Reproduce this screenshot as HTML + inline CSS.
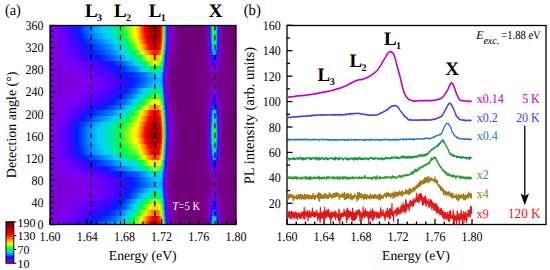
<!DOCTYPE html>
<html><head><meta charset="utf-8"><style>
html,body{margin:0;padding:0;background:#fff;width:550px;height:270px;overflow:hidden}
#wrap{position:relative;width:550px;height:270px}
#heat{position:absolute;left:50.00px;top:25.50px;width:186.00px;height:199.00px;overflow:hidden}
.r{position:absolute;left:0;width:100%}
svg{position:absolute;left:0;top:0}
text{font-family:"Liberation Serif",serif;text-rendering:geometricPrecision}
</style></head><body><div id="wrap">
<div id="heat"><div class="r" style="top:0.00px;height:3.26px;background:linear-gradient(90deg,#7c00e1 0px,#7c00e4 1px,#7c00e7 2px,#7c00ea 3px,#7c00ed 4px,#7b00ef 5px,#7800f0 6px,#7600f1 7px,#7300f2 8px,#7000f3 9px,#6d00f4 10px,#6a00f5 11px,#6700f6 12px,#6300f7 13px,#6000f9 14px,#5c00fa 15px,#5800fc 16px,#5400fd 17px,#5000ff 18px,#4a02ff 19px,#4205ff 20px,#3b08ff 21px,#330bff 22px,#2c0eff 23px,#2410ff 24px,#1d13ff 25px,#1616ff 26px,#0e19ff 27px,#071bff 28px,#001fff 29px,#0027ff 30px,#0030ff 31px,#0038ff 32px,#0041ff 33px,#0049ff 34px,#0052ff 35px,#005aff 36px,#0063ff 37px,#006cff 38px,#0074ff 39px,#007dff 40px,#0084ff 41px,#008cff 42px,#0093ff 43px,#009aff 44px,#00a0ff 45px,#00a7ff 46px,#00adff 47px,#00b4ff 48px,#00baff 49px,#00c0ff 50px,#00c7ff 51px,#00cdff 52px,#00d2fe 53px,#00d4f8 54px,#00d5f1 55px,#00d7ea 56px,#00d8e3 57px,#00dadc 58px,#00dcd5 59px,#00ddce 60px,#00dfc6 61px,#00e1be 62px,#00e3b3 63px,#00e6a8 64px,#00e99b 65px,#00ec8f 66px,#00ee84 67px,#00f178 68px,#00f46c 69px,#00f760 70px,#00fa53 71px,#00fd46 72px,#04ff3b 73px,#17ff37 74px,#2aff32 75px,#3fff2d 76px,#55ff28 77px,#6cff23 78px,#84ff1d 79px,#9dff17 80px,#b7ff11 81px,#d1ff0b 82px,#ecff05 83px,#fffc00 84px,#fff100 85px,#ffe500 86px,#ffd800 87px,#ffc800 88px,#ffb000 89px,#ff9300 90px,#ff7000 91px,#ff5100 92px,#ff3200 93px,#ff1300 94px,#fa0000 95px,#ec0000 96px,#dd0000 97px,#ce0000 98px,#c10000 99px,#b60000 100px,#ab0000 101px,#a20000 102px,#990000 103px,#910000 104px,#8d0000 105px,#900000 106px,#980000 107px,#a20000 108px,#b10000 109px,#c80000 110px,#e70000 111px,#ff3800 112px,#ffc100 113px,#70ff22 114px,#00e4b2 115px,#0085ff 116px,#0c1aff 117px,#5f00f9 118px,#7c00ec 119px,#7c00d5 120px,#7c00cc 121px,#7c00c6 122px,#7c00bf 123px,#7c00b4 124px,#7a00a8 125px,#79009b 126px,#77008d 127px,#740083 128px,#72007e 129px,#71007b 130px,#700079 131px,#6f0078 132px,#6f0078 133px,#6f0077 134px,#6f0077 135px,#6f0077 136px,#6f0077 137px,#6f0077 138px,#6f0077 139px,#6f0077 140px,#6f0077 141px,#6f0077 142px,#6f0077 143px,#6f0077 144px,#6f0077 145px,#6f0077 146px,#6f0077 147px,#6f0078 148px,#6f0078 149px,#700079 150px,#70007a 151px,#71007c 152px,#72007e 153px,#740082 154px,#760086 155px,#770091 156px,#7a00a3 157px,#7c00c0 158px,#7600f0 159px,#2e0dff 160px,#007cff 161px,#00e2b8 162px,#0bff3a 163px,#58ff27 164px,#2dff32 165px,#00ed8c 166px,#00a9ff 167px,#0a1aff 168px,#6700f6 169px,#7c00ce 170px,#7b00a9 171px,#780096 172px,#760089 173px,#740083 174px,#72007f 175px,#71007c 176px,#70007a 177px,#700079 178px,#6f0078 179px,#6f0078 180px,#6f0077 181px,#6f0077 182px,#6f0077 183px,#6f0077 184px,#6f0077 185px,#6f0077 186px)"></div><div class="r" style="top:2.06px;height:6.73px;background:linear-gradient(90deg,#7c00e1 0px,#7c00e4 1px,#7c00e7 2px,#7c00ea 3px,#7c00ed 4px,#7b00ef 5px,#7800f0 6px,#7600f1 7px,#7300f2 8px,#7000f3 9px,#6d00f4 10px,#6a00f5 11px,#6700f6 12px,#6300f7 13px,#6000f9 14px,#5c00fa 15px,#5800fc 16px,#5400fd 17px,#5000ff 18px,#4a02ff 19px,#4205ff 20px,#3b08ff 21px,#330bff 22px,#2c0eff 23px,#2410ff 24px,#1d13ff 25px,#1616ff 26px,#0e19ff 27px,#071bff 28px,#001fff 29px,#0027ff 30px,#0030ff 31px,#0038ff 32px,#0041ff 33px,#0049ff 34px,#0052ff 35px,#005aff 36px,#0063ff 37px,#006cff 38px,#0074ff 39px,#007dff 40px,#0084ff 41px,#008cff 42px,#0093ff 43px,#009aff 44px,#00a0ff 45px,#00a7ff 46px,#00adff 47px,#00b4ff 48px,#00baff 49px,#00c0ff 50px,#00c7ff 51px,#00cdff 52px,#00d2fe 53px,#00d4f8 54px,#00d5f1 55px,#00d7ea 56px,#00d8e3 57px,#00dadc 58px,#00dcd5 59px,#00ddce 60px,#00dfc6 61px,#00e1be 62px,#00e3b3 63px,#00e6a8 64px,#00e99b 65px,#00ec8f 66px,#00ee84 67px,#00f178 68px,#00f46c 69px,#00f760 70px,#00fa53 71px,#00fd46 72px,#04ff3b 73px,#17ff37 74px,#2aff32 75px,#3fff2d 76px,#55ff28 77px,#6cff23 78px,#84ff1d 79px,#9dff17 80px,#b7ff11 81px,#d1ff0b 82px,#ecff05 83px,#fffc00 84px,#fff100 85px,#ffe500 86px,#ffd800 87px,#ffc800 88px,#ffb000 89px,#ff9300 90px,#ff7000 91px,#ff5100 92px,#ff3200 93px,#ff1300 94px,#fa0000 95px,#ec0000 96px,#dd0000 97px,#ce0000 98px,#c10000 99px,#b60000 100px,#ab0000 101px,#a20000 102px,#990000 103px,#910000 104px,#8d0000 105px,#900000 106px,#980000 107px,#a20000 108px,#b10000 109px,#c80000 110px,#e70000 111px,#ff3800 112px,#ffc100 113px,#70ff22 114px,#00e4b2 115px,#0085ff 116px,#0c1aff 117px,#5f00f9 118px,#7c00ec 119px,#7c00d5 120px,#7c00cc 121px,#7c00c6 122px,#7c00bf 123px,#7c00b4 124px,#7a00a8 125px,#79009b 126px,#77008d 127px,#740083 128px,#72007e 129px,#71007b 130px,#700079 131px,#6f0078 132px,#6f0078 133px,#6f0077 134px,#6f0077 135px,#6f0077 136px,#6f0077 137px,#6f0077 138px,#6f0077 139px,#6f0077 140px,#6f0077 141px,#6f0077 142px,#6f0077 143px,#6f0077 144px,#6f0077 145px,#6f0077 146px,#6f0077 147px,#6f0078 148px,#6f0078 149px,#700079 150px,#70007a 151px,#71007c 152px,#72007e 153px,#740082 154px,#760086 155px,#770091 156px,#7a00a3 157px,#7c00c0 158px,#7600f0 159px,#2e0dff 160px,#007cff 161px,#00e2b8 162px,#0bff3a 163px,#58ff27 164px,#2dff32 165px,#00ed8c 166px,#00a9ff 167px,#0a1aff 168px,#6700f6 169px,#7c00ce 170px,#7b00a9 171px,#780096 172px,#760089 173px,#740083 174px,#72007f 175px,#71007c 176px,#70007a 177px,#700079 178px,#6f0078 179px,#6f0078 180px,#6f0077 181px,#6f0077 182px,#6f0077 183px,#6f0077 184px,#6f0077 185px,#6f0077 186px)"></div><div class="r" style="top:7.59px;height:6.73px;background:linear-gradient(90deg,#7c00e1 0px,#7c00e3 1px,#7c00e6 2px,#7c00e8 3px,#7c00eb 4px,#7c00ee 5px,#7a00ef 6px,#7700f0 7px,#7500f1 8px,#7200f2 9px,#6f00f3 10px,#6d00f4 11px,#6a00f5 12px,#6600f6 13px,#6300f8 14px,#6000f9 15px,#5c00fa 16px,#5900fc 17px,#5500fd 18px,#5100ff 19px,#4b02ff 20px,#4404ff 21px,#3d07ff 22px,#360aff 23px,#2f0cff 24px,#280fff 25px,#2211ff 26px,#1b14ff 27px,#1417ff 28px,#0d19ff 29px,#061cff 30px,#0020ff 31px,#0028ff 32px,#0030ff 33px,#0038ff 34px,#0040ff 35px,#0048ff 36px,#0050ff 37px,#0059ff 38px,#0061ff 39px,#0068ff 40px,#0070ff 41px,#0077ff 42px,#007dff 43px,#0084ff 44px,#008aff 45px,#0091ff 46px,#0097ff 47px,#009dff 48px,#00a3ff 49px,#00a9ff 50px,#00afff 51px,#00b5ff 52px,#00bbff 53px,#00c1ff 54px,#00c7ff 55px,#00cdff 56px,#00d2fe 57px,#00d4f7 58px,#00d5f0 59px,#00d7e9 60px,#00d9e2 61px,#00dbda 62px,#00ddd0 63px,#00dfc5 64px,#00e2b9 65px,#00e5ad 66px,#00e7a2 67px,#00ea97 68px,#00ed8c 69px,#00ef80 70px,#00f273 71px,#00f566 72px,#00f858 73px,#00fc4a 74px,#02ff3c 75px,#17ff37 76px,#2eff31 77px,#46ff2c 78px,#5fff26 79px,#79ff20 80px,#94ff19 81px,#afff13 82px,#cbff0c 83px,#e6ff06 84px,#ffff00 85px,#fff200 86px,#ffe500 87px,#ffd400 88px,#ffbd00 89px,#ffa000 90px,#ff8100 91px,#ff6200 92px,#ff4400 93px,#ff2600 94px,#ff0600 95px,#f40000 96px,#e50000 97px,#d70000 98px,#ca0000 99px,#bf0000 100px,#b40000 101px,#ab0000 102px,#a30000 103px,#9b0000 104px,#970000 105px,#9a0000 106px,#a10000 107px,#ab0000 108px,#ba0000 109px,#d00000 110px,#ee0000 111px,#ff4800 112px,#ffcc00 113px,#5bff27 114px,#00e0c0 115px,#007bff 116px,#1217ff 117px,#6100f8 118px,#7c00e9 119px,#7c00d2 120px,#7c00c9 121px,#7c00c3 122px,#7c00bc 123px,#7c00b2 124px,#7a00a6 125px,#780099 126px,#77008c 127px,#740083 128px,#72007e 129px,#70007b 130px,#700079 131px,#6f0078 132px,#6f0077 133px,#6f0077 134px,#6f0077 135px,#6f0077 136px,#6f0077 137px,#6f0077 138px,#6f0077 139px,#6f0077 140px,#6f0077 141px,#6f0077 142px,#6f0077 143px,#6f0077 144px,#6f0077 145px,#6f0077 146px,#6f0077 147px,#6f0078 148px,#6f0078 149px,#700079 150px,#70007b 151px,#71007c 152px,#72007f 153px,#740082 154px,#760087 155px,#780093 156px,#7a00a3 157px,#7c00c0 158px,#7800f0 159px,#330bff 160px,#0071ff 161px,#00dfc9 162px,#00fc49 163px,#3aff2e 164px,#10ff38 165px,#00e89e 166px,#009cff 167px,#1118ff 168px,#6900f5 169px,#7c00cd 170px,#7b00aa 171px,#780097 172px,#76008a 173px,#750084 174px,#730080 175px,#72007d 176px,#71007b 177px,#70007a 178px,#700079 179px,#6f0078 180px,#6f0077 181px,#6f0077 182px,#6f0077 183px,#6f0077 184px,#6f0077 185px,#6f0077 186px)"></div><div class="r" style="top:13.12px;height:6.73px;background:linear-gradient(90deg,#7c00df 0px,#7c00e1 1px,#7c00e3 2px,#7c00e6 3px,#7c00e8 4px,#7c00eb 5px,#7c00ed 6px,#7a00ef 7px,#7800ef 8px,#7600f0 9px,#7400f1 10px,#7100f2 11px,#6e00f3 12px,#6c00f4 13px,#6900f5 14px,#6600f7 15px,#6300f8 16px,#6000f9 17px,#5c00fa 18px,#5900fc 19px,#5600fd 20px,#5200fe 21px,#4e01ff 22px,#4803ff 23px,#4205ff 24px,#3c07ff 25px,#360aff 26px,#300cff 27px,#2a0eff 28px,#2311ff 29px,#1d13ff 30px,#1716ff 31px,#1018ff 32px,#0a1aff 33px,#031dff 34px,#0021ff 35px,#0029ff 36px,#0030ff 37px,#0037ff 38px,#003fff 39px,#0046ff 40px,#004cff 41px,#0053ff 42px,#0059ff 43px,#005fff 44px,#0065ff 45px,#006aff 46px,#0070ff 47px,#0076ff 48px,#007bff 49px,#0081ff 50px,#0087ff 51px,#008cff 52px,#0092ff 53px,#0097ff 54px,#009dff 55px,#00a3ff 56px,#00a8ff 57px,#00aeff 58px,#00b4ff 59px,#00baff 60px,#00c1ff 61px,#00c8ff 62px,#00d1ff 63px,#00d4f6 64px,#00d7eb 65px,#00d9e1 66px,#00dbd7 67px,#00decc 68px,#00e0c2 69px,#00e3b6 70px,#00e6aa 71px,#00e99d 72px,#00ec8f 73px,#00ef81 74px,#00f371 75px,#00f760 76px,#00fb4f 77px,#00ff3c 78px,#1aff36 79px,#34ff30 80px,#50ff29 81px,#6cff23 82px,#89ff1c 83px,#a5ff15 84px,#c0ff0f 85px,#dcff08 86px,#fbff01 87px,#fff100 88px,#ffda00 89px,#ffbe00 90px,#ffa300 91px,#ff8a00 92px,#ff6e00 93px,#ff5200 94px,#ff3300 95px,#ff1100 96px,#f80000 97px,#ea0000 98px,#de0000 99px,#d30000 100px,#ca0000 101px,#c20000 102px,#b90000 103px,#b20000 104px,#ae0000 105px,#b10000 106px,#b80000 107px,#c10000 108px,#ce0000 109px,#e30000 110px,#ff0000 111px,#ff6e00 112px,#ffe700 113px,#29ff32 114px,#00d9e1 115px,#0064ff 116px,#2211ff 117px,#6700f6 118px,#7c00e3 119px,#7c00cc 120px,#7c00c2 121px,#7c00bc 122px,#7c00b6 123px,#7b00ad 124px,#7a00a2 125px,#780096 126px,#76008a 127px,#740082 128px,#72007d 129px,#70007a 130px,#700079 131px,#6f0078 132px,#6f0077 133px,#6f0077 134px,#6f0077 135px,#6f0077 136px,#6f0077 137px,#6f0077 138px,#6f0077 139px,#6f0077 140px,#6f0077 141px,#6f0077 142px,#6f0077 143px,#6f0077 144px,#6f0077 145px,#6f0078 146px,#6f0078 147px,#700079 148px,#700079 149px,#70007a 150px,#71007c 151px,#72007e 152px,#730081 153px,#750084 154px,#76008a 155px,#780095 156px,#7a00a5 157px,#7c00bf 158px,#7b00ee 159px,#4205ff 160px,#0057ff 161px,#00d5f1 162px,#00f17a 163px,#00fd45 164px,#00f663 165px,#00deca 166px,#007fff 167px,#2211ff 168px,#6e00f3 169px,#7c00cb 170px,#7b00ab 171px,#780099 172px,#77008d 173px,#750086 174px,#740082 175px,#72007f 176px,#71007d 177px,#71007b 178px,#70007a 179px,#700079 180px,#6f0078 181px,#6f0078 182px,#6f0077 183px,#6f0077 184px,#6f0077 185px,#6f0077 186px)"></div><div class="r" style="top:18.65px;height:6.73px;background:linear-gradient(90deg,#7c00de 0px,#7c00e0 1px,#7c00e2 2px,#7c00e4 3px,#7c00e6 4px,#7c00e8 5px,#7c00ea 6px,#7c00ec 7px,#7b00ee 8px,#7900ef 9px,#7700f0 10px,#7500f1 11px,#7300f2 12px,#7000f2 13px,#6e00f3 14px,#6b00f4 15px,#6900f5 16px,#6600f7 17px,#6300f8 18px,#6000f9 19px,#5d00fa 20px,#5b00fb 21px,#5800fc 22px,#5500fd 23px,#5200fe 24px,#4e01ff 25px,#4903ff 26px,#4305ff 27px,#3e07ff 28px,#3809ff 29px,#320bff 30px,#2d0dff 31px,#270fff 32px,#2112ff 33px,#1c14ff 34px,#1616ff 35px,#1018ff 36px,#0a1aff 37px,#041cff 38px,#0020ff 39px,#0026ff 40px,#002cff 41px,#0032ff 42px,#0037ff 43px,#003dff 44px,#0042ff 45px,#0047ff 46px,#004dff 47px,#0052ff 48px,#0057ff 49px,#005cff 50px,#0062ff 51px,#0067ff 52px,#006cff 53px,#0071ff 54px,#0077ff 55px,#007cff 56px,#0082ff 57px,#0087ff 58px,#008dff 59px,#0093ff 60px,#0099ff 61px,#00a0ff 62px,#00a7ff 63px,#00b0ff 64px,#00b9ff 65px,#00c2ff 66px,#00cbff 67px,#00d2fd 68px,#00d5f3 69px,#00d7e9 70px,#00dadd 71px,#00ddd1 72px,#00e0c4 73px,#00e3b6 74px,#00e6a8 75px,#00ea98 76px,#00ee88 77px,#00f276 78px,#00f664 79px,#00fa50 80px,#00ff3d 81px,#1aff36 82px,#34ff30 83px,#4fff29 84px,#68ff24 85px,#82ff1d 86px,#9fff17 87px,#c0ff0f 88px,#eeff04 89px,#ffed00 90px,#ffd400 91px,#ffbf00 92px,#ffaa00 93px,#ff9500 94px,#ff7b00 95px,#ff5d00 96px,#ff3b00 97px,#ff1b00 98px,#fe0000 99px,#f40000 100px,#ec0000 101px,#e40000 102px,#dd0000 103px,#d60000 104px,#d30000 105px,#d50000 106px,#db0000 107px,#e20000 108px,#ee0000 109px,#ff0300 110px,#ff4600 111px,#ffa500 112px,#daff09 113px,#00f858 114px,#00beff 115px,#0040ff 116px,#3a08ff 117px,#7000f3 118px,#7c00d9 119px,#7c00c2 120px,#7c00b8 121px,#7c00b2 122px,#7b00ad 123px,#7a00a6 124px,#79009c 125px,#770091 126px,#760087 127px,#730081 128px,#71007c 129px,#70007a 130px,#700079 131px,#6f0078 132px,#6f0077 133px,#6f0077 134px,#6f0077 135px,#6f0077 136px,#6f0077 137px,#6f0077 138px,#6f0077 139px,#6f0077 140px,#6f0077 141px,#6f0077 142px,#6f0077 143px,#6f0078 144px,#6f0078 145px,#700079 146px,#700079 147px,#70007a 148px,#71007b 149px,#71007d 150px,#72007f 151px,#730081 152px,#740083 153px,#760087 154px,#77008e 155px,#780097 156px,#7a00a5 157px,#7c00bc 158px,#7c00e5 159px,#5600fd 160px,#002bff 161px,#00a4ff 162px,#00dfc8 163px,#00ea98 164px,#00e4b3 165px,#00c4ff 166px,#004fff 167px,#3f07ff 168px,#7700f0 169px,#7c00c6 170px,#7b00aa 171px,#79009a 172px,#770090 173px,#760089 174px,#750084 175px,#740081 176px,#72007f 177px,#72007d 178px,#71007c 179px,#70007a 180px,#700079 181px,#700079 182px,#6f0078 183px,#6f0078 184px,#6f0077 185px,#6f0077 186px)"></div><div class="r" style="top:24.17px;height:6.73px;background:linear-gradient(90deg,#7c00dd 0px,#7c00df 1px,#7c00e0 2px,#7c00e2 3px,#7c00e4 4px,#7c00e6 5px,#7c00e8 6px,#7c00ea 7px,#7c00ec 8px,#7c00ee 9px,#7a00ef 10px,#7800f0 11px,#7600f0 12px,#7400f1 13px,#7200f2 14px,#6f00f3 15px,#6d00f4 16px,#6b00f5 17px,#6800f6 18px,#6600f7 19px,#6300f8 20px,#6100f9 21px,#5e00fa 22px,#5b00fb 23px,#5900fc 24px,#5600fd 25px,#5300fe 26px,#5100ff 27px,#4c01ff 28px,#4703ff 29px,#4205ff 30px,#3d07ff 31px,#3809ff 32px,#320bff 33px,#2d0dff 34px,#280fff 35px,#2311ff 36px,#1d13ff 37px,#1815ff 38px,#1317ff 39px,#0d19ff 40px,#091bff 41px,#041dff 42px,#001fff 43px,#0024ff 44px,#0029ff 45px,#002eff 46px,#0033ff 47px,#0038ff 48px,#003dff 49px,#0042ff 50px,#0047ff 51px,#004cff 52px,#0051ff 53px,#0056ff 54px,#005bff 55px,#0060ff 56px,#0065ff 57px,#006bff 58px,#0070ff 59px,#0076ff 60px,#007cff 61px,#0082ff 62px,#0089ff 63px,#0092ff 64px,#009aff 65px,#00a3ff 66px,#00abff 67px,#00b3ff 68px,#00bbff 69px,#00c4ff 70px,#00ceff 71px,#00d3f9 72px,#00d6ee 73px,#00d8e3 74px,#00dbd7 75px,#00deca 76px,#00e1bc 77px,#00e5ae 78px,#00e89f 79px,#00ec90 80px,#00ef80 81px,#00f36f 82px,#00f75f 83px,#00fb4f 84px,#00fe3f 85px,#12ff38 86px,#29ff32 87px,#45ff2c 88px,#6bff23 89px,#99ff18 90px,#c7ff0d 91px,#f0ff04 92px,#fff400 93px,#ffe200 94px,#ffcf00 95px,#ffba00 96px,#ffa300 97px,#ff8c00 98px,#ff7300 99px,#ff5d00 100px,#ff4900 101px,#ff3700 102px,#ff2600 103px,#ff1600 104px,#ff0f00 105px,#ff1200 106px,#ff1e00 107px,#ff2f00 108px,#ff4800 109px,#ff6f00 110px,#ffa300 111px,#ffe800 112px,#5dff26 113px,#00e6aa 114px,#007eff 115px,#0e19ff 116px,#5600fd 117px,#7c00ee 118px,#7c00cc 119px,#7c00b5 120px,#7b00ac 121px,#7a00a6 122px,#7a00a2 123px,#79009c 124px,#780094 125px,#76008b 126px,#750084 127px,#72007f 128px,#71007b 129px,#700079 130px,#6f0078 131px,#6f0078 132px,#6f0077 133px,#6f0077 134px,#6f0077 135px,#6f0077 136px,#6f0077 137px,#6f0077 138px,#6f0077 139px,#6f0078 140px,#6f0078 141px,#6f0078 142px,#700079 143px,#700079 144px,#70007a 145px,#70007b 146px,#71007b 147px,#71007d 148px,#72007e 149px,#730080 150px,#730081 151px,#740083 152px,#760086 153px,#76008a 154px,#770090 155px,#780097 156px,#7a00a2 157px,#7c00b3 158px,#7c00d5 159px,#6a00f5 160px,#2a0eff 161px,#0053ff 162px,#00a3ff 163px,#00c8ff 164px,#00b3ff 165px,#006dff 166px,#1018ff 167px,#5d00fa 168px,#7c00e2 169px,#7c00bc 170px,#7a00a7 171px,#79009a 172px,#770092 173px,#77008b 174px,#760087 175px,#750084 176px,#740082 177px,#730080 178px,#72007e 179px,#72007d 180px,#71007c 181px,#71007b 182px,#70007a 183px,#700079 184px,#700079 185px,#6f0078 186px)"></div><div class="r" style="top:29.70px;height:6.73px;background:linear-gradient(90deg,#7c00dc 0px,#7c00dd 1px,#7c00de 2px,#7c00e0 3px,#7c00e1 4px,#7c00e3 5px,#7c00e5 6px,#7c00e6 7px,#7c00e8 8px,#7c00ea 9px,#7c00ec 10px,#7c00ee 11px,#7a00ef 12px,#7800ef 13px,#7600f0 14px,#7500f1 15px,#7300f2 16px,#7100f2 17px,#6e00f3 18px,#6c00f4 19px,#6a00f5 20px,#6800f6 21px,#6600f7 22px,#6400f7 23px,#6100f8 24px,#5f00f9 25px,#5d00fa 26px,#5a00fb 27px,#5800fc 28px,#5600fd 29px,#5300fe 30px,#5100ff 31px,#4c01ff 32px,#4803ff 33px,#4305ff 34px,#3f07ff 35px,#3a08ff 36px,#350aff 37px,#300cff 38px,#2c0eff 39px,#270fff 40px,#2311ff 41px,#1e13ff 42px,#1a14ff 43px,#1616ff 44px,#1217ff 45px,#0e19ff 46px,#0a1aff 47px,#061cff 48px,#021dff 49px,#0021ff 50px,#0025ff 51px,#002aff 52px,#002eff 53px,#0033ff 54px,#0038ff 55px,#003dff 56px,#0042ff 57px,#0047ff 58px,#004cff 59px,#0051ff 60px,#0057ff 61px,#005dff 62px,#0064ff 63px,#006bff 64px,#0073ff 65px,#007bff 66px,#0082ff 67px,#008aff 68px,#0092ff 69px,#0099ff 70px,#00a1ff 71px,#00a9ff 72px,#00b1ff 73px,#00b8ff 74px,#00c1ff 75px,#00c9ff 76px,#00d2ff 77px,#00d4f5 78px,#00d7ea 79px,#00d9e0 80px,#00dcd5 81px,#00dec9 82px,#00e1be 83px,#00e4b3 84px,#00e6a7 85px,#00e99c 86px,#00ec8e 87px,#00f07f 88px,#00f46a 89px,#00fb4f 90px,#09ff3a 91px,#28ff33 92px,#47ff2b 93px,#66ff24 94px,#87ff1c 95px,#abff14 96px,#d1ff0b 97px,#f8ff02 98px,#fff200 99px,#ffe400 100px,#ffd700 101px,#ffcc00 102px,#ffc000 103px,#ffb600 104px,#ffb100 105px,#ffb200 106px,#ffb800 107px,#ffc100 108px,#ffcf00 109px,#ffe500 110px,#ecff05 111px,#74ff21 112px,#00f46d 113px,#00c1ff 114px,#002cff 115px,#4604ff 116px,#6d00f4 117px,#7c00d9 118px,#7c00bb 119px,#7a00a8 120px,#79009d 121px,#780098 122px,#780094 123px,#77008f 124px,#760089 125px,#750084 126px,#730080 127px,#71007d 128px,#70007a 129px,#700079 130px,#6f0078 131px,#6f0078 132px,#6f0077 133px,#6f0077 134px,#6f0078 135px,#6f0078 136px,#6f0078 137px,#6f0078 138px,#700078 139px,#700079 140px,#700079 141px,#70007a 142px,#70007b 143px,#71007b 144px,#71007c 145px,#72007d 146px,#72007e 147px,#73007f 148px,#730081 149px,#740082 150px,#740084 151px,#750085 152px,#760087 153px,#77008b 154px,#77008f 155px,#780095 156px,#79009d 157px,#7b00a9 158px,#7c00bf 159px,#7c00e3 160px,#6100f8 161px,#2d0dff 162px,#0027ff 163px,#0042ff 164px,#0033ff 165px,#1c14ff 166px,#5700fc 167px,#7b00ef 168px,#7c00c8 169px,#7b00ae 170px,#7900a0 171px,#780097 172px,#770091 173px,#77008c 174px,#760088 175px,#750086 176px,#750084 177px,#740082 178px,#730081 179px,#730080 180px,#72007e 181px,#72007d 182px,#71007c 183px,#71007b 184px,#71007b 185px,#70007a 186px)"></div><div class="r" style="top:35.23px;height:6.73px;background:linear-gradient(90deg,#7c00da 0px,#7c00da 1px,#7c00db 2px,#7c00dc 3px,#7c00dd 4px,#7c00de 5px,#7c00df 6px,#7c00e0 7px,#7c00e1 8px,#7c00e2 9px,#7c00e4 10px,#7c00e5 11px,#7c00e6 12px,#7c00e8 13px,#7c00e9 14px,#7c00eb 15px,#7c00ed 16px,#7c00ee 17px,#7a00ef 18px,#7900ef 19px,#7800f0 20px,#7600f0 21px,#7500f1 22px,#7300f1 23px,#7200f2 24px,#7000f3 25px,#6e00f3 26px,#6d00f4 27px,#6b00f5 28px,#6900f5 29px,#6700f6 30px,#6600f7 31px,#6400f7 32px,#6200f8 33px,#6000f9 34px,#5e00fa 35px,#5c00fa 36px,#5a00fb 37px,#5800fc 38px,#5600fd 39px,#5400fd 40px,#5200fe 41px,#5100ff 42px,#4e01ff 43px,#4b02ff 44px,#4703ff 45px,#4405ff 46px,#4006ff 47px,#3d07ff 48px,#3a08ff 49px,#360aff 50px,#320bff 51px,#2f0cff 52px,#2b0eff 53px,#270fff 54px,#2411ff 55px,#2012ff 56px,#1c14ff 57px,#1815ff 58px,#1417ff 59px,#1018ff 60px,#0b1aff 61px,#061cff 62px,#011dff 63px,#0023ff 64px,#0029ff 65px,#002fff 66px,#0036ff 67px,#003cff 68px,#0043ff 69px,#0049ff 70px,#0050ff 71px,#0058ff 72px,#005fff 73px,#0067ff 74px,#006fff 75px,#0078ff 76px,#0081ff 77px,#008aff 78px,#0094ff 79px,#009eff 80px,#00a8ff 81px,#00b3ff 82px,#00bdff 83px,#00c8ff 84px,#00d2fe 85px,#00d5f2 86px,#00d8e5 87px,#00dbd7 88px,#00e0c4 89px,#00e5ae 90px,#00ea99 91px,#00ee86 92px,#00f273 93px,#00f760 94px,#00fb4c 95px,#08ff3a 96px,#26ff33 97px,#45ff2c 98px,#60ff25 99px,#7aff1f 100px,#91ff1a 101px,#a7ff15 102px,#bbff10 103px,#ceff0c 104px,#d8ff09 105px,#d8ff09 106px,#d1ff0b 107px,#c5ff0e 108px,#b0ff13 109px,#8dff1b 110px,#52ff29 111px,#00fd46 112px,#00e1c0 113px,#0080ff 114px,#2510ff 115px,#5f00f9 116px,#7c00ee 117px,#7c00cb 118px,#7c00b0 119px,#79009f 120px,#780094 121px,#77008e 122px,#76008b 123px,#760087 124px,#750084 125px,#730081 126px,#72007e 127px,#71007b 128px,#700079 129px,#700078 130px,#6f0078 131px,#6f0078 132px,#6f0078 133px,#6f0078 134px,#6f0078 135px,#6f0078 136px,#700079 137px,#700079 138px,#700079 139px,#70007a 140px,#70007a 141px,#71007b 142px,#71007c 143px,#71007d 144px,#72007d 145px,#72007e 146px,#73007f 147px,#730080 148px,#740082 149px,#740083 150px,#750084 151px,#750086 152px,#760087 153px,#76008a 154px,#77008d 155px,#770092 156px,#780098 157px,#7900a1 158px,#7b00b0 159px,#7c00cb 160px,#7c00ee 161px,#6000f9 162px,#4305ff 163px,#310cff 164px,#3b08ff 165px,#5800fc 166px,#7400f1 167px,#7c00d4 168px,#7c00b6 169px,#7a00a5 170px,#79009a 171px,#780093 172px,#77008e 173px,#77008b 174px,#760088 175px,#760086 176px,#750085 177px,#740083 178px,#740082 179px,#730081 180px,#730080 181px,#72007f 182px,#72007e 183px,#71007d 184px,#71007c 185px,#71007b 186px)"></div><div class="r" style="top:40.76px;height:6.73px;background:linear-gradient(90deg,#7c00d9 0px,#7c00d9 1px,#7c00da 2px,#7c00da 3px,#7c00db 4px,#7c00dc 5px,#7c00dd 6px,#7c00dd 7px,#7c00de 8px,#7c00df 9px,#7c00e0 10px,#7c00e1 11px,#7c00e2 12px,#7c00e3 13px,#7c00e5 14px,#7c00e6 15px,#7c00e7 16px,#7c00e8 17px,#7c00ea 18px,#7c00eb 19px,#7c00ec 20px,#7c00ee 21px,#7b00ee 22px,#7a00ef 23px,#7900ef 24px,#7700f0 25px,#7600f0 26px,#7400f1 27px,#7300f1 28px,#7200f2 29px,#7000f3 30px,#6e00f3 31px,#6d00f4 32px,#6b00f4 33px,#6a00f5 34px,#6800f6 35px,#6600f6 36px,#6500f7 37px,#6300f8 38px,#6100f8 39px,#6000f9 40px,#5e00fa 41px,#5c00fa 42px,#5b00fb 43px,#5900fb 44px,#5700fc 45px,#5600fd 46px,#5400fd 47px,#5200fe 48px,#5100ff 49px,#4e01ff 50px,#4a02ff 51px,#4703ff 52px,#4405ff 53px,#4006ff 54px,#3c07ff 55px,#3909ff 56px,#350aff 57px,#310cff 58px,#2d0dff 59px,#290fff 60px,#2510ff 61px,#2112ff 62px,#1c13ff 63px,#1715ff 64px,#1217ff 65px,#0d19ff 66px,#081bff 67px,#021dff 68px,#0021ff 69px,#0027ff 70px,#002dff 71px,#0032ff 72px,#0038ff 73px,#003eff 74px,#0044ff 75px,#004aff 76px,#0050ff 77px,#0056ff 78px,#005dff 79px,#0063ff 80px,#006aff 81px,#0071ff 82px,#0078ff 83px,#007fff 84px,#0087ff 85px,#008eff 86px,#0097ff 87px,#00a0ff 88px,#00abff 89px,#00b9ff 90px,#00c6ff 91px,#00d2fe 92px,#00d5f0 93px,#00d9e3 94px,#00dcd4 95px,#00dfc5 96px,#00e3b5 97px,#00e7a6 98px,#00ea97 99px,#00ed89 100px,#00f07b 101px,#00f36f 102px,#00f663 103px,#00f859 104px,#00fa52 105px,#00fb4f 106px,#00fa50 107px,#00fa53 108px,#00f85a 109px,#00f567 110px,#00ee84 111px,#00e2b8 112px,#00b5ff 113px,#0035ff 114px,#5800fc 115px,#7800f0 116px,#7c00d6 117px,#7c00bb 118px,#7a00a6 119px,#780095 120px,#760089 121px,#750084 122px,#740083 123px,#730081 124px,#72007f 125px,#72007d 126px,#71007b 127px,#70007a 128px,#700079 129px,#6f0078 130px,#6f0078 131px,#6f0078 132px,#6f0078 133px,#700079 134px,#700079 135px,#700079 136px,#70007a 137px,#70007a 138px,#70007a 139px,#71007b 140px,#71007c 141px,#71007c 142px,#72007d 143px,#72007e 144px,#72007e 145px,#73007f 146px,#730080 147px,#730081 148px,#740082 149px,#740083 150px,#750084 151px,#750085 152px,#760086 153px,#760088 154px,#76008a 155px,#77008d 156px,#770091 157px,#780098 158px,#7a00a1 159px,#7b00b0 160px,#7c00c6 161px,#7c00de 162px,#7900ef 163px,#7200f2 164px,#7600f0 165px,#7c00e5 166px,#7c00cd 167px,#7c00b5 168px,#7a00a5 169px,#79009a 170px,#780093 171px,#77008e 172px,#77008b 173px,#760089 174px,#760087 175px,#750086 176px,#750085 177px,#740084 178px,#740082 179px,#740081 180px,#730081 181px,#730080 182px,#72007f 183px,#72007e 184px,#72007d 185px,#71007c 186px)"></div><div class="r" style="top:46.29px;height:6.73px;background:linear-gradient(90deg,#7c00d8 0px,#7c00d8 1px,#7c00d9 2px,#7c00d9 3px,#7c00d9 4px,#7c00da 5px,#7c00da 6px,#7c00db 7px,#7c00dc 8px,#7c00dc 9px,#7c00dd 10px,#7c00de 11px,#7c00df 12px,#7c00df 13px,#7c00e0 14px,#7c00e1 15px,#7c00e2 16px,#7c00e3 17px,#7c00e4 18px,#7c00e5 19px,#7c00e6 20px,#7c00e7 21px,#7c00e8 22px,#7c00e9 23px,#7c00eb 24px,#7c00ec 25px,#7c00ed 26px,#7b00ee 27px,#7a00ef 28px,#7900ef 29px,#7700f0 30px,#7600f0 31px,#7500f1 32px,#7300f1 33px,#7200f2 34px,#7100f2 35px,#6f00f3 36px,#6e00f3 37px,#6c00f4 38px,#6b00f5 39px,#6900f5 40px,#6800f6 41px,#6700f6 42px,#6500f7 43px,#6400f7 44px,#6200f8 45px,#6100f9 46px,#5f00f9 47px,#5d00fa 48px,#5c00fa 49px,#5a00fb 50px,#5800fc 51px,#5700fc 52px,#5500fd 53px,#5300fe 54px,#5100ff 55px,#4f01ff 56px,#4b02ff 57px,#4703ff 58px,#4405ff 59px,#4006ff 60px,#3c08ff 61px,#3809ff 62px,#330bff 63px,#2f0cff 64px,#2a0eff 65px,#2510ff 66px,#2112ff 67px,#1c14ff 68px,#1715ff 69px,#1317ff 70px,#0f18ff 71px,#0b1aff 72px,#081bff 73px,#051cff 74px,#021dff 75px,#001fff 76px,#0022ff 77px,#0025ff 78px,#0028ff 79px,#002bff 80px,#002eff 81px,#0031ff 82px,#0035ff 83px,#0038ff 84px,#003bff 85px,#003fff 86px,#0044ff 87px,#0049ff 88px,#004fff 89px,#0055ff 90px,#005cff 91px,#0064ff 92px,#006bff 93px,#0073ff 94px,#007bff 95px,#0083ff 96px,#008bff 97px,#0092ff 98px,#009bff 99px,#00a3ff 100px,#00abff 101px,#00b2ff 102px,#00b9ff 103px,#00c0ff 104px,#00c5ff 105px,#00caff 106px,#00ceff 107px,#00d1ff 108px,#00d2fe 109px,#00d2fe 110px,#00c6ff 111px,#00aaff 112px,#005dff 113px,#2e0dff 114px,#7800f0 115px,#7c00d4 116px,#7c00be 117px,#7b00ad 118px,#79009c 119px,#77008b 120px,#740081 121px,#72007d 122px,#71007c 123px,#71007b 124px,#70007a 125px,#700079 126px,#700079 127px,#6f0078 128px,#6f0078 129px,#6f0078 130px,#6f0078 131px,#700079 132px,#700079 133px,#700079 134px,#700079 135px,#70007a 136px,#70007a 137px,#71007b 138px,#71007b 139px,#71007c 140px,#71007c 141px,#72007d 142px,#72007e 143px,#72007e 144px,#72007f 145px,#730080 146px,#730081 147px,#730081 148px,#740082 149px,#740083 150px,#750084 151px,#750084 152px,#750085 153px,#760086 154px,#760087 155px,#760088 156px,#76008a 157px,#77008d 158px,#780092 159px,#780099 160px,#7a00a2 161px,#7b00ab 162px,#7c00b3 163px,#7c00b7 164px,#7c00b5 165px,#7b00ae 166px,#7a00a5 167px,#79009c 168px,#780094 169px,#77008f 170px,#77008b 171px,#760089 172px,#760087 173px,#760086 174px,#750086 175px,#750085 176px,#750084 177px,#740083 178px,#740082 179px,#740082 180px,#730081 181px,#730080 182px,#73007f 183px,#72007f 184px,#72007e 185px,#72007d 186px)"></div><div class="r" style="top:51.81px;height:6.73px;background:linear-gradient(90deg,#7c00d7 0px,#7c00d7 1px,#7c00d7 2px,#7c00d7 3px,#7c00d7 4px,#7c00d7 5px,#7c00d7 6px,#7c00d8 7px,#7c00d8 8px,#7c00d8 9px,#7c00d9 10px,#7c00d9 11px,#7c00d9 12px,#7c00da 13px,#7c00da 14px,#7c00da 15px,#7c00db 16px,#7c00db 17px,#7c00dc 18px,#7c00dc 19px,#7c00dd 20px,#7c00dd 21px,#7c00de 22px,#7c00de 23px,#7c00df 24px,#7c00e0 25px,#7c00e1 26px,#7c00e2 27px,#7c00e3 28px,#7c00e5 29px,#7c00e6 30px,#7c00e7 31px,#7c00e8 32px,#7c00ea 33px,#7c00eb 34px,#7c00ed 35px,#7c00ee 36px,#7b00ee 37px,#7a00ef 38px,#7900ef 39px,#7800f0 40px,#7600f0 41px,#7500f1 42px,#7400f1 43px,#7300f2 44px,#7200f2 45px,#7000f3 46px,#6f00f3 47px,#6d00f4 48px,#6c00f4 49px,#6a00f5 50px,#6900f5 51px,#6700f6 52px,#6600f7 53px,#6400f7 54px,#6200f8 55px,#6000f9 56px,#5f00f9 57px,#5d00fa 58px,#5b00fb 59px,#5900fc 60px,#5700fc 61px,#5500fd 62px,#5300fe 63px,#5000ff 64px,#4d01ff 65px,#4903ff 66px,#4404ff 67px,#4006ff 68px,#3c07ff 69px,#3809ff 70px,#340bff 71px,#300cff 72px,#2c0eff 73px,#280fff 74px,#2411ff 75px,#2012ff 76px,#1c14ff 77px,#1815ff 78px,#1317ff 79px,#0f18ff 80px,#0b1aff 81px,#061cff 82px,#021dff 83px,#0021ff 84px,#0027ff 85px,#002dff 86px,#0033ff 87px,#0039ff 88px,#0040ff 89px,#0047ff 90px,#004eff 91px,#0055ff 92px,#005cff 93px,#0063ff 94px,#006aff 95px,#0071ff 96px,#0078ff 97px,#007fff 98px,#0086ff 99px,#008eff 100px,#0095ff 101px,#009cff 102px,#00a3ff 103px,#00a9ff 104px,#00aeff 105px,#00b3ff 106px,#00b8ff 107px,#00bcff 108px,#00bfff 109px,#00c0ff 110px,#00b6ff 111px,#009cff 112px,#0051ff 113px,#3709ff 114px,#7c00ee 115px,#7c00d0 116px,#7c00bb 117px,#7b00ab 118px,#79009b 119px,#76008a 120px,#730081 121px,#71007d 122px,#71007b 123px,#70007a 124px,#700079 125px,#700079 126px,#700078 127px,#6f0078 128px,#6f0078 129px,#6f0078 130px,#700078 131px,#700079 132px,#700079 133px,#700079 134px,#70007a 135px,#70007a 136px,#70007a 137px,#71007b 138px,#71007b 139px,#71007c 140px,#71007c 141px,#72007d 142px,#72007e 143px,#72007e 144px,#72007f 145px,#730080 146px,#730081 147px,#730081 148px,#740082 149px,#740083 150px,#740084 151px,#750084 152px,#750085 153px,#750086 154px,#760087 155px,#760088 156px,#760089 157px,#77008c 158px,#770090 159px,#780096 160px,#79009e 161px,#7a00a6 162px,#7b00ac 163px,#7b00af 164px,#7b00ae 165px,#7a00a8 166px,#7900a0 167px,#780098 168px,#770092 169px,#77008d 170px,#76008a 171px,#760088 172px,#760087 173px,#760086 174px,#750085 175px,#750085 176px,#750084 177px,#740083 178px,#740082 179px,#740082 180px,#730081 181px,#730080 182px,#73007f 183px,#72007f 184px,#72007e 185px,#72007d 186px)"></div><div class="r" style="top:57.34px;height:6.73px;background:linear-gradient(90deg,#7c00d7 0px,#7c00d7 1px,#7c00d7 2px,#7c00d7 3px,#7c00d7 4px,#7c00d7 5px,#7c00d7 6px,#7c00d8 7px,#7c00d8 8px,#7c00d8 9px,#7c00d9 10px,#7c00d9 11px,#7c00d9 12px,#7c00da 13px,#7c00da 14px,#7c00da 15px,#7c00db 16px,#7c00db 17px,#7c00dc 18px,#7c00dc 19px,#7c00dd 20px,#7c00dd 21px,#7c00de 22px,#7c00de 23px,#7c00df 24px,#7c00e0 25px,#7c00e1 26px,#7c00e2 27px,#7c00e3 28px,#7c00e5 29px,#7c00e6 30px,#7c00e7 31px,#7c00e8 32px,#7c00ea 33px,#7c00eb 34px,#7c00ed 35px,#7c00ee 36px,#7b00ee 37px,#7a00ef 38px,#7900ef 39px,#7800f0 40px,#7600f0 41px,#7500f1 42px,#7400f1 43px,#7300f2 44px,#7200f2 45px,#7000f3 46px,#6f00f3 47px,#6d00f4 48px,#6c00f4 49px,#6a00f5 50px,#6900f5 51px,#6700f6 52px,#6600f7 53px,#6400f7 54px,#6200f8 55px,#6000f9 56px,#5f00f9 57px,#5d00fa 58px,#5b00fb 59px,#5900fc 60px,#5700fc 61px,#5500fd 62px,#5300fe 63px,#5000ff 64px,#4d01ff 65px,#4903ff 66px,#4404ff 67px,#4006ff 68px,#3c07ff 69px,#3809ff 70px,#330bff 71px,#2f0cff 72px,#2b0eff 73px,#2610ff 74px,#2112ff 75px,#1d13ff 76px,#1815ff 77px,#1317ff 78px,#0e19ff 79px,#081bff 80px,#031dff 81px,#0021ff 82px,#0027ff 83px,#002eff 84px,#0034ff 85px,#003bff 86px,#0043ff 87px,#004aff 88px,#0052ff 89px,#005bff 90px,#0063ff 91px,#006bff 92px,#0073ff 93px,#007bff 94px,#0083ff 95px,#008cff 96px,#0094ff 97px,#009cff 98px,#00a5ff 99px,#00adff 100px,#00b5ff 101px,#00bdff 102px,#00c5ff 103px,#00cbff 104px,#00d1ff 105px,#00d3fc 106px,#00d4f8 107px,#00d4f4 108px,#00d5f3 109px,#00d4f4 110px,#00cfff 111px,#00b1ff 112px,#0063ff 113px,#2a0eff 114px,#7600f0 115px,#7c00d6 116px,#7c00c0 117px,#7b00ae 118px,#79009d 119px,#77008c 120px,#740082 121px,#72007e 122px,#71007d 123px,#71007b 124px,#70007a 125px,#70007a 126px,#700079 127px,#700078 128px,#6f0078 129px,#6f0078 130px,#6f0078 131px,#700079 132px,#700079 133px,#700079 134px,#700079 135px,#70007a 136px,#70007a 137px,#71007b 138px,#71007b 139px,#71007c 140px,#71007c 141px,#72007d 142px,#72007e 143px,#72007e 144px,#72007f 145px,#730080 146px,#730081 147px,#730081 148px,#740082 149px,#740083 150px,#750084 151px,#750085 152px,#750085 153px,#760086 154px,#760087 155px,#760089 156px,#77008b 157px,#77008e 158px,#780093 159px,#79009b 160px,#7a00a4 161px,#7b00ae 162px,#7c00b7 163px,#7c00bc 164px,#7c00b9 165px,#7c00b1 166px,#7a00a7 167px,#79009d 168px,#780095 169px,#77008f 170px,#77008c 171px,#760089 172px,#760087 173px,#760086 174px,#750086 175px,#750085 176px,#750084 177px,#740083 178px,#740082 179px,#740082 180px,#730081 181px,#730080 182px,#73007f 183px,#72007e 184px,#72007e 185px,#72007d 186px)"></div><div class="r" style="top:62.87px;height:6.73px;background:linear-gradient(90deg,#7c00d7 0px,#7c00d8 1px,#7c00d8 2px,#7c00d8 3px,#7c00d9 4px,#7c00d9 5px,#7c00d9 6px,#7c00da 7px,#7c00da 8px,#7c00db 9px,#7c00db 10px,#7c00dc 11px,#7c00dc 12px,#7c00dd 13px,#7c00de 14px,#7c00de 15px,#7c00df 16px,#7c00e0 17px,#7c00e1 18px,#7c00e1 19px,#7c00e2 20px,#7c00e3 21px,#7c00e4 22px,#7c00e5 23px,#7c00e6 24px,#7c00e7 25px,#7c00e9 26px,#7c00ea 27px,#7c00eb 28px,#7c00ed 29px,#7c00ee 30px,#7b00ef 31px,#7900ef 32px,#7800ef 33px,#7700f0 34px,#7600f0 35px,#7400f1 36px,#7300f1 37px,#7200f2 38px,#7000f2 39px,#6f00f3 40px,#6e00f3 41px,#6d00f4 42px,#6b00f5 43px,#6a00f5 44px,#6800f6 45px,#6700f6 46px,#6500f7 47px,#6400f7 48px,#6200f8 49px,#6100f9 50px,#5f00f9 51px,#5d00fa 52px,#5c00fb 53px,#5a00fb 54px,#5800fc 55px,#5600fd 56px,#5400fd 57px,#5200fe 58px,#5000ff 59px,#4d01ff 60px,#4903ff 61px,#4504ff 62px,#4106ff 63px,#3c07ff 64px,#3809ff 65px,#330bff 66px,#2f0cff 67px,#2a0eff 68px,#2610ff 69px,#2112ff 70px,#1c14ff 71px,#1616ff 72px,#1118ff 73px,#0b1aff 74px,#051cff 75px,#0020ff 76px,#0027ff 77px,#002fff 78px,#0037ff 79px,#0040ff 80px,#0048ff 81px,#0051ff 82px,#005aff 83px,#0063ff 84px,#006cff 85px,#0076ff 86px,#0080ff 87px,#008aff 88px,#0096ff 89px,#00a4ff 90px,#00b1ff 91px,#00bdff 92px,#00c8ff 93px,#00d3fd 94px,#00d6f0 95px,#00d9e2 96px,#00dcd4 97px,#00dfc5 98px,#00e2b8 99px,#00e5ab 100px,#00e89e 101px,#00eb93 102px,#00ee88 103px,#00f07e 104px,#00f177 105px,#00f274 106px,#00f274 107px,#00f275 108px,#00f17a 109px,#00ee86 110px,#00e89f 111px,#00ddcf 112px,#00a3ff 113px,#0026ff 114px,#5e00f9 115px,#7c00ed 116px,#7c00d1 117px,#7c00b8 118px,#7a00a4 119px,#780093 120px,#760087 121px,#740083 122px,#730081 123px,#730080 124px,#72007e 125px,#71007c 126px,#71007b 127px,#700079 128px,#700079 129px,#6f0078 130px,#6f0078 131px,#6f0078 132px,#700078 133px,#700079 134px,#700079 135px,#700079 136px,#70007a 137px,#70007a 138px,#70007b 139px,#71007b 140px,#71007c 141px,#71007c 142px,#72007d 143px,#72007e 144px,#72007f 145px,#73007f 146px,#730080 147px,#730081 148px,#740082 149px,#740083 150px,#750084 151px,#750085 152px,#760086 153px,#760088 154px,#76008a 155px,#77008c 156px,#770090 157px,#780096 158px,#79009e 159px,#7b00ab 160px,#7c00bd 161px,#7c00d4 162px,#7c00e5 163px,#7c00ed 164px,#7c00e9 165px,#7c00d9 166px,#7c00c4 167px,#7b00b0 168px,#7a00a2 169px,#780098 170px,#770091 171px,#77008d 172px,#76008a 173px,#760088 174px,#760087 175px,#750086 176px,#750084 177px,#740083 178px,#740082 179px,#740082 180px,#730081 181px,#730080 182px,#72007f 183px,#72007e 184px,#72007d 185px,#71007d 186px)"></div><div class="r" style="top:68.40px;height:6.73px;background:linear-gradient(90deg,#7c00d9 0px,#7c00d9 1px,#7c00d9 2px,#7c00da 3px,#7c00db 4px,#7c00db 5px,#7c00dc 6px,#7c00dd 7px,#7c00de 8px,#7c00de 9px,#7c00df 10px,#7c00e0 11px,#7c00e1 12px,#7c00e2 13px,#7c00e3 14px,#7c00e4 15px,#7c00e6 16px,#7c00e7 17px,#7c00e8 18px,#7c00e9 19px,#7c00eb 20px,#7c00ec 21px,#7c00ed 22px,#7b00ee 23px,#7a00ef 24px,#7900ef 25px,#7800f0 26px,#7600f0 27px,#7500f1 28px,#7400f1 29px,#7200f2 30px,#7100f2 31px,#6f00f3 32px,#6e00f4 33px,#6c00f4 34px,#6a00f5 35px,#6900f5 36px,#6700f6 37px,#6600f7 38px,#6400f7 39px,#6200f8 40px,#6100f8 41px,#5f00f9 42px,#5e00fa 43px,#5c00fa 44px,#5b00fb 45px,#5900fc 46px,#5700fc 47px,#5500fd 48px,#5400fe 49px,#5200fe 50px,#5000ff 51px,#4d01ff 52px,#4a02ff 53px,#4604ff 54px,#4305ff 55px,#3f06ff 56px,#3b08ff 57px,#3709ff 58px,#340bff 59px,#300cff 60px,#2c0eff 61px,#270fff 62px,#2311ff 63px,#1e13ff 64px,#1915ff 65px,#1417ff 66px,#0f18ff 67px,#0a1aff 68px,#041cff 69px,#001fff 70px,#0026ff 71px,#002dff 72px,#0034ff 73px,#003bff 74px,#0043ff 75px,#004bff 76px,#0054ff 77px,#005dff 78px,#0066ff 79px,#0070ff 80px,#007aff 81px,#0084ff 82px,#008fff 83px,#0099ff 84px,#00a4ff 85px,#00aeff 86px,#00baff 87px,#00c6ff 88px,#00d3fc 89px,#00d7e9 90px,#00dbd6 91px,#00dfc6 92px,#00e3b6 93px,#00e7a5 94px,#00eb95 95px,#00ef82 96px,#00f36f 97px,#00f85c 98px,#00fc4a 99px,#03ff3b 100px,#18ff36 101px,#2aff32 102px,#3cff2e 103px,#4cff2a 104px,#56ff28 105px,#57ff27 106px,#53ff28 107px,#4cff2a 108px,#3dff2e 109px,#24ff34 110px,#00fd45 111px,#00ef83 112px,#00d5f2 113px,#0058ff 114px,#4404ff 115px,#6c00f4 116px,#7c00e1 117px,#7c00c2 118px,#7b00ab 119px,#79009a 120px,#77008e 121px,#760088 122px,#750086 123px,#740084 124px,#730081 125px,#72007f 126px,#71007c 127px,#70007a 128px,#700079 129px,#6f0078 130px,#6f0078 131px,#6f0078 132px,#6f0078 133px,#6f0078 134px,#700078 135px,#700079 136px,#700079 137px,#700079 138px,#70007a 139px,#70007a 140px,#71007b 141px,#71007c 142px,#71007c 143px,#72007d 144px,#72007e 145px,#72007f 146px,#730080 147px,#730081 148px,#740082 149px,#740083 150px,#750084 151px,#750086 152px,#760087 153px,#760089 154px,#77008c 155px,#77008f 156px,#780094 157px,#79009c 158px,#7a00a8 159px,#7c00bc 160px,#7c00d8 161px,#7500f1 162px,#6300f8 163px,#5a00fb 164px,#5f00f9 165px,#6f00f3 166px,#7c00e1 167px,#7c00c3 168px,#7b00ad 169px,#79009f 170px,#780096 171px,#770091 172px,#77008d 173px,#76008a 174px,#760087 175px,#760086 176px,#750085 177px,#740083 178px,#740082 179px,#730081 180px,#730080 181px,#73007f 182px,#72007e 183px,#72007d 184px,#71007d 185px,#71007c 186px)"></div><div class="r" style="top:73.92px;height:6.73px;background:linear-gradient(90deg,#7c00da 0px,#7c00da 1px,#7c00db 2px,#7c00dc 3px,#7c00dd 4px,#7c00de 5px,#7c00df 6px,#7c00e0 7px,#7c00e1 8px,#7c00e2 9px,#7c00e4 10px,#7c00e5 11px,#7c00e6 12px,#7c00e8 13px,#7c00e9 14px,#7c00eb 15px,#7c00ed 16px,#7c00ee 17px,#7a00ef 18px,#7900ef 19px,#7800f0 20px,#7600f0 21px,#7500f1 22px,#7300f1 23px,#7200f2 24px,#7000f3 25px,#6e00f3 26px,#6d00f4 27px,#6b00f5 28px,#6900f5 29px,#6700f6 30px,#6600f7 31px,#6400f7 32px,#6200f8 33px,#6000f9 34px,#5e00fa 35px,#5c00fa 36px,#5a00fb 37px,#5800fc 38px,#5600fd 39px,#5400fd 40px,#5200fe 41px,#5100ff 42px,#4e01ff 43px,#4b02ff 44px,#4703ff 45px,#4405ff 46px,#4006ff 47px,#3d07ff 48px,#3a08ff 49px,#360aff 50px,#320bff 51px,#2f0cff 52px,#2b0eff 53px,#270fff 54px,#2411ff 55px,#2012ff 56px,#1c14ff 57px,#1815ff 58px,#1417ff 59px,#1018ff 60px,#0b1aff 61px,#061cff 62px,#011dff 63px,#0023ff 64px,#0029ff 65px,#002fff 66px,#0036ff 67px,#003cff 68px,#0043ff 69px,#004aff 70px,#0051ff 71px,#0059ff 72px,#0061ff 73px,#006aff 74px,#0073ff 75px,#007dff 76px,#0087ff 77px,#0091ff 78px,#009cff 79px,#00a8ff 80px,#00b4ff 81px,#00c0ff 82px,#00ccff 83px,#00d4f8 84px,#00d7eb 85px,#00dadd 86px,#00ddcf 87px,#00e1bf 88px,#00e6aa 89px,#00eb92 90px,#00f17a 91px,#00f565 92px,#00fa51 93px,#00ff3d 94px,#1bff36 95px,#3aff2e 96px,#5bff27 97px,#7cff1f 98px,#9aff18 99px,#b5ff11 100px,#ceff0b 101px,#e5ff06 102px,#fbff01 103px,#fff800 104px,#fff300 105px,#fff300 106px,#fff800 107px,#fffe00 108px,#e9ff05 109px,#c2ff0e 110px,#82ff1d 111px,#1bff36 112px,#00e7a6 113px,#0094ff 114px,#1616ff 115px,#5900fc 116px,#7700f0 117px,#7c00cf 118px,#7c00b3 119px,#7a00a2 120px,#780097 121px,#770091 122px,#77008d 123px,#760089 124px,#750085 125px,#740082 126px,#72007f 127px,#71007c 128px,#70007a 129px,#700078 130px,#6f0078 131px,#6f0078 132px,#6f0078 133px,#6f0078 134px,#6f0078 135px,#6f0078 136px,#6f0078 137px,#700079 138px,#700079 139px,#70007a 140px,#70007a 141px,#71007b 142px,#71007b 143px,#71007c 144px,#72007d 145px,#72007e 146px,#72007f 147px,#730080 148px,#730081 149px,#740083 150px,#750084 151px,#750086 152px,#760087 153px,#76008a 154px,#77008e 155px,#780093 156px,#780099 157px,#7a00a4 158px,#7c00b4 159px,#7c00d2 160px,#7400f1 161px,#5500fd 162px,#2c0dff 163px,#1815ff 164px,#2311ff 165px,#4a02ff 166px,#6b00f5 167px,#7c00dd 168px,#7c00bc 169px,#7a00a8 170px,#79009c 171px,#780094 172px,#77008f 173px,#77008b 174px,#760088 175px,#760086 176px,#750085 177px,#740083 178px,#740082 179px,#730080 180px,#73007f 181px,#72007e 182px,#72007d 183px,#71007c 184px,#71007c 185px,#71007b 186px)"></div><div class="r" style="top:79.45px;height:6.73px;background:linear-gradient(90deg,#7c00db 0px,#7c00dc 1px,#7c00dd 2px,#7c00df 3px,#7c00e0 4px,#7c00e1 5px,#7c00e3 6px,#7c00e4 7px,#7c00e6 8px,#7c00e8 9px,#7c00ea 10px,#7c00eb 11px,#7c00ed 12px,#7b00ee 13px,#7900ef 14px,#7800f0 15px,#7600f0 16px,#7400f1 17px,#7200f2 18px,#7000f3 19px,#6e00f3 20px,#6c00f4 21px,#6b00f5 22px,#6800f6 23px,#6600f6 24px,#6400f7 25px,#6200f8 26px,#6000f9 27px,#5e00fa 28px,#5c00fa 29px,#5900fb 30px,#5700fc 31px,#5500fd 32px,#5300fe 33px,#5000ff 34px,#4c01ff 35px,#4803ff 36px,#4305ff 37px,#3f06ff 38px,#3b08ff 39px,#360aff 40px,#320bff 41px,#2e0dff 42px,#2b0eff 43px,#270fff 44px,#2311ff 45px,#1f12ff 46px,#1b14ff 47px,#1715ff 48px,#1317ff 49px,#1018ff 50px,#0c1aff 51px,#081bff 52px,#041dff 53px,#001eff 54px,#0023ff 55px,#0028ff 56px,#002dff 57px,#0032ff 58px,#0037ff 59px,#003cff 60px,#0041ff 61px,#0047ff 62px,#004dff 63px,#0054ff 64px,#005cff 65px,#0063ff 66px,#006aff 67px,#0071ff 68px,#0079ff 69px,#0081ff 70px,#008aff 71px,#0093ff 72px,#009cff 73px,#00a7ff 74px,#00b1ff 75px,#00bdff 76px,#00c9ff 77px,#00d3fb 78px,#00d6ec 79px,#00dadd 80px,#00decd 81px,#00e1bd 82px,#00e5ad 83px,#00e99d 84px,#00ec8d 85px,#00f07d 86px,#00f46b 87px,#00f958 88px,#00ff3e 89px,#27ff33 90px,#4fff29 91px,#72ff21 92px,#94ff19 93px,#b6ff11 94px,#daff09 95px,#fffd00 96px,#ffea00 97px,#ffd700 98px,#ffc500 99px,#ffb600 100px,#ffa700 101px,#ff9b00 102px,#ff8e00 103px,#ff8100 104px,#ff7a00 105px,#ff7d00 106px,#ff8500 107px,#ff9100 108px,#ffa200 109px,#ffbc00 110px,#ffe200 111px,#baff10 112px,#00fe41 113px,#00d7eb 114px,#004aff 115px,#310cff 116px,#6400f7 117px,#7c00e1 118px,#7c00c1 119px,#7b00ad 120px,#7a00a3 121px,#79009d 122px,#780099 123px,#780094 124px,#77008d 125px,#760086 126px,#740082 127px,#72007e 128px,#70007b 129px,#700079 130px,#6f0078 131px,#6f0078 132px,#6f0077 133px,#6f0077 134px,#6f0077 135px,#6f0077 136px,#6f0078 137px,#6f0078 138px,#6f0078 139px,#6f0078 140px,#700079 141px,#700079 142px,#70007a 143px,#70007a 144px,#71007b 145px,#71007c 146px,#72007d 147px,#72007e 148px,#730080 149px,#730081 150px,#740083 151px,#750085 152px,#760087 153px,#77008b 154px,#770090 155px,#780096 156px,#79009f 157px,#7b00ad 158px,#7c00c7 159px,#7a00ef 160px,#5300fe 161px,#0b1aff 162px,#0055ff 163px,#0074ff 164px,#0062ff 165px,#0028ff 166px,#4006ff 167px,#7000f3 168px,#7c00d2 169px,#7c00b3 170px,#7a00a2 171px,#780098 172px,#770091 173px,#77008c 174px,#760088 175px,#750085 176px,#740083 177px,#740082 178px,#730080 179px,#72007f 180px,#72007e 181px,#71007c 182px,#71007c 183px,#71007b 184px,#70007a 185px,#700079 186px)"></div><div class="r" style="top:84.98px;height:6.73px;background:linear-gradient(90deg,#7c00dd 0px,#7c00df 1px,#7c00e1 2px,#7c00e2 3px,#7c00e4 4px,#7c00e6 5px,#7c00e8 6px,#7c00ea 7px,#7c00ed 8px,#7b00ee 9px,#7900ef 10px,#7700f0 11px,#7500f1 12px,#7300f1 13px,#7100f2 14px,#6e00f3 15px,#6c00f4 16px,#6a00f5 17px,#6700f6 18px,#6400f7 19px,#6200f8 20px,#5f00f9 21px,#5c00fa 22px,#5a00fb 23px,#5700fc 24px,#5400fd 25px,#5200fe 26px,#4e01ff 27px,#4903ff 28px,#4305ff 29px,#3e07ff 30px,#3909ff 31px,#330bff 32px,#2e0dff 33px,#290fff 34px,#2311ff 35px,#1e13ff 36px,#1815ff 37px,#1317ff 38px,#0e19ff 39px,#081bff 40px,#031dff 41px,#0020ff 42px,#0025ff 43px,#002aff 44px,#002fff 45px,#0034ff 46px,#0039ff 47px,#003eff 48px,#0043ff 49px,#0048ff 50px,#004eff 51px,#0053ff 52px,#0058ff 53px,#005dff 54px,#0062ff 55px,#0067ff 56px,#006cff 57px,#0072ff 58px,#0077ff 59px,#007dff 60px,#0083ff 61px,#0089ff 62px,#0091ff 63px,#0099ff 64px,#00a2ff 65px,#00aaff 66px,#00b3ff 67px,#00bbff 68px,#00c4ff 69px,#00cdff 70px,#00d3fa 71px,#00d6ee 72px,#00d9e3 73px,#00dbd6 74px,#00dfc9 75px,#00e2bb 76px,#00e5ac 77px,#00e99c 78px,#00ed8b 79px,#00f17a 80px,#00f568 81px,#00f956 82px,#00fd43 83px,#0eff39 84px,#25ff33 85px,#3dff2e 86px,#57ff27 87px,#76ff20 88px,#9fff17 89px,#d2ff0b 90px,#fffd00 91px,#ffe900 92px,#ffd700 93px,#ffc300 94px,#ffaf00 95px,#ff9800 96px,#ff7c00 97px,#ff5f00 98px,#ff4400 99px,#ff2d00 100px,#ff1700 101px,#ff0400 102px,#fa0000 103px,#f30000 104px,#f10000 105px,#f20000 106px,#f70000 107px,#fe0000 108px,#ff1900 109px,#ff4400 110px,#ff8100 111px,#ffcd00 112px,#8fff1a 113px,#00ed89 114px,#0097ff 115px,#0022ff 116px,#4d01ff 117px,#7700f0 118px,#7c00d1 119px,#7c00bb 120px,#7b00b0 121px,#7b00ab 122px,#7a00a6 123px,#7900a0 124px,#780097 125px,#77008d 126px,#750085 127px,#730080 128px,#71007c 129px,#700079 130px,#700078 131px,#6f0078 132px,#6f0077 133px,#6f0077 134px,#6f0077 135px,#6f0077 136px,#6f0077 137px,#6f0077 138px,#6f0077 139px,#6f0077 140px,#6f0077 141px,#6f0078 142px,#6f0078 143px,#700078 144px,#700079 145px,#70007a 146px,#70007b 147px,#71007c 148px,#72007d 149px,#72007e 150px,#730080 151px,#740082 152px,#750085 153px,#760089 154px,#77008f 155px,#780098 156px,#7a00a4 157px,#7c00b7 158px,#7c00dc 159px,#6200f8 160px,#1416ff 161px,#0073ff 162px,#00cbff 163px,#00dadd 164px,#00d4f4 165px,#0090ff 166px,#0027ff 167px,#5400fe 168px,#7c00ea 169px,#7c00c0 170px,#7a00a8 171px,#79009b 172px,#770091 173px,#76008b 174px,#760086 175px,#740083 176px,#730081 177px,#72007f 178px,#72007d 179px,#71007c 180px,#71007b 181px,#70007a 182px,#700079 183px,#700079 184px,#6f0078 185px,#6f0078 186px)"></div><div class="r" style="top:90.51px;height:6.73px;background:linear-gradient(90deg,#7c00df 0px,#7c00e1 1px,#7c00e3 2px,#7c00e6 3px,#7c00e8 4px,#7c00eb 5px,#7c00ed 6px,#7a00ef 7px,#7800ef 8px,#7600f0 9px,#7400f1 10px,#7100f2 11px,#6e00f3 12px,#6c00f4 13px,#6900f5 14px,#6600f7 15px,#6300f8 16px,#6000f9 17px,#5c00fa 18px,#5900fc 19px,#5600fd 20px,#5200fe 21px,#4e01ff 22px,#4803ff 23px,#4205ff 24px,#3c07ff 25px,#360aff 26px,#300cff 27px,#2a0eff 28px,#2311ff 29px,#1d13ff 30px,#1716ff 31px,#1018ff 32px,#0a1aff 33px,#031dff 34px,#0021ff 35px,#0029ff 36px,#0030ff 37px,#0037ff 38px,#003fff 39px,#0046ff 40px,#004cff 41px,#0053ff 42px,#0059ff 43px,#005fff 44px,#0065ff 45px,#006aff 46px,#0070ff 47px,#0076ff 48px,#007bff 49px,#0081ff 50px,#0087ff 51px,#008cff 52px,#0092ff 53px,#0097ff 54px,#009dff 55px,#00a3ff 56px,#00a8ff 57px,#00aeff 58px,#00b4ff 59px,#00baff 60px,#00c1ff 61px,#00c8ff 62px,#00d1ff 63px,#00d4f6 64px,#00d7eb 65px,#00d9e1 66px,#00dbd7 67px,#00decc 68px,#00e0c2 69px,#00e3b7 70px,#00e5ac 71px,#00e8a0 72px,#00eb95 73px,#00ed88 74px,#00f07b 75px,#00f46e 76px,#00f75f 77px,#00fa50 78px,#00fe40 79px,#10ff38 80px,#27ff33 81px,#3dff2e 82px,#54ff28 83px,#6bff23 84px,#80ff1e 85px,#97ff18 86px,#b1ff12 87px,#cfff0b 88px,#fbff01 89px,#ffe800 90px,#ffd000 91px,#ffba00 92px,#ffa500 93px,#ff9000 94px,#ff7500 95px,#ff5600 96px,#ff3400 97px,#ff1300 98px,#fb0000 99px,#f10000 100px,#e90000 101px,#e10000 102px,#d90000 103px,#d30000 104px,#cf0000 105px,#d20000 106px,#d70000 107px,#df0000 108px,#eb0000 109px,#fd0000 110px,#ff4000 111px,#ffa100 112px,#e2ff07 113px,#00fa53 114px,#00c3ff 115px,#0043ff 116px,#3709ff 117px,#6f00f3 118px,#7c00da 119px,#7c00c3 120px,#7c00b8 121px,#7c00b3 122px,#7b00ae 123px,#7a00a6 124px,#79009d 125px,#770092 126px,#760087 127px,#730081 128px,#71007c 129px,#70007a 130px,#700079 131px,#6f0078 132px,#6f0077 133px,#6f0077 134px,#6f0077 135px,#6f0077 136px,#6f0077 137px,#6f0077 138px,#6f0077 139px,#6f0077 140px,#6f0077 141px,#6f0077 142px,#6f0077 143px,#6f0078 144px,#6f0078 145px,#700078 146px,#700079 147px,#70007a 148px,#71007b 149px,#71007d 150px,#72007e 151px,#730081 152px,#740083 153px,#760087 154px,#77008d 155px,#780097 156px,#7a00a5 157px,#7c00bc 158px,#7c00e6 159px,#5500fd 160px,#002fff 161px,#00aaff 162px,#00e0c0 163px,#00eb91 164px,#00e5ab 165px,#00caff 166px,#0053ff 167px,#3c08ff 168px,#7600f0 169px,#7c00c6 170px,#7b00aa 171px,#79009a 172px,#770090 173px,#760088 174px,#750084 175px,#730081 176px,#72007f 177px,#72007d 178px,#71007b 179px,#70007a 180px,#700079 181px,#700079 182px,#6f0078 183px,#6f0078 184px,#6f0077 185px,#6f0077 186px)"></div><div class="r" style="top:96.04px;height:6.73px;background:linear-gradient(90deg,#7c00e1 0px,#7c00e4 1px,#7c00e7 2px,#7c00ea 3px,#7c00ed 4px,#7b00ef 5px,#7800f0 6px,#7600f1 7px,#7300f2 8px,#7000f3 9px,#6d00f4 10px,#6a00f5 11px,#6700f6 12px,#6300f7 13px,#6000f9 14px,#5c00fa 15px,#5800fc 16px,#5400fd 17px,#5000ff 18px,#4a02ff 19px,#4205ff 20px,#3b08ff 21px,#330bff 22px,#2c0eff 23px,#2410ff 24px,#1d13ff 25px,#1616ff 26px,#0e19ff 27px,#071bff 28px,#001fff 29px,#0027ff 30px,#0030ff 31px,#0038ff 32px,#0041ff 33px,#0049ff 34px,#0052ff 35px,#005aff 36px,#0063ff 37px,#006cff 38px,#0074ff 39px,#007dff 40px,#0084ff 41px,#008cff 42px,#0093ff 43px,#009aff 44px,#00a0ff 45px,#00a7ff 46px,#00adff 47px,#00b4ff 48px,#00baff 49px,#00c0ff 50px,#00c7ff 51px,#00cdff 52px,#00d2fe 53px,#00d4f8 54px,#00d5f1 55px,#00d7ea 56px,#00d8e3 57px,#00dadc 58px,#00dcd5 59px,#00ddce 60px,#00dfc6 61px,#00e1be 62px,#00e3b3 63px,#00e6a8 64px,#00e99b 65px,#00ec8f 66px,#00ee84 67px,#00f178 68px,#00f46d 69px,#00f661 70px,#00f955 71px,#00fc4a 72px,#00fe3f 73px,#0cff39 74px,#1bff36 75px,#2cff32 76px,#3dff2e 77px,#4fff29 78px,#62ff25 79px,#75ff20 80px,#89ff1c 81px,#9dff17 82px,#b2ff12 83px,#c5ff0e 84px,#d8ff09 85px,#edff04 86px,#fffc00 87px,#ffef00 88px,#ffdb00 89px,#ffc100 90px,#ffa700 91px,#ff8f00 92px,#ff7400 93px,#ff5800 94px,#ff3a00 95px,#ff1800 96px,#fa0000 97px,#ed0000 98px,#e10000 99px,#d60000 100px,#cd0000 101px,#c50000 102px,#bc0000 103px,#b50000 104px,#b20000 105px,#b40000 106px,#bb0000 107px,#c40000 108px,#d10000 109px,#e50000 110px,#ff0500 111px,#ff7400 112px,#ffea00 113px,#22ff34 114px,#00d8e6 115px,#0061ff 116px,#2411ff 117px,#6800f6 118px,#7c00e2 119px,#7c00cb 120px,#7c00c1 121px,#7c00bb 122px,#7c00b5 123px,#7b00ac 124px,#7a00a2 125px,#780096 126px,#76008a 127px,#740082 128px,#72007d 129px,#70007a 130px,#700079 131px,#6f0078 132px,#6f0077 133px,#6f0077 134px,#6f0077 135px,#6f0077 136px,#6f0077 137px,#6f0077 138px,#6f0077 139px,#6f0077 140px,#6f0077 141px,#6f0077 142px,#6f0077 143px,#6f0077 144px,#6f0077 145px,#6f0078 146px,#6f0078 147px,#700079 148px,#70007a 149px,#71007b 150px,#71007c 151px,#72007e 152px,#730081 153px,#750085 154px,#76008b 155px,#780095 156px,#7a00a5 157px,#7c00bf 158px,#7c00ee 159px,#4404ff 160px,#0053ff 161px,#00d4f7 162px,#00ef81 163px,#00fb4c 164px,#00f46a 165px,#00ddd0 166px,#007bff 167px,#2510ff 168px,#6f00f3 169px,#7c00cb 170px,#7b00ab 171px,#780099 172px,#77008d 173px,#750086 174px,#740082 175px,#72007f 176px,#71007d 177px,#71007b 178px,#70007a 179px,#700079 180px,#6f0078 181px,#6f0078 182px,#6f0077 183px,#6f0077 184px,#6f0077 185px,#6f0077 186px)"></div><div class="r" style="top:101.56px;height:6.73px;background:linear-gradient(90deg,#7c00e2 0px,#7c00e5 1px,#7c00e8 2px,#7c00eb 3px,#7c00ee 4px,#7900ef 5px,#7600f0 6px,#7300f1 7px,#7100f2 8px,#6e00f4 9px,#6a00f5 10px,#6700f6 11px,#6400f7 12px,#6000f9 13px,#5c00fa 14px,#5800fc 15px,#5400fd 16px,#5000ff 17px,#4803ff 18px,#4006ff 19px,#3809ff 20px,#300cff 21px,#280fff 22px,#2012ff 23px,#1815ff 24px,#1018ff 25px,#081bff 26px,#001eff 27px,#0027ff 28px,#0030ff 29px,#0039ff 30px,#0042ff 31px,#004bff 32px,#0054ff 33px,#005dff 34px,#0066ff 35px,#006fff 36px,#0078ff 37px,#0082ff 38px,#008bff 39px,#0094ff 40px,#009cff 41px,#00a4ff 42px,#00abff 43px,#00b2ff 44px,#00b9ff 45px,#00c0ff 46px,#00c7ff 47px,#00ceff 48px,#00d3fc 49px,#00d4f5 50px,#00d6ee 51px,#00d7e7 52px,#00d9e0 53px,#00dbda 54px,#00dcd3 55px,#00decc 56px,#00e0c4 57px,#00e1bd 58px,#00e3b6 59px,#00e5af 60px,#00e6a7 61px,#00e89e 62px,#00eb93 63px,#00ee86 64px,#00f179 65px,#00f46d 66px,#00f761 67px,#00f955 68px,#00fc48 69px,#00ff3c 70px,#0fff38 71px,#1fff35 72px,#2eff31 73px,#3eff2d 74px,#4eff2a 75px,#5fff26 76px,#71ff21 77px,#84ff1d 78px,#97ff18 79px,#abff14 80px,#c0ff0f 81px,#d5ff0a 82px,#eaff05 83px,#feff00 84px,#fff600 85px,#ffed00 86px,#ffe200 87px,#ffd400 88px,#ffbf00 89px,#ffa300 90px,#ff8600 91px,#ff6800 92px,#ff4a00 93px,#ff2c00 94px,#ff0c00 95px,#f60000 96px,#e80000 97px,#d90000 98px,#cd0000 99px,#c20000 100px,#b70000 101px,#af0000 102px,#a60000 103px,#9e0000 104px,#9b0000 105px,#9d0000 106px,#a50000 107px,#ae0000 108px,#bd0000 109px,#d30000 110px,#f00000 111px,#ff4e00 112px,#ffd000 113px,#54ff28 114px,#00dfc5 115px,#0078ff 116px,#1416ff 117px,#6200f8 118px,#7c00e8 119px,#7c00d1 120px,#7c00c8 121px,#7c00c2 122px,#7c00bb 123px,#7c00b1 124px,#7a00a6 125px,#780099 126px,#77008c 127px,#740083 128px,#72007e 129px,#70007a 130px,#700079 131px,#6f0078 132px,#6f0077 133px,#6f0077 134px,#6f0077 135px,#6f0077 136px,#6f0077 137px,#6f0077 138px,#6f0077 139px,#6f0077 140px,#6f0077 141px,#6f0077 142px,#6f0077 143px,#6f0077 144px,#6f0077 145px,#6f0077 146px,#6f0077 147px,#6f0078 148px,#700078 149px,#700079 150px,#71007b 151px,#71007d 152px,#73007f 153px,#740083 154px,#760088 155px,#780093 156px,#7a00a4 157px,#7c00c0 158px,#7800f0 159px,#350aff 160px,#006dff 161px,#00ddce 162px,#00fa50 163px,#30ff31 164px,#07ff3a 165px,#00e7a5 166px,#0098ff 167px,#1317ff 168px,#6a00f5 169px,#7c00cd 170px,#7b00aa 171px,#780097 172px,#76008b 173px,#750084 174px,#730080 175px,#72007d 176px,#71007b 177px,#70007a 178px,#700079 179px,#6f0078 180px,#6f0078 181px,#6f0077 182px,#6f0077 183px,#6f0077 184px,#6f0077 185px,#6f0077 186px)"></div><div class="r" style="top:107.09px;height:6.73px;background:linear-gradient(90deg,#7c00e2 0px,#7c00e5 1px,#7c00e8 2px,#7c00eb 3px,#7c00ee 4px,#7900ef 5px,#7600f0 6px,#7300f1 7px,#7100f2 8px,#6e00f4 9px,#6a00f5 10px,#6700f6 11px,#6400f7 12px,#6000f9 13px,#5c00fa 14px,#5800fc 15px,#5400fd 16px,#5000ff 17px,#4803ff 18px,#4006ff 19px,#3809ff 20px,#300cff 21px,#280fff 22px,#2012ff 23px,#1815ff 24px,#1018ff 25px,#081bff 26px,#001eff 27px,#0027ff 28px,#0030ff 29px,#0039ff 30px,#0042ff 31px,#004bff 32px,#0054ff 33px,#005dff 34px,#0066ff 35px,#006fff 36px,#0078ff 37px,#0082ff 38px,#008bff 39px,#0094ff 40px,#009cff 41px,#00a4ff 42px,#00abff 43px,#00b2ff 44px,#00b9ff 45px,#00c0ff 46px,#00c7ff 47px,#00ceff 48px,#00d3fc 49px,#00d4f5 50px,#00d6ee 51px,#00d7e7 52px,#00d9e0 53px,#00dbda 54px,#00dcd3 55px,#00decc 56px,#00e0c4 57px,#00e1bd 58px,#00e3b6 59px,#00e5af 60px,#00e6a7 61px,#00e89e 62px,#00eb93 63px,#00ee86 64px,#00f179 65px,#00f46d 66px,#00f761 67px,#00f955 68px,#00fc48 69px,#00ff3c 70px,#10ff38 71px,#21ff34 72px,#31ff30 73px,#42ff2c 74px,#53ff28 75px,#66ff24 76px,#7aff1f 77px,#8eff1b 78px,#a4ff16 79px,#baff10 80px,#d0ff0b 81px,#e7ff06 82px,#ffff00 83px,#fff500 84px,#ffeb00 85px,#ffe100 86px,#ffd400 87px,#ffc500 88px,#ffaf00 89px,#ff9200 90px,#ff7000 91px,#ff5100 92px,#ff3200 93px,#ff1300 94px,#fa0000 95px,#ec0000 96px,#dd0000 97px,#ce0000 98px,#c10000 99px,#b60000 100px,#ab0000 101px,#a20000 102px,#990000 103px,#910000 104px,#8d0000 105px,#900000 106px,#980000 107px,#a20000 108px,#b10000 109px,#c80000 110px,#e70000 111px,#ff3800 112px,#ffc100 113px,#70ff22 114px,#00e4b2 115px,#0085ff 116px,#0c1aff 117px,#5f00f9 118px,#7c00ec 119px,#7c00d5 120px,#7c00cc 121px,#7c00c6 122px,#7c00bf 123px,#7c00b4 124px,#7a00a8 125px,#79009b 126px,#77008d 127px,#740083 128px,#72007e 129px,#71007b 130px,#700079 131px,#6f0078 132px,#6f0078 133px,#6f0077 134px,#6f0077 135px,#6f0077 136px,#6f0077 137px,#6f0077 138px,#6f0077 139px,#6f0077 140px,#6f0077 141px,#6f0077 142px,#6f0077 143px,#6f0077 144px,#6f0077 145px,#6f0077 146px,#6f0077 147px,#6f0078 148px,#6f0078 149px,#700079 150px,#70007a 151px,#71007c 152px,#72007e 153px,#740082 154px,#760086 155px,#770091 156px,#7a00a3 157px,#7c00c0 158px,#7600f0 159px,#2e0dff 160px,#007cff 161px,#00e2b8 162px,#0bff3a 163px,#58ff27 164px,#2dff32 165px,#00ed8c 166px,#00a9ff 167px,#0a1aff 168px,#6700f6 169px,#7c00ce 170px,#7b00a9 171px,#780096 172px,#760089 173px,#740083 174px,#72007f 175px,#71007c 176px,#70007a 177px,#700079 178px,#6f0078 179px,#6f0078 180px,#6f0077 181px,#6f0077 182px,#6f0077 183px,#6f0077 184px,#6f0077 185px,#6f0077 186px)"></div><div class="r" style="top:112.62px;height:6.73px;background:linear-gradient(90deg,#7c00e2 0px,#7c00e5 1px,#7c00e8 2px,#7c00eb 3px,#7c00ee 4px,#7900ef 5px,#7600f0 6px,#7300f1 7px,#7100f2 8px,#6e00f4 9px,#6a00f5 10px,#6700f6 11px,#6400f7 12px,#6000f9 13px,#5c00fa 14px,#5800fc 15px,#5400fd 16px,#5000ff 17px,#4803ff 18px,#4006ff 19px,#3809ff 20px,#300cff 21px,#280fff 22px,#2012ff 23px,#1815ff 24px,#1018ff 25px,#081bff 26px,#001eff 27px,#0027ff 28px,#0030ff 29px,#0039ff 30px,#0042ff 31px,#004bff 32px,#0054ff 33px,#005dff 34px,#0066ff 35px,#006fff 36px,#0078ff 37px,#0082ff 38px,#008bff 39px,#0094ff 40px,#009cff 41px,#00a4ff 42px,#00abff 43px,#00b2ff 44px,#00b9ff 45px,#00c0ff 46px,#00c7ff 47px,#00ceff 48px,#00d3fc 49px,#00d4f5 50px,#00d6ee 51px,#00d7e7 52px,#00d9e0 53px,#00dbda 54px,#00dcd3 55px,#00decc 56px,#00e0c4 57px,#00e1bd 58px,#00e3b6 59px,#00e5af 60px,#00e6a7 61px,#00e89e 62px,#00eb93 63px,#00ee86 64px,#00f179 65px,#00f46d 66px,#00f761 67px,#00f955 68px,#00fc49 69px,#00ff3d 70px,#0eff39 71px,#1dff35 72px,#2bff32 73px,#3aff2e 74px,#49ff2b 75px,#58ff27 76px,#68ff23 77px,#79ff1f 78px,#8bff1b 79px,#9dff17 80px,#afff13 81px,#c2ff0e 82px,#d5ff0a 83px,#e7ff06 84px,#f9ff02 85px,#fff900 86px,#ffef00 87px,#ffe200 88px,#ffce00 89px,#ffb300 90px,#ff9900 91px,#ff7f00 92px,#ff6200 93px,#ff4500 94px,#ff2600 95px,#ff0300 96px,#f20000 97px,#e50000 98px,#d80000 99px,#ce0000 100px,#c40000 101px,#bb0000 102px,#b30000 103px,#ab0000 104px,#a80000 105px,#aa0000 106px,#b10000 107px,#ba0000 108px,#c80000 109px,#dd0000 110px,#fa0000 111px,#ff6300 112px,#ffdf00 113px,#37ff2f 114px,#00dbd8 115px,#006bff 116px,#1d13ff 117px,#6500f7 118px,#7c00e5 119px,#7c00ce 120px,#7c00c4 121px,#7c00be 122px,#7c00b7 123px,#7b00ae 124px,#7a00a4 125px,#780097 126px,#76008b 127px,#740082 128px,#72007d 129px,#70007a 130px,#700079 131px,#6f0078 132px,#6f0077 133px,#6f0077 134px,#6f0077 135px,#6f0077 136px,#6f0077 137px,#6f0077 138px,#6f0077 139px,#6f0077 140px,#6f0077 141px,#6f0077 142px,#6f0077 143px,#6f0077 144px,#6f0077 145px,#6f0077 146px,#6f0078 147px,#6f0078 148px,#700079 149px,#70007a 150px,#71007c 151px,#72007e 152px,#730080 153px,#750084 154px,#76008a 155px,#780094 156px,#7a00a4 157px,#7c00c0 158px,#7a00ef 159px,#3e07ff 160px,#005eff 161px,#00d8e5 162px,#00f46c 163px,#08ff3a 164px,#00f954 165px,#00e1bd 166px,#0087ff 167px,#1d13ff 168px,#6d00f4 169px,#7c00cc 170px,#7b00aa 171px,#780098 172px,#77008c 173px,#750085 174px,#730081 175px,#72007e 176px,#71007c 177px,#70007b 178px,#700079 179px,#700078 180px,#6f0078 181px,#6f0077 182px,#6f0077 183px,#6f0077 184px,#6f0077 185px,#6f0077 186px)"></div><div class="r" style="top:118.15px;height:6.73px;background:linear-gradient(90deg,#7c00e2 0px,#7c00e4 1px,#7c00e7 2px,#7c00ea 3px,#7c00ed 4px,#7a00ef 5px,#7700f0 6px,#7500f1 7px,#7200f2 8px,#6f00f3 9px,#6c00f4 10px,#6900f5 11px,#6600f7 12px,#6200f8 13px,#5e00f9 14px,#5b00fb 15px,#5700fc 16px,#5300fe 17px,#4d01ff 18px,#4604ff 19px,#3e07ff 20px,#370aff 21px,#2f0cff 22px,#270fff 23px,#2012ff 24px,#1815ff 25px,#1118ff 26px,#091bff 27px,#011dff 28px,#0025ff 29px,#002eff 30px,#0036ff 31px,#003fff 32px,#0048ff 33px,#0051ff 34px,#0059ff 35px,#0062ff 36px,#006bff 37px,#0074ff 38px,#007dff 39px,#0085ff 40px,#008dff 41px,#0095ff 42px,#009cff 43px,#00a3ff 44px,#00aaff 45px,#00b0ff 46px,#00b7ff 47px,#00bdff 48px,#00c4ff 49px,#00caff 50px,#00d1ff 51px,#00d3fa 52px,#00d5f3 53px,#00d6ec 54px,#00d8e6 55px,#00d9df 56px,#00dbd8 57px,#00ddd1 58px,#00deca 59px,#00e0c2 60px,#00e2ba 61px,#00e4b2 62px,#00e6a7 63px,#00e99b 64px,#00ec8f 65px,#00ef82 66px,#00f276 67px,#00f46b 68px,#00f75f 69px,#00f954 70px,#00fc4a 71px,#00fe40 72px,#08ff3a 73px,#14ff37 74px,#20ff34 75px,#2dff31 76px,#3aff2e 77px,#47ff2b 78px,#55ff28 79px,#63ff25 80px,#72ff21 81px,#80ff1e 82px,#8fff1a 83px,#9dff17 84px,#abff14 85px,#baff10 86px,#cdff0c 87px,#e5ff06 88px,#fff900 89px,#ffe200 90px,#ffcb00 91px,#ffb500 92px,#ffa000 93px,#ff8a00 94px,#ff6e00 95px,#ff4f00 96px,#ff2d00 97px,#ff0b00 98px,#f80000 99px,#ee0000 100px,#e60000 101px,#de0000 102px,#d60000 103px,#cf0000 104px,#cc0000 105px,#ce0000 106px,#d40000 107px,#dc0000 108px,#e80000 109px,#fb0000 110px,#ff3900 111px,#ff9c00 112px,#eaff05 113px,#00fb4d 114px,#00c7ff 115px,#0046ff 116px,#350aff 117px,#6e00f3 118px,#7c00db 119px,#7c00c4 120px,#7c00b9 121px,#7c00b3 122px,#7b00af 123px,#7a00a7 124px,#79009d 125px,#780092 126px,#760087 127px,#730081 128px,#71007d 129px,#70007a 130px,#700079 131px,#6f0078 132px,#6f0077 133px,#6f0077 134px,#6f0077 135px,#6f0077 136px,#6f0077 137px,#6f0077 138px,#6f0077 139px,#6f0077 140px,#6f0077 141px,#6f0077 142px,#6f0077 143px,#6f0078 144px,#6f0078 145px,#6f0078 146px,#700079 147px,#70007a 148px,#71007b 149px,#71007c 150px,#72007e 151px,#730080 152px,#740083 153px,#760086 154px,#77008d 155px,#780097 156px,#7a00a5 157px,#7c00bc 158px,#7c00e7 159px,#5300fe 160px,#0033ff 161px,#00afff 162px,#00e2b9 163px,#00ed89 164px,#00e7a4 165px,#00d0ff 166px,#0058ff 167px,#3909ff 168px,#7500f1 169px,#7c00c7 170px,#7b00aa 171px,#79009a 172px,#770090 173px,#760088 174px,#750084 175px,#730081 176px,#72007f 177px,#71007d 178px,#71007b 179px,#70007a 180px,#700079 181px,#700079 182px,#6f0078 183px,#6f0078 184px,#6f0077 185px,#6f0077 186px)"></div><div class="r" style="top:123.67px;height:6.73px;background:linear-gradient(90deg,#7c00e1 0px,#7c00e4 1px,#7c00e6 2px,#7c00e9 3px,#7c00ec 4px,#7b00ee 5px,#7900ef 6px,#7600f0 7px,#7300f1 8px,#7100f2 9px,#6e00f3 10px,#6b00f5 11px,#6800f6 12px,#6400f7 13px,#6100f9 14px,#5d00fa 15px,#5900fb 16px,#5600fd 17px,#5200fe 18px,#4c02ff 19px,#4504ff 20px,#3d07ff 21px,#360aff 22px,#2f0cff 23px,#270fff 24px,#2012ff 25px,#1915ff 26px,#1217ff 27px,#0b1aff 28px,#031dff 29px,#0023ff 30px,#002bff 31px,#0033ff 32px,#003cff 33px,#0044ff 34px,#004dff 35px,#0055ff 36px,#005eff 37px,#0066ff 38px,#006fff 39px,#0077ff 40px,#007fff 41px,#0086ff 42px,#008dff 43px,#0093ff 44px,#009aff 45px,#00a0ff 46px,#00a7ff 47px,#00adff 48px,#00b3ff 49px,#00baff 50px,#00c0ff 51px,#00c6ff 52px,#00ccff 53px,#00d2ff 54px,#00d4f8 55px,#00d5f2 56px,#00d7eb 57px,#00d8e4 58px,#00dadd 59px,#00dcd6 60px,#00ddce 61px,#00dfc6 62px,#00e2bb 63px,#00e4b0 64px,#00e7a4 65px,#00ea98 66px,#00ec8c 67px,#00ef81 68px,#00f276 69px,#00f46b 70px,#00f662 71px,#00f859 72px,#00fa50 73px,#00fc48 74px,#00fe40 75px,#05ff3b 76px,#10ff38 77px,#1aff36 78px,#26ff33 79px,#31ff31 80px,#3cff2e 81px,#48ff2b 82px,#54ff28 83px,#5fff26 84px,#6aff23 85px,#76ff20 86px,#86ff1d 87px,#9bff18 88px,#bdff10 89px,#ebff05 90px,#fff300 91px,#ffe000 92px,#ffcd00 93px,#ffb900 94px,#ffa400 95px,#ff8d00 96px,#ff6e00 97px,#ff5000 98px,#ff3400 99px,#ff1c00 100px,#ff0600 101px,#fa0000 102px,#f30000 103px,#ed0000 104px,#ea0000 105px,#ec0000 106px,#f10000 107px,#f80000 108px,#ff0900 109px,#ff3600 110px,#ff7400 111px,#ffc400 112px,#a0ff16 113px,#00f07e 114px,#00a0ff 115px,#0029ff 116px,#4903ff 117px,#7600f0 118px,#7c00d3 119px,#7c00bc 120px,#7c00b2 121px,#7b00ac 122px,#7a00a8 123px,#7900a1 124px,#780098 125px,#77008e 126px,#750085 127px,#730080 128px,#71007c 129px,#70007a 130px,#700079 131px,#6f0078 132px,#6f0077 133px,#6f0077 134px,#6f0077 135px,#6f0077 136px,#6f0077 137px,#6f0077 138px,#6f0077 139px,#6f0077 140px,#6f0077 141px,#6f0078 142px,#6f0078 143px,#6f0078 144px,#700079 145px,#700079 146px,#70007a 147px,#71007b 148px,#71007d 149px,#72007e 150px,#730080 151px,#740082 152px,#750085 153px,#760088 154px,#77008f 155px,#780098 156px,#7a00a4 157px,#7c00b8 158px,#7c00de 159px,#5f00f9 160px,#0d19ff 161px,#007eff 162px,#00d3f9 163px,#00ddcd 164px,#00d8e6 165px,#009cff 166px,#0030ff 167px,#5100ff 168px,#7c00ec 169px,#7c00c1 170px,#7a00a9 171px,#79009b 172px,#770091 173px,#76008a 174px,#750086 175px,#740083 176px,#730081 177px,#72007f 178px,#72007d 179px,#71007c 180px,#70007b 181px,#70007a 182px,#700079 183px,#700078 184px,#6f0078 185px,#6f0078 186px)"></div><div class="r" style="top:129.20px;height:6.73px;background:linear-gradient(90deg,#7c00df 0px,#7c00e1 1px,#7c00e3 2px,#7c00e5 3px,#7c00e8 4px,#7c00ea 5px,#7c00ed 6px,#7b00ee 7px,#7900ef 8px,#7700f0 9px,#7500f1 10px,#7200f2 11px,#7000f3 12px,#6d00f4 13px,#6a00f5 14px,#6700f6 15px,#6400f7 16px,#6100f8 17px,#5e00fa 18px,#5b00fb 19px,#5800fc 20px,#5500fd 21px,#5100fe 22px,#4d01ff 23px,#4703ff 24px,#4106ff 25px,#3b08ff 26px,#350aff 27px,#2f0cff 28px,#290fff 29px,#2311ff 30px,#1d13ff 31px,#1616ff 32px,#1018ff 33px,#0a1aff 34px,#041dff 35px,#0021ff 36px,#0028ff 37px,#002fff 38px,#0036ff 39px,#003dff 40px,#0044ff 41px,#004aff 42px,#0050ff 43px,#0056ff 44px,#005bff 45px,#0061ff 46px,#0066ff 47px,#006cff 48px,#0072ff 49px,#0077ff 50px,#007dff 51px,#0082ff 52px,#0088ff 53px,#008dff 54px,#0092ff 55px,#0098ff 56px,#009eff 57px,#00a4ff 58px,#00aaff 59px,#00b0ff 60px,#00b6ff 61px,#00bdff 62px,#00c5ff 63px,#00cfff 64px,#00d4f8 65px,#00d6ee 66px,#00d8e4 67px,#00dbda 68px,#00ddd0 69px,#00dfc6 70px,#00e1bd 71px,#00e3b5 72px,#00e5ad 73px,#00e7a5 74px,#00e99d 75px,#00eb94 76px,#00ed8c 77px,#00ef83 78px,#00f17b 79px,#00f371 80px,#00f568 81px,#00f75f 82px,#00f955 83px,#00fb4c 84px,#00fd43 85px,#04ff3b 86px,#13ff37 87px,#27ff33 88px,#46ff2c 89px,#6eff22 90px,#96ff19 91px,#bbff10 92px,#e0ff07 93px,#fffc00 94px,#ffea00 95px,#ffd600 96px,#ffc000 97px,#ffab00 98px,#ff9800 99px,#ff8600 100px,#ff7300 101px,#ff6200 102px,#ff5100 103px,#ff4300 104px,#ff3b00 105px,#ff3f00 106px,#ff4900 107px,#ff5800 108px,#ff6f00 109px,#ff9200 110px,#ffbd00 111px,#ffff00 112px,#34ff30 113px,#00dfc5 114px,#0068ff 115px,#1d13ff 116px,#5c00fa 117px,#7c00e8 118px,#7c00c7 119px,#7c00b2 120px,#7a00a8 121px,#7a00a2 122px,#79009e 123px,#780098 124px,#770091 125px,#760089 126px,#740083 127px,#72007e 128px,#71007b 129px,#700079 130px,#6f0078 131px,#6f0078 132px,#6f0077 133px,#6f0077 134px,#6f0077 135px,#6f0077 136px,#6f0077 137px,#6f0077 138px,#6f0078 139px,#6f0078 140px,#6f0078 141px,#700079 142px,#700079 143px,#70007a 144px,#70007a 145px,#71007b 146px,#71007c 147px,#72007d 148px,#72007f 149px,#730080 150px,#740082 151px,#750084 152px,#760086 153px,#76008a 154px,#770090 155px,#780097 156px,#7900a1 157px,#7c00b1 158px,#7c00d0 159px,#7100f2 160px,#3c07ff 161px,#0038ff 162px,#0083ff 163px,#00a5ff 164px,#0092ff 165px,#0050ff 166px,#2411ff 167px,#6500f7 168px,#7c00db 169px,#7c00b8 170px,#7a00a5 171px,#780099 172px,#770092 173px,#77008c 174px,#760087 175px,#750085 176px,#740083 177px,#730081 178px,#73007f 179px,#72007e 180px,#71007d 181px,#71007c 182px,#70007b 183px,#70007a 184px,#700079 185px,#700079 186px)"></div><div class="r" style="top:134.73px;height:6.73px;background:linear-gradient(90deg,#7c00dd 0px,#7c00de 1px,#7c00e0 2px,#7c00e2 3px,#7c00e3 4px,#7c00e5 5px,#7c00e7 6px,#7c00e9 7px,#7c00eb 8px,#7c00ed 9px,#7b00ef 10px,#7900ef 11px,#7700f0 12px,#7500f1 13px,#7300f2 14px,#7000f2 15px,#6e00f3 16px,#6c00f4 17px,#6900f5 18px,#6700f6 19px,#6500f7 20px,#6200f8 21px,#6000f9 22px,#5d00fa 23px,#5a00fb 24px,#5800fc 25px,#5500fd 26px,#5300fe 27px,#5000ff 28px,#4b02ff 29px,#4604ff 30px,#4106ff 31px,#3c08ff 32px,#3709ff 33px,#320bff 34px,#2c0dff 35px,#270fff 36px,#2211ff 37px,#1d13ff 38px,#1815ff 39px,#1317ff 40px,#0e19ff 41px,#091bff 42px,#051cff 43px,#001eff 44px,#0023ff 45px,#0028ff 46px,#002cff 47px,#0031ff 48px,#0036ff 49px,#003bff 50px,#0040ff 51px,#0045ff 52px,#004aff 53px,#004fff 54px,#0054ff 55px,#0059ff 56px,#005eff 57px,#0064ff 58px,#0069ff 59px,#006eff 60px,#0074ff 61px,#007bff 62px,#0082ff 63px,#008aff 64px,#0092ff 65px,#009bff 66px,#00a3ff 67px,#00abff 68px,#00b3ff 69px,#00baff 70px,#00c1ff 71px,#00c7ff 72px,#00ceff 73px,#00d2fd 74px,#00d4f7 75px,#00d5f1 76px,#00d7eb 77px,#00d8e4 78px,#00dade 79px,#00dbd7 80px,#00ddd1 81px,#00deca 82px,#00e0c3 83px,#00e1bc 84px,#00e3b6 85px,#00e5ae 86px,#00e7a5 87px,#00e999 88px,#00ed88 89px,#00f372 90px,#00f85b 91px,#00fd45 92px,#10ff38 93px,#2dff31 94px,#4bff2a 95px,#6cff23 96px,#90ff1a 97px,#b3ff12 98px,#d3ff0a 99px,#f0ff04 100px,#fffa00 101px,#ffef00 102px,#ffe400 103px,#ffdb00 104px,#ffd600 105px,#ffd600 106px,#ffdb00 107px,#ffe300 108px,#ffef00 109px,#f6ff02 110px,#b1ff12 111px,#43ff2c 112px,#00ec8d 113px,#00a8ff 114px,#071bff 115px,#5200fe 116px,#7300f2 117px,#7c00d4 118px,#7c00b6 119px,#7a00a5 120px,#78009a 121px,#780094 122px,#770090 123px,#77008c 124px,#760087 125px,#740083 126px,#73007f 127px,#71007c 128px,#70007a 129px,#700079 130px,#6f0078 131px,#6f0078 132px,#6f0078 133px,#6f0078 134px,#6f0078 135px,#6f0078 136px,#6f0078 137px,#700078 138px,#700079 139px,#700079 140px,#70007a 141px,#70007a 142px,#71007b 143px,#71007c 144px,#71007d 145px,#72007e 146px,#72007f 147px,#730080 148px,#730081 149px,#740082 150px,#750084 151px,#750085 152px,#760087 153px,#76008b 154px,#77008f 155px,#780094 156px,#79009b 157px,#7a00a6 158px,#7c00b9 159px,#7c00da 160px,#6c00f4 161px,#4604ff 162px,#1516ff 163px,#001fff 164px,#0b1aff 165px,#360aff 166px,#6200f8 167px,#7c00e5 168px,#7c00c1 169px,#7b00ab 170px,#79009e 171px,#780095 172px,#770090 173px,#77008c 174px,#760088 175px,#760086 176px,#750084 177px,#740083 178px,#740081 179px,#730080 180px,#72007f 181px,#72007e 182px,#72007d 183px,#71007c 184px,#71007b 185px,#70007b 186px)"></div><div class="r" style="top:140.26px;height:6.73px;background:linear-gradient(90deg,#7c00db 0px,#7c00dc 1px,#7c00dd 2px,#7c00de 3px,#7c00df 4px,#7c00e1 5px,#7c00e2 6px,#7c00e3 7px,#7c00e5 8px,#7c00e7 9px,#7c00e8 10px,#7c00ea 11px,#7c00ec 12px,#7c00ee 13px,#7b00ee 14px,#7900ef 15px,#7700f0 16px,#7600f0 17px,#7400f1 18px,#7200f2 19px,#7100f2 20px,#6f00f3 21px,#6d00f4 22px,#6b00f5 23px,#6900f5 24px,#6700f6 25px,#6500f7 26px,#6300f8 27px,#6100f8 28px,#5f00f9 29px,#5d00fa 30px,#5a00fb 31px,#5800fc 32px,#5600fd 33px,#5400fe 34px,#5200fe 35px,#4f00ff 36px,#4b02ff 37px,#4604ff 38px,#4205ff 39px,#3e07ff 40px,#3a08ff 41px,#360aff 42px,#330bff 43px,#2f0cff 44px,#2b0eff 45px,#280fff 46px,#2411ff 47px,#2012ff 48px,#1c13ff 49px,#1815ff 50px,#1516ff 51px,#1118ff 52px,#0d19ff 53px,#091bff 54px,#051cff 55px,#011eff 56px,#0022ff 57px,#0027ff 58px,#002cff 59px,#0031ff 60px,#0036ff 61px,#003cff 62px,#0042ff 63px,#0049ff 64px,#0050ff 65px,#0057ff 66px,#005eff 67px,#0065ff 68px,#006cff 69px,#0072ff 70px,#0079ff 71px,#007eff 72px,#0084ff 73px,#008aff 74px,#008fff 75px,#0094ff 76px,#009aff 77px,#009fff 78px,#00a5ff 79px,#00aaff 80px,#00b0ff 81px,#00b6ff 82px,#00bcff 83px,#00c2ff 84px,#00c8ff 85px,#00cfff 86px,#00d3fa 87px,#00d5f0 88px,#00d9e2 89px,#00ddd1 90px,#00e1bf 91px,#00e5ae 92px,#00e99d 93px,#00ed8b 94px,#00f179 95px,#00f566 96px,#00fa51 97px,#00ff3c 98px,#19ff36 99px,#30ff31 100px,#45ff2c 101px,#59ff27 102px,#6cff23 103px,#7dff1f 104px,#87ff1c 105px,#88ff1c 106px,#82ff1d 107px,#79ff1f 108px,#68ff23 109px,#4bff2a 110px,#17ff36 111px,#00f46c 112px,#00d9df 113px,#0067ff 114px,#3909ff 115px,#6700f6 116px,#7c00e6 117px,#7c00c6 118px,#7b00ad 119px,#79009c 120px,#770090 121px,#76008a 122px,#760087 123px,#750085 124px,#740082 125px,#730080 126px,#72007d 127px,#71007b 128px,#700079 129px,#6f0078 130px,#6f0078 131px,#6f0078 132px,#6f0078 133px,#6f0078 134px,#6f0078 135px,#700079 136px,#700079 137px,#700079 138px,#70007a 139px,#70007a 140px,#71007b 141px,#71007b 142px,#71007c 143px,#72007d 144px,#72007e 145px,#72007f 146px,#730080 147px,#730081 148px,#740082 149px,#740083 150px,#750084 151px,#750086 152px,#760087 153px,#76008a 154px,#77008c 155px,#770090 156px,#780096 157px,#79009e 158px,#7b00ab 159px,#7c00c1 160px,#7c00e1 161px,#6d00f4 162px,#5900fc 163px,#5000ff 164px,#5500fd 165px,#6700f6 166px,#7c00ea 167px,#7c00ca 168px,#7b00b0 169px,#7a00a1 170px,#780098 171px,#770092 172px,#77008d 173px,#76008a 174px,#760088 175px,#760086 176px,#750085 177px,#740083 178px,#740082 179px,#730081 180px,#730080 181px,#72007f 182px,#72007e 183px,#72007d 184px,#71007c 185px,#71007c 186px)"></div><div class="r" style="top:145.79px;height:6.73px;background:linear-gradient(90deg,#7c00d9 0px,#7c00d9 1px,#7c00d9 2px,#7c00da 3px,#7c00db 4px,#7c00db 5px,#7c00dc 6px,#7c00dd 7px,#7c00de 8px,#7c00de 9px,#7c00df 10px,#7c00e0 11px,#7c00e1 12px,#7c00e2 13px,#7c00e3 14px,#7c00e4 15px,#7c00e6 16px,#7c00e7 17px,#7c00e8 18px,#7c00e9 19px,#7c00eb 20px,#7c00ec 21px,#7c00ed 22px,#7b00ee 23px,#7a00ef 24px,#7900ef 25px,#7800f0 26px,#7600f0 27px,#7500f1 28px,#7400f1 29px,#7200f2 30px,#7100f2 31px,#6f00f3 32px,#6e00f4 33px,#6c00f4 34px,#6a00f5 35px,#6900f5 36px,#6700f6 37px,#6600f7 38px,#6400f7 39px,#6200f8 40px,#6100f8 41px,#5f00f9 42px,#5e00fa 43px,#5c00fa 44px,#5b00fb 45px,#5900fc 46px,#5700fc 47px,#5500fd 48px,#5400fe 49px,#5200fe 50px,#5000ff 51px,#4d01ff 52px,#4a02ff 53px,#4604ff 54px,#4305ff 55px,#3f06ff 56px,#3b08ff 57px,#3709ff 58px,#340bff 59px,#300cff 60px,#2c0eff 61px,#270fff 62px,#2311ff 63px,#1e13ff 64px,#1915ff 65px,#1417ff 66px,#0f18ff 67px,#0a1aff 68px,#051cff 69px,#001eff 70px,#0023ff 71px,#0027ff 72px,#002bff 73px,#002fff 74px,#0033ff 75px,#0037ff 76px,#003aff 77px,#003eff 78px,#0041ff 79px,#0045ff 80px,#0048ff 81px,#004cff 82px,#0050ff 83px,#0054ff 84px,#0058ff 85px,#005cff 86px,#0061ff 87px,#0067ff 88px,#006eff 89px,#0077ff 90px,#0080ff 91px,#0089ff 92px,#0092ff 93px,#009cff 94px,#00a5ff 95px,#00afff 96px,#00b9ff 97px,#00c3ff 98px,#00cdff 99px,#00d3fa 100px,#00d6f0 101px,#00d8e6 102px,#00dadd 103px,#00dcd5 104px,#00ddcf 105px,#00decb 106px,#00dfc8 107px,#00dfc6 108px,#00dfc7 109px,#00decc 110px,#00dade 111px,#00cdff 112px,#007aff 113px,#1815ff 114px,#6d00f4 115px,#7c00df 116px,#7c00c6 117px,#7c00b1 118px,#79009f 119px,#77008e 120px,#740084 121px,#730080 122px,#72007e 123px,#72007d 124px,#71007c 125px,#70007b 126px,#70007a 127px,#700079 128px,#6f0078 129px,#6f0078 130px,#6f0078 131px,#700078 132px,#700079 133px,#700079 134px,#700079 135px,#70007a 136px,#70007a 137px,#70007b 138px,#71007b 139px,#71007c 140px,#71007c 141px,#71007d 142px,#72007d 143px,#72007e 144px,#72007f 145px,#730080 146px,#730081 147px,#730081 148px,#740082 149px,#740083 150px,#750084 151px,#750085 152px,#750086 153px,#760087 154px,#760088 155px,#76008a 156px,#77008d 157px,#770091 158px,#780097 159px,#7900a1 160px,#7b00ad 161px,#7c00bb 162px,#7c00c8 163px,#7c00ce 164px,#7c00ca 165px,#7c00bf 166px,#7c00b0 167px,#7a00a4 168px,#78009a 169px,#780092 170px,#77008e 171px,#76008b 172px,#760089 173px,#760087 174px,#760086 175px,#750085 176px,#750084 177px,#740083 178px,#740082 179px,#740082 180px,#730081 181px,#730080 182px,#73007f 183px,#72007e 184px,#72007e 185px,#72007d 186px)"></div><div class="r" style="top:151.31px;height:6.73px;background:linear-gradient(90deg,#7c00d7 0px,#7c00d7 1px,#7c00d7 2px,#7c00d7 3px,#7c00d8 4px,#7c00d8 5px,#7c00d8 6px,#7c00d8 7px,#7c00d9 8px,#7c00d9 9px,#7c00d9 10px,#7c00da 11px,#7c00da 12px,#7c00db 13px,#7c00db 14px,#7c00dc 15px,#7c00dc 16px,#7c00dd 17px,#7c00dd 18px,#7c00de 19px,#7c00de 20px,#7c00df 21px,#7c00e0 22px,#7c00e1 23px,#7c00e2 24px,#7c00e3 25px,#7c00e4 26px,#7c00e5 27px,#7c00e6 28px,#7c00e7 29px,#7c00e9 30px,#7c00ea 31px,#7c00eb 32px,#7c00ed 33px,#7c00ee 34px,#7b00ef 35px,#7900ef 36px,#7800ef 37px,#7700f0 38px,#7600f0 39px,#7500f1 40px,#7400f1 41px,#7200f2 42px,#7100f2 43px,#7000f3 44px,#6e00f3 45px,#6d00f4 46px,#6c00f4 47px,#6a00f5 48px,#6900f5 49px,#6700f6 50px,#6600f7 51px,#6400f7 52px,#6200f8 53px,#6100f9 54px,#5f00f9 55px,#5d00fa 56px,#5b00fb 57px,#5900fb 58px,#5700fc 59px,#5500fd 60px,#5300fe 61px,#5100ff 62px,#4e01ff 63px,#4a02ff 64px,#4604ff 65px,#4205ff 66px,#3d07ff 67px,#3909ff 68px,#350aff 69px,#300cff 70px,#2c0dff 71px,#280fff 72px,#2411ff 73px,#2012ff 74px,#1c14ff 75px,#1715ff 76px,#1317ff 77px,#0f18ff 78px,#0b1aff 79px,#061cff 80px,#021dff 81px,#0022ff 82px,#0027ff 83px,#002dff 84px,#0032ff 85px,#0038ff 86px,#003fff 87px,#0045ff 88px,#004dff 89px,#0054ff 90px,#005cff 91px,#0064ff 92px,#006bff 93px,#0073ff 94px,#007bff 95px,#0083ff 96px,#008bff 97px,#0092ff 98px,#009bff 99px,#00a3ff 100px,#00abff 101px,#00b2ff 102px,#00b9ff 103px,#00c0ff 104px,#00c5ff 105px,#00caff 106px,#00ceff 107px,#00d1ff 108px,#00d2fe 109px,#00d2fe 110px,#00c6ff 111px,#00aaff 112px,#005dff 113px,#2e0dff 114px,#7800f0 115px,#7c00d4 116px,#7c00be 117px,#7b00ad 118px,#79009c 119px,#77008b 120px,#740081 121px,#72007d 122px,#71007c 123px,#71007b 124px,#70007a 125px,#700079 126px,#700079 127px,#6f0078 128px,#6f0078 129px,#6f0078 130px,#6f0078 131px,#700079 132px,#700079 133px,#700079 134px,#700079 135px,#70007a 136px,#70007a 137px,#71007b 138px,#71007b 139px,#71007c 140px,#71007c 141px,#72007d 142px,#72007e 143px,#72007e 144px,#72007f 145px,#730080 146px,#730081 147px,#730081 148px,#740082 149px,#740083 150px,#750084 151px,#750084 152px,#750085 153px,#760086 154px,#760087 155px,#760088 156px,#76008a 157px,#77008d 158px,#780092 159px,#780099 160px,#7a00a2 161px,#7b00ab 162px,#7c00b3 163px,#7c00b7 164px,#7c00b5 165px,#7b00ae 166px,#7a00a5 167px,#79009c 168px,#780094 169px,#77008f 170px,#77008b 171px,#760089 172px,#760087 173px,#760086 174px,#750086 175px,#750085 176px,#750084 177px,#740083 178px,#740082 179px,#740082 180px,#730081 181px,#730080 182px,#73007f 183px,#72007f 184px,#72007e 185px,#72007d 186px)"></div><div class="r" style="top:156.84px;height:6.73px;background:linear-gradient(90deg,#7c00d7 0px,#7c00d7 1px,#7c00d7 2px,#7c00d7 3px,#7c00d7 4px,#7c00d7 5px,#7c00d7 6px,#7c00d8 7px,#7c00d8 8px,#7c00d8 9px,#7c00d9 10px,#7c00d9 11px,#7c00d9 12px,#7c00da 13px,#7c00da 14px,#7c00da 15px,#7c00db 16px,#7c00db 17px,#7c00dc 18px,#7c00dc 19px,#7c00dd 20px,#7c00dd 21px,#7c00de 22px,#7c00de 23px,#7c00df 24px,#7c00e0 25px,#7c00e1 26px,#7c00e2 27px,#7c00e3 28px,#7c00e5 29px,#7c00e6 30px,#7c00e7 31px,#7c00e8 32px,#7c00ea 33px,#7c00eb 34px,#7c00ed 35px,#7c00ee 36px,#7b00ee 37px,#7a00ef 38px,#7900ef 39px,#7800f0 40px,#7600f0 41px,#7500f1 42px,#7400f1 43px,#7300f2 44px,#7200f2 45px,#7000f3 46px,#6f00f3 47px,#6d00f4 48px,#6c00f4 49px,#6a00f5 50px,#6900f5 51px,#6700f6 52px,#6600f7 53px,#6400f7 54px,#6200f8 55px,#6000f9 56px,#5f00f9 57px,#5d00fa 58px,#5b00fb 59px,#5900fc 60px,#5700fc 61px,#5500fd 62px,#5300fe 63px,#5000ff 64px,#4d01ff 65px,#4903ff 66px,#4404ff 67px,#4006ff 68px,#3c07ff 69px,#3809ff 70px,#340bff 71px,#300cff 72px,#2c0eff 73px,#280fff 74px,#2411ff 75px,#2012ff 76px,#1c14ff 77px,#1815ff 78px,#1317ff 79px,#0f18ff 80px,#0b1aff 81px,#061cff 82px,#021dff 83px,#0021ff 84px,#0027ff 85px,#002dff 86px,#0033ff 87px,#0039ff 88px,#0040ff 89px,#0047ff 90px,#004eff 91px,#0055ff 92px,#005cff 93px,#0063ff 94px,#006aff 95px,#0071ff 96px,#0078ff 97px,#007fff 98px,#0086ff 99px,#008eff 100px,#0095ff 101px,#009cff 102px,#00a3ff 103px,#00a9ff 104px,#00aeff 105px,#00b3ff 106px,#00b8ff 107px,#00bcff 108px,#00bfff 109px,#00c0ff 110px,#00b6ff 111px,#009cff 112px,#0051ff 113px,#3709ff 114px,#7c00ee 115px,#7c00d0 116px,#7c00bb 117px,#7b00ab 118px,#79009b 119px,#76008a 120px,#730081 121px,#71007d 122px,#71007b 123px,#70007a 124px,#700079 125px,#700079 126px,#700078 127px,#6f0078 128px,#6f0078 129px,#6f0078 130px,#700078 131px,#700079 132px,#700079 133px,#700079 134px,#70007a 135px,#70007a 136px,#70007a 137px,#71007b 138px,#71007b 139px,#71007c 140px,#71007c 141px,#72007d 142px,#72007e 143px,#72007e 144px,#72007f 145px,#730080 146px,#730081 147px,#730081 148px,#740082 149px,#740083 150px,#740084 151px,#750084 152px,#750085 153px,#750086 154px,#760087 155px,#760088 156px,#760089 157px,#77008c 158px,#770090 159px,#780096 160px,#79009e 161px,#7a00a6 162px,#7b00ac 163px,#7b00af 164px,#7b00ae 165px,#7a00a8 166px,#7900a0 167px,#780098 168px,#770092 169px,#77008d 170px,#76008a 171px,#760088 172px,#760087 173px,#760086 174px,#750085 175px,#750085 176px,#750084 177px,#740083 178px,#740082 179px,#740082 180px,#730081 181px,#730080 182px,#73007f 183px,#72007f 184px,#72007e 185px,#72007d 186px)"></div><div class="r" style="top:162.37px;height:6.73px;background:linear-gradient(90deg,#7c00d7 0px,#7c00d7 1px,#7c00d7 2px,#7c00d7 3px,#7c00d7 4px,#7c00d7 5px,#7c00d7 6px,#7c00d8 7px,#7c00d8 8px,#7c00d8 9px,#7c00d9 10px,#7c00d9 11px,#7c00d9 12px,#7c00da 13px,#7c00da 14px,#7c00da 15px,#7c00db 16px,#7c00db 17px,#7c00dc 18px,#7c00dc 19px,#7c00dd 20px,#7c00dd 21px,#7c00de 22px,#7c00de 23px,#7c00df 24px,#7c00e0 25px,#7c00e1 26px,#7c00e2 27px,#7c00e3 28px,#7c00e5 29px,#7c00e6 30px,#7c00e7 31px,#7c00e8 32px,#7c00ea 33px,#7c00eb 34px,#7c00ed 35px,#7c00ee 36px,#7b00ee 37px,#7a00ef 38px,#7900ef 39px,#7800f0 40px,#7600f0 41px,#7500f1 42px,#7400f1 43px,#7300f2 44px,#7200f2 45px,#7000f3 46px,#6f00f3 47px,#6d00f4 48px,#6c00f4 49px,#6a00f5 50px,#6900f5 51px,#6700f6 52px,#6600f7 53px,#6400f7 54px,#6200f8 55px,#6000f9 56px,#5f00f9 57px,#5d00fa 58px,#5b00fb 59px,#5900fc 60px,#5700fc 61px,#5500fd 62px,#5300fe 63px,#5000ff 64px,#4d01ff 65px,#4903ff 66px,#4404ff 67px,#4006ff 68px,#3c07ff 69px,#3809ff 70px,#330bff 71px,#2e0dff 72px,#290fff 73px,#2410ff 74px,#1f12ff 75px,#1915ff 76px,#1417ff 77px,#0e19ff 78px,#081bff 79px,#021dff 80px,#0023ff 81px,#002bff 82px,#0032ff 83px,#003aff 84px,#0042ff 85px,#004aff 86px,#0052ff 87px,#005bff 88px,#0064ff 89px,#006eff 90px,#0078ff 91px,#0081ff 92px,#008aff 93px,#0094ff 94px,#009dff 95px,#00a6ff 96px,#00b0ff 97px,#00b9ff 98px,#00c3ff 99px,#00ccff 100px,#00d3fb 101px,#00d5f2 102px,#00d7e9 103px,#00d9e1 104px,#00dadb 105px,#00dbd7 106px,#00dcd4 107px,#00dcd2 108px,#00dcd2 109px,#00dbd6 110px,#00d7e7 111px,#00c6ff 112px,#0074ff 113px,#1c13ff 114px,#6f00f3 115px,#7c00dc 116px,#7c00c5 117px,#7b00b0 118px,#79009f 119px,#77008e 120px,#740083 121px,#73007f 122px,#72007e 123px,#71007d 124px,#71007b 125px,#70007a 126px,#700079 127px,#700079 128px,#6f0078 129px,#6f0078 130px,#6f0078 131px,#700078 132px,#700079 133px,#700079 134px,#700079 135px,#70007a 136px,#70007a 137px,#70007b 138px,#71007b 139px,#71007c 140px,#71007c 141px,#71007d 142px,#72007d 143px,#72007e 144px,#72007f 145px,#730080 146px,#730081 147px,#730081 148px,#740082 149px,#740083 150px,#750084 151px,#750085 152px,#750086 153px,#760087 154px,#760088 155px,#76008a 156px,#77008c 157px,#770090 158px,#780096 159px,#79009f 160px,#7b00ab 161px,#7c00b7 162px,#7c00c4 163px,#7c00c9 164px,#7c00c6 165px,#7c00bb 166px,#7b00ae 167px,#7a00a2 168px,#780099 169px,#770092 170px,#77008d 171px,#76008a 172px,#760088 173px,#760087 174px,#760086 175px,#750085 176px,#750084 177px,#740083 178px,#740082 179px,#740082 180px,#730081 181px,#730080 182px,#73007f 183px,#72007e 184px,#72007e 185px,#72007d 186px)"></div><div class="r" style="top:167.90px;height:6.73px;background:linear-gradient(90deg,#7c00d7 0px,#7c00d7 1px,#7c00d7 2px,#7c00d7 3px,#7c00d8 4px,#7c00d8 5px,#7c00d8 6px,#7c00d8 7px,#7c00d9 8px,#7c00d9 9px,#7c00d9 10px,#7c00da 11px,#7c00da 12px,#7c00db 13px,#7c00db 14px,#7c00dc 15px,#7c00dc 16px,#7c00dd 17px,#7c00dd 18px,#7c00de 19px,#7c00de 20px,#7c00df 21px,#7c00e0 22px,#7c00e1 23px,#7c00e2 24px,#7c00e3 25px,#7c00e4 26px,#7c00e5 27px,#7c00e6 28px,#7c00e7 29px,#7c00e9 30px,#7c00ea 31px,#7c00eb 32px,#7c00ed 33px,#7c00ee 34px,#7b00ef 35px,#7900ef 36px,#7800ef 37px,#7700f0 38px,#7600f0 39px,#7500f1 40px,#7400f1 41px,#7200f2 42px,#7100f2 43px,#7000f3 44px,#6e00f3 45px,#6d00f4 46px,#6c00f4 47px,#6a00f5 48px,#6900f5 49px,#6700f6 50px,#6600f7 51px,#6400f7 52px,#6200f8 53px,#6100f9 54px,#5f00f9 55px,#5d00fa 56px,#5b00fb 57px,#5900fb 58px,#5700fc 59px,#5500fd 60px,#5300fe 61px,#5100ff 62px,#4e01ff 63px,#4a02ff 64px,#4604ff 65px,#4205ff 66px,#3d07ff 67px,#3909ff 68px,#340aff 69px,#300cff 70px,#2a0eff 71px,#2410ff 72px,#1e13ff 73px,#1815ff 74px,#1118ff 75px,#091aff 76px,#021dff 77px,#0025ff 78px,#002eff 79px,#0038ff 80px,#0042ff 81px,#004dff 82px,#0057ff 83px,#0062ff 84px,#006cff 85px,#0077ff 86px,#0082ff 87px,#008eff 88px,#009bff 89px,#00aaff 90px,#00b8ff 91px,#00c4ff 92px,#00d0ff 93px,#00d5f4 94px,#00d8e7 95px,#00dbd8 96px,#00deca 97px,#00e2bb 98px,#00e5ad 99px,#00e89f 100px,#00eb93 101px,#00ee87 102px,#00f07c 103px,#00f371 104px,#00f46b 105px,#00f568 106px,#00f568 107px,#00f46a 108px,#00f370 109px,#00f07b 110px,#00ea96 111px,#00dfc7 112px,#00a9ff 113px,#002bff 114px,#5c00fa 115px,#7b00ee 116px,#7c00d3 117px,#7c00b9 118px,#7a00a5 119px,#780094 120px,#760087 121px,#740083 122px,#740082 123px,#730080 124px,#72007e 125px,#71007d 126px,#71007b 127px,#70007a 128px,#700079 129px,#6f0078 130px,#6f0078 131px,#6f0078 132px,#700078 133px,#700079 134px,#700079 135px,#700079 136px,#70007a 137px,#70007a 138px,#70007b 139px,#71007b 140px,#71007c 141px,#71007c 142px,#72007d 143px,#72007e 144px,#72007f 145px,#73007f 146px,#730080 147px,#730081 148px,#740082 149px,#740083 150px,#750084 151px,#750085 152px,#760086 153px,#760088 154px,#76008a 155px,#77008d 156px,#770090 157px,#780096 158px,#79009f 159px,#7b00ad 160px,#7c00c0 161px,#7c00d7 162px,#7c00ea 163px,#7900ef 164px,#7c00ed 165px,#7c00dd 166px,#7c00c7 167px,#7c00b1 168px,#7a00a3 169px,#780098 170px,#770092 171px,#77008e 172px,#76008b 173px,#760088 174px,#760087 175px,#750086 176px,#750085 177px,#740083 178px,#740082 179px,#740082 180px,#730081 181px,#730080 182px,#72007f 183px,#72007e 184px,#72007d 185px,#71007d 186px)"></div><div class="r" style="top:173.42px;height:6.73px;background:linear-gradient(90deg,#7c00d8 0px,#7c00d9 1px,#7c00d9 2px,#7c00da 3px,#7c00da 4px,#7c00db 5px,#7c00db 6px,#7c00dc 7px,#7c00dd 8px,#7c00de 9px,#7c00de 10px,#7c00df 11px,#7c00e0 12px,#7c00e1 13px,#7c00e2 14px,#7c00e3 15px,#7c00e4 16px,#7c00e5 17px,#7c00e6 18px,#7c00e8 19px,#7c00e9 20px,#7c00ea 21px,#7c00eb 22px,#7c00ed 23px,#7c00ee 24px,#7b00ee 25px,#7a00ef 26px,#7800ef 27px,#7700f0 28px,#7600f0 29px,#7400f1 30px,#7300f2 31px,#7100f2 32px,#7000f3 33px,#6e00f3 34px,#6d00f4 35px,#6b00f4 36px,#6a00f5 37px,#6800f6 38px,#6700f6 39px,#6500f7 40px,#6400f7 41px,#6200f8 42px,#6100f9 43px,#5f00f9 44px,#5e00fa 45px,#5c00fa 46px,#5a00fb 47px,#5900fc 48px,#5700fc 49px,#5500fd 50px,#5300fe 51px,#5200fe 52px,#5000ff 53px,#4c01ff 54px,#4903ff 55px,#4504ff 56px,#4205ff 57px,#3e07ff 58px,#3a08ff 59px,#360aff 60px,#320bff 61px,#2e0dff 62px,#290eff 63px,#2510ff 64px,#2012ff 65px,#1b14ff 66px,#1616ff 67px,#1118ff 68px,#0c1aff 69px,#061cff 70px,#001eff 71px,#0026ff 72px,#002eff 73px,#0037ff 74px,#0041ff 75px,#004aff 76px,#0055ff 77px,#0060ff 78px,#006cff 79px,#0078ff 80px,#0084ff 81px,#0091ff 82px,#009eff 83px,#00abff 84px,#00b8ff 85px,#00c5ff 86px,#00d2ff 87px,#00d6ef 88px,#00dadc 89px,#00dfc6 90px,#00e4b0 91px,#00e89e 92px,#00ed8c 93px,#00f17a 94px,#00f567 95px,#00fa52 96px,#00ff3d 97px,#1bff36 98px,#35ff2f 99px,#4dff2a 100px,#64ff25 101px,#78ff20 102px,#8bff1b 103px,#9dff17 104px,#a7ff15 105px,#a8ff15 106px,#a2ff16 107px,#98ff18 108px,#85ff1d 109px,#65ff24 110px,#2fff31 111px,#00f75d 112px,#00dcd3 113px,#0071ff 114px,#310cff 115px,#6400f7 116px,#7c00e9 117px,#7c00c8 118px,#7b00ae 119px,#79009d 120px,#770092 121px,#77008b 122px,#760088 123px,#750086 124px,#740083 125px,#730080 126px,#72007d 127px,#71007b 128px,#700079 129px,#700078 130px,#6f0078 131px,#6f0078 132px,#6f0078 133px,#6f0078 134px,#6f0078 135px,#700078 136px,#700079 137px,#700079 138px,#70007a 139px,#70007a 140px,#71007b 141px,#71007b 142px,#71007c 143px,#71007d 144px,#72007e 145px,#72007f 146px,#730080 147px,#730081 148px,#740082 149px,#740083 150px,#750084 151px,#750086 152px,#760087 153px,#76008a 154px,#77008d 155px,#770091 156px,#780096 157px,#79009f 158px,#7b00ad 159px,#7c00c5 160px,#7c00e6 161px,#6800f6 162px,#5300fe 163px,#4305ff 164px,#4d01ff 165px,#6100f9 166px,#7a00ef 167px,#7c00ce 168px,#7c00b2 169px,#7a00a3 170px,#780099 171px,#770092 172px,#77008e 173px,#76008b 174px,#760088 175px,#760086 176px,#750085 177px,#740083 178px,#740082 179px,#730081 180px,#730080 181px,#72007f 182px,#72007e 183px,#72007d 184px,#71007c 185px,#71007c 186px)"></div><div class="r" style="top:178.95px;height:6.73px;background:linear-gradient(90deg,#7c00d9 0px,#7c00da 1px,#7c00da 2px,#7c00db 3px,#7c00dc 4px,#7c00dd 5px,#7c00dd 6px,#7c00de 7px,#7c00df 8px,#7c00e0 9px,#7c00e1 10px,#7c00e3 11px,#7c00e4 12px,#7c00e5 13px,#7c00e6 14px,#7c00e8 15px,#7c00e9 16px,#7c00eb 17px,#7c00ec 18px,#7c00ee 19px,#7b00ee 20px,#7a00ef 21px,#7900ef 22px,#7700f0 23px,#7600f0 24px,#7500f1 25px,#7300f1 26px,#7200f2 27px,#7000f3 28px,#6e00f3 29px,#6d00f4 30px,#6b00f5 31px,#6900f5 32px,#6800f6 33px,#6600f7 34px,#6400f7 35px,#6200f8 36px,#6100f9 37px,#5f00f9 38px,#5d00fa 39px,#5b00fb 40px,#5a00fb 41px,#5800fc 42px,#5600fd 43px,#5500fd 44px,#5300fe 45px,#5100ff 46px,#4f00ff 47px,#4b02ff 48px,#4803ff 49px,#4504ff 50px,#4105ff 51px,#3e07ff 52px,#3a08ff 53px,#3709ff 54px,#330bff 55px,#2f0cff 56px,#2c0eff 57px,#280fff 58px,#2411ff 59px,#2012ff 60px,#1b14ff 61px,#1715ff 62px,#1217ff 63px,#0d19ff 64px,#071bff 65px,#021dff 66px,#0022ff 67px,#0028ff 68px,#002eff 69px,#0035ff 70px,#003dff 71px,#0046ff 72px,#004fff 73px,#005aff 74px,#0064ff 75px,#0070ff 76px,#007cff 77px,#0089ff 78px,#0097ff 79px,#00a5ff 80px,#00b4ff 81px,#00c3ff 82px,#00d2fe 83px,#00d6ee 84px,#00dade 85px,#00decd 86px,#00e2bc 87px,#00e6a9 88px,#00eb92 89px,#00f276 90px,#00f85c 91px,#00fd45 92px,#10ff38 93px,#2dff31 94px,#4bff2a 95px,#6cff23 96px,#90ff1a 97px,#b3ff12 98px,#d3ff0a 99px,#f0ff04 100px,#fffa00 101px,#ffef00 102px,#ffe400 103px,#ffdb00 104px,#ffd600 105px,#ffd600 106px,#ffdb00 107px,#ffe300 108px,#ffef00 109px,#f6ff02 110px,#b1ff12 111px,#43ff2c 112px,#00ec8d 113px,#00a8ff 114px,#071bff 115px,#5200fe 116px,#7300f2 117px,#7c00d4 118px,#7c00b6 119px,#7a00a5 120px,#78009a 121px,#780094 122px,#770090 123px,#77008c 124px,#760087 125px,#740083 126px,#73007f 127px,#71007c 128px,#70007a 129px,#700079 130px,#6f0078 131px,#6f0078 132px,#6f0078 133px,#6f0078 134px,#6f0078 135px,#6f0078 136px,#6f0078 137px,#700078 138px,#700079 139px,#700079 140px,#70007a 141px,#70007a 142px,#71007b 143px,#71007c 144px,#71007d 145px,#72007e 146px,#72007f 147px,#730080 148px,#730081 149px,#740082 150px,#750084 151px,#750085 152px,#760087 153px,#76008b 154px,#77008f 155px,#780094 156px,#79009b 157px,#7a00a6 158px,#7c00b9 159px,#7c00da 160px,#6c00f4 161px,#4604ff 162px,#1516ff 163px,#001fff 164px,#0b1aff 165px,#360aff 166px,#6200f8 167px,#7c00e5 168px,#7c00c1 169px,#7b00ab 170px,#79009e 171px,#780095 172px,#770090 173px,#77008c 174px,#760088 175px,#760086 176px,#750084 177px,#740083 178px,#740081 179px,#730080 180px,#72007f 181px,#72007e 182px,#72007d 183px,#71007c 184px,#71007b 185px,#70007b 186px)"></div><div class="r" style="top:184.48px;height:6.73px;background:linear-gradient(90deg,#7c00db 0px,#7c00dc 1px,#7c00dd 2px,#7c00de 3px,#7c00df 4px,#7c00e0 5px,#7c00e1 6px,#7c00e3 7px,#7c00e4 8px,#7c00e6 9px,#7c00e7 10px,#7c00e9 11px,#7c00eb 12px,#7c00ed 13px,#7c00ee 14px,#7a00ef 15px,#7900ef 16px,#7700f0 17px,#7500f1 18px,#7400f1 19px,#7200f2 20px,#7000f3 21px,#6e00f3 22px,#6d00f4 23px,#6b00f5 24px,#6900f5 25px,#6700f6 26px,#6500f7 27px,#6300f8 28px,#6100f8 29px,#5f00f9 30px,#5d00fa 31px,#5b00fb 32px,#5800fc 33px,#5600fd 34px,#5400fd 35px,#5200fe 36px,#4f00ff 37px,#4b02ff 38px,#4703ff 39px,#4305ff 40px,#4006ff 41px,#3c08ff 42px,#3809ff 43px,#350aff 44px,#310cff 45px,#2d0dff 46px,#2a0eff 47px,#2610ff 48px,#2211ff 49px,#1e13ff 50px,#1b14ff 51px,#1715ff 52px,#1317ff 53px,#0f18ff 54px,#0b1aff 55px,#071bff 56px,#031dff 57px,#0020ff 58px,#0025ff 59px,#002aff 60px,#002fff 61px,#0034ff 62px,#003bff 63px,#0041ff 64px,#0048ff 65px,#004fff 66px,#0056ff 67px,#005dff 68px,#0064ff 69px,#006cff 70px,#0075ff 71px,#007fff 72px,#008aff 73px,#0095ff 74px,#00a1ff 75px,#00aeff 76px,#00bcff 77px,#00cbff 78px,#00d4f6 79px,#00d8e5 80px,#00dcd3 81px,#00e0c1 82px,#00e5ae 83px,#00e99c 84px,#00ed8a 85px,#00f177 86px,#00f664 87px,#00fb4e 88px,#0dff39 89px,#38ff2f 90px,#62ff25 91px,#87ff1c 92px,#a9ff14 93px,#cdff0c 94px,#f2ff03 95px,#fff200 96px,#ffde00 97px,#ffca00 98px,#ffb800 99px,#ffa800 100px,#ff9a00 101px,#ff8d00 102px,#ff7d00 103px,#ff6f00 104px,#ff6800 105px,#ff6b00 106px,#ff7400 107px,#ff8100 108px,#ff9500 109px,#ffb000 110px,#ffd800 111px,#ceff0c 112px,#0aff3a 113px,#00d9e0 114px,#0053ff 115px,#2b0eff 116px,#6200f8 117px,#7c00e3 118px,#7c00c3 119px,#7b00ae 120px,#7a00a4 121px,#79009f 122px,#79009b 123px,#780095 124px,#77008e 125px,#760087 126px,#740082 127px,#72007e 128px,#71007b 129px,#700079 130px,#6f0078 131px,#6f0078 132px,#6f0077 133px,#6f0077 134px,#6f0077 135px,#6f0077 136px,#6f0077 137px,#6f0078 138px,#6f0078 139px,#6f0078 140px,#700079 141px,#700079 142px,#70007a 143px,#70007a 144px,#71007b 145px,#71007c 146px,#72007d 147px,#72007e 148px,#73007f 149px,#730081 150px,#740083 151px,#750085 152px,#760087 153px,#77008b 154px,#770090 155px,#780096 156px,#7900a0 157px,#7b00ae 158px,#7c00ca 159px,#7800f0 160px,#4f01ff 161px,#021dff 162px,#0062ff 163px,#0082ff 164px,#0070ff 165px,#0033ff 166px,#3809ff 167px,#6d00f4 168px,#7c00d5 169px,#7c00b4 170px,#7a00a3 171px,#780099 172px,#770091 173px,#77008c 174px,#760088 175px,#750085 176px,#740083 177px,#740081 178px,#730080 179px,#72007f 180px,#72007d 181px,#71007c 182px,#71007b 183px,#70007a 184px,#70007a 185px,#700079 186px)"></div><div class="r" style="top:190.01px;height:6.73px;background:linear-gradient(90deg,#7c00dc 0px,#7c00dd 1px,#7c00de 2px,#7c00e0 3px,#7c00e1 4px,#7c00e3 5px,#7c00e5 6px,#7c00e6 7px,#7c00e8 8px,#7c00ea 9px,#7c00ec 10px,#7c00ee 11px,#7a00ef 12px,#7800ef 13px,#7600f0 14px,#7500f1 15px,#7300f2 16px,#7100f2 17px,#6e00f3 18px,#6c00f4 19px,#6a00f5 20px,#6800f6 21px,#6600f7 22px,#6400f7 23px,#6100f8 24px,#5f00f9 25px,#5d00fa 26px,#5a00fb 27px,#5800fc 28px,#5600fd 29px,#5300fe 30px,#5100ff 31px,#4c01ff 32px,#4803ff 33px,#4305ff 34px,#3f07ff 35px,#3a08ff 36px,#350aff 37px,#300cff 38px,#2c0eff 39px,#270fff 40px,#2311ff 41px,#1e13ff 42px,#1a14ff 43px,#1616ff 44px,#1217ff 45px,#0e19ff 46px,#0a1aff 47px,#061cff 48px,#021dff 49px,#0021ff 50px,#0025ff 51px,#002aff 52px,#002eff 53px,#0033ff 54px,#0038ff 55px,#003dff 56px,#0042ff 57px,#0047ff 58px,#004cff 59px,#0051ff 60px,#0057ff 61px,#005dff 62px,#0064ff 63px,#006bff 64px,#0073ff 65px,#007bff 66px,#0082ff 67px,#008aff 68px,#0092ff 69px,#009bff 70px,#00a5ff 71px,#00b0ff 72px,#00bcff 73px,#00c9ff 74px,#00d3f9 75px,#00d7e9 76px,#00dbd8 77px,#00dfc5 78px,#00e4b2 79px,#00e99d 80px,#00ed89 81px,#00f273 82px,#00f75d 83px,#00fc48 84px,#0bff39 85px,#27ff33 86px,#45ff2c 87px,#66ff24 88px,#91ff1a 89px,#c6ff0d 90px,#f9ff01 91px,#ffee00 92px,#ffdb00 93px,#ffc800 94px,#ffb400 95px,#ff9e00 96px,#ff8400 97px,#ff6600 98px,#ff4c00 99px,#ff3500 100px,#ff1f00 101px,#ff0d00 102px,#fd0000 103px,#f70000 104px,#f40000 105px,#f60000 106px,#fa0000 107px,#ff0500 108px,#ff2100 109px,#ff4b00 110px,#ff8700 111px,#ffd200 112px,#87ff1c 113px,#00ec8f 114px,#0093ff 115px,#001fff 116px,#5000ff 117px,#7800ef 118px,#7c00d0 119px,#7c00ba 120px,#7b00af 121px,#7b00aa 122px,#7a00a6 123px,#79009f 124px,#780097 125px,#77008d 126px,#750085 127px,#730080 128px,#71007c 129px,#700079 130px,#700078 131px,#6f0078 132px,#6f0077 133px,#6f0077 134px,#6f0077 135px,#6f0077 136px,#6f0077 137px,#6f0077 138px,#6f0077 139px,#6f0077 140px,#6f0078 141px,#6f0078 142px,#6f0078 143px,#700079 144px,#700079 145px,#70007a 146px,#71007b 147px,#71007c 148px,#72007d 149px,#72007f 150px,#730080 151px,#740083 152px,#750085 153px,#760089 154px,#77008f 155px,#780098 156px,#7a00a3 157px,#7c00b6 158px,#7c00db 159px,#6300f8 160px,#1815ff 161px,#006eff 162px,#00c4ff 163px,#00d8e4 164px,#00d3fc 165px,#008aff 166px,#0023ff 167px,#5500fd 168px,#7c00e8 169px,#7c00bf 170px,#7a00a8 171px,#79009a 172px,#770091 173px,#76008b 174px,#760086 175px,#740083 176px,#730081 177px,#73007f 178px,#72007e 179px,#71007c 180px,#71007b 181px,#70007a 182px,#700079 183px,#700079 184px,#6f0078 185px,#6f0078 186px)"></div><div class="r" style="top:195.54px;height:4.66px;background:linear-gradient(90deg,#7c00dd 0px,#7c00df 1px,#7c00e1 2px,#7c00e2 3px,#7c00e4 4px,#7c00e6 5px,#7c00e8 6px,#7c00ea 7px,#7c00ed 8px,#7b00ee 9px,#7900ef 10px,#7700f0 11px,#7500f1 12px,#7300f1 13px,#7100f2 14px,#6e00f3 15px,#6c00f4 16px,#6a00f5 17px,#6700f6 18px,#6400f7 19px,#6200f8 20px,#5f00f9 21px,#5c00fa 22px,#5a00fb 23px,#5700fc 24px,#5400fd 25px,#5200fe 26px,#4e01ff 27px,#4903ff 28px,#4305ff 29px,#3e07ff 30px,#3909ff 31px,#330bff 32px,#2e0dff 33px,#290fff 34px,#2311ff 35px,#1e13ff 36px,#1815ff 37px,#1317ff 38px,#0e19ff 39px,#081bff 40px,#031dff 41px,#0020ff 42px,#0025ff 43px,#002aff 44px,#002fff 45px,#0034ff 46px,#0039ff 47px,#003eff 48px,#0043ff 49px,#0048ff 50px,#004eff 51px,#0053ff 52px,#0058ff 53px,#005dff 54px,#0062ff 55px,#0067ff 56px,#006cff 57px,#0072ff 58px,#0077ff 59px,#007dff 60px,#0083ff 61px,#0089ff 62px,#0091ff 63px,#0099ff 64px,#00a2ff 65px,#00aaff 66px,#00b3ff 67px,#00bbff 68px,#00c4ff 69px,#00ceff 70px,#00d4f8 71px,#00d6ec 72px,#00dade 73px,#00ddd0 74px,#00e0c1 75px,#00e4b0 76px,#00e89e 77px,#00ed8c 78px,#00f178 79px,#00f664 80px,#00fb4f 81px,#04ff3b 82px,#21ff34 83px,#3dff2e 84px,#58ff27 85px,#74ff21 86px,#92ff1a 87px,#b5ff11 88px,#e3ff07 89px,#fff200 90px,#ffd900 91px,#ffc400 92px,#ffaf00 93px,#ff9a00 94px,#ff8200 95px,#ff6400 96px,#ff4300 97px,#ff2200 98px,#ff0500 99px,#f70000 100px,#ef0000 101px,#e70000 102px,#e00000 103px,#d90000 104px,#d60000 105px,#d80000 106px,#de0000 107px,#e50000 108px,#f10000 109px,#ff0a00 110px,#ff4d00 111px,#ffa900 112px,#d2ff0b 113px,#00f75e 114px,#00baff 115px,#003cff 116px,#3c08ff 117px,#7100f2 118px,#7c00d8 119px,#7c00c2 120px,#7c00b7 121px,#7c00b1 122px,#7b00ac 123px,#7a00a5 124px,#79009c 125px,#770091 126px,#760087 127px,#730081 128px,#71007c 129px,#70007a 130px,#700079 131px,#6f0078 132px,#6f0077 133px,#6f0077 134px,#6f0077 135px,#6f0077 136px,#6f0077 137px,#6f0077 138px,#6f0077 139px,#6f0077 140px,#6f0077 141px,#6f0077 142px,#6f0077 143px,#6f0078 144px,#6f0078 145px,#700079 146px,#700079 147px,#70007a 148px,#71007b 149px,#72007d 150px,#72007f 151px,#730081 152px,#750084 153px,#760087 154px,#77008e 155px,#780097 156px,#7a00a5 157px,#7c00bb 158px,#7c00e4 159px,#5700fc 160px,#0027ff 161px,#009fff 162px,#00ddcf 163px,#00e8a0 164px,#00e2ba 165px,#00beff 166px,#004bff 167px,#4106ff 168px,#7800f0 169px,#7c00c5 170px,#7b00aa 171px,#79009b 172px,#770090 173px,#760089 174px,#750085 175px,#740082 176px,#73007f 177px,#72007d 178px,#71007c 179px,#70007b 180px,#70007a 181px,#700079 182px,#6f0078 183px,#6f0078 184px,#6f0078 185px,#6f0077 186px)"></div></div>
<svg width="550" height="270" viewBox="0 0 550 270"><rect x="50.00" y="25.50" width="186.00" height="199.00" fill="none" stroke="#000" stroke-width="1.3"/>
<line x1="91.20" y1="25.50" x2="91.20" y2="224.50" stroke="#000" stroke-width="1.3" stroke-dasharray="5 4.77"/>
<line x1="120.50" y1="25.50" x2="120.50" y2="224.50" stroke="#000" stroke-width="1.3" stroke-dasharray="5 4.77"/>
<line x1="154.80" y1="25.50" x2="154.80" y2="224.50" stroke="#000" stroke-width="1.3" stroke-dasharray="5 4.77"/>
<line x1="214.80" y1="25.50" x2="214.80" y2="224.50" stroke="#000" stroke-width="1.3" stroke-dasharray="5 4.77"/>
<line x1="50.00" y1="224.50" x2="55.50" y2="224.50" stroke="#000" stroke-width="1.3"/>
<line x1="50.00" y1="218.97" x2="53.00" y2="218.97" stroke="#000" stroke-width="1.3"/>
<line x1="50.00" y1="213.44" x2="53.00" y2="213.44" stroke="#000" stroke-width="1.3"/>
<line x1="50.00" y1="207.92" x2="53.00" y2="207.92" stroke="#000" stroke-width="1.3"/>
<line x1="50.00" y1="202.39" x2="55.50" y2="202.39" stroke="#000" stroke-width="1.3"/>
<line x1="50.00" y1="196.86" x2="53.00" y2="196.86" stroke="#000" stroke-width="1.3"/>
<line x1="50.00" y1="191.33" x2="53.00" y2="191.33" stroke="#000" stroke-width="1.3"/>
<line x1="50.00" y1="185.81" x2="53.00" y2="185.81" stroke="#000" stroke-width="1.3"/>
<line x1="50.00" y1="180.28" x2="55.50" y2="180.28" stroke="#000" stroke-width="1.3"/>
<line x1="50.00" y1="174.75" x2="53.00" y2="174.75" stroke="#000" stroke-width="1.3"/>
<line x1="50.00" y1="169.22" x2="53.00" y2="169.22" stroke="#000" stroke-width="1.3"/>
<line x1="50.00" y1="163.69" x2="53.00" y2="163.69" stroke="#000" stroke-width="1.3"/>
<line x1="50.00" y1="158.17" x2="55.50" y2="158.17" stroke="#000" stroke-width="1.3"/>
<line x1="50.00" y1="152.64" x2="53.00" y2="152.64" stroke="#000" stroke-width="1.3"/>
<line x1="50.00" y1="147.11" x2="53.00" y2="147.11" stroke="#000" stroke-width="1.3"/>
<line x1="50.00" y1="141.58" x2="53.00" y2="141.58" stroke="#000" stroke-width="1.3"/>
<line x1="50.00" y1="136.06" x2="55.50" y2="136.06" stroke="#000" stroke-width="1.3"/>
<line x1="50.00" y1="130.53" x2="53.00" y2="130.53" stroke="#000" stroke-width="1.3"/>
<line x1="50.00" y1="125.00" x2="53.00" y2="125.00" stroke="#000" stroke-width="1.3"/>
<line x1="50.00" y1="119.47" x2="53.00" y2="119.47" stroke="#000" stroke-width="1.3"/>
<line x1="50.00" y1="113.94" x2="55.50" y2="113.94" stroke="#000" stroke-width="1.3"/>
<line x1="50.00" y1="108.42" x2="53.00" y2="108.42" stroke="#000" stroke-width="1.3"/>
<line x1="50.00" y1="102.89" x2="53.00" y2="102.89" stroke="#000" stroke-width="1.3"/>
<line x1="50.00" y1="97.36" x2="53.00" y2="97.36" stroke="#000" stroke-width="1.3"/>
<line x1="50.00" y1="91.83" x2="55.50" y2="91.83" stroke="#000" stroke-width="1.3"/>
<line x1="50.00" y1="86.31" x2="53.00" y2="86.31" stroke="#000" stroke-width="1.3"/>
<line x1="50.00" y1="80.78" x2="53.00" y2="80.78" stroke="#000" stroke-width="1.3"/>
<line x1="50.00" y1="75.25" x2="53.00" y2="75.25" stroke="#000" stroke-width="1.3"/>
<line x1="50.00" y1="69.72" x2="55.50" y2="69.72" stroke="#000" stroke-width="1.3"/>
<line x1="50.00" y1="64.19" x2="53.00" y2="64.19" stroke="#000" stroke-width="1.3"/>
<line x1="50.00" y1="58.67" x2="53.00" y2="58.67" stroke="#000" stroke-width="1.3"/>
<line x1="50.00" y1="53.14" x2="53.00" y2="53.14" stroke="#000" stroke-width="1.3"/>
<line x1="50.00" y1="47.61" x2="55.50" y2="47.61" stroke="#000" stroke-width="1.3"/>
<line x1="50.00" y1="42.08" x2="53.00" y2="42.08" stroke="#000" stroke-width="1.3"/>
<line x1="50.00" y1="36.56" x2="53.00" y2="36.56" stroke="#000" stroke-width="1.3"/>
<line x1="50.00" y1="31.03" x2="53.00" y2="31.03" stroke="#000" stroke-width="1.3"/>
<line x1="50.00" y1="25.50" x2="55.50" y2="25.50" stroke="#000" stroke-width="1.3"/>
<line x1="50.00" y1="224.50" x2="50.00" y2="219.00" stroke="#000" stroke-width="1.3"/>
<line x1="59.30" y1="224.50" x2="59.30" y2="221.50" stroke="#000" stroke-width="1.3"/>
<line x1="68.60" y1="224.50" x2="68.60" y2="221.50" stroke="#000" stroke-width="1.3"/>
<line x1="77.90" y1="224.50" x2="77.90" y2="221.50" stroke="#000" stroke-width="1.3"/>
<line x1="87.20" y1="224.50" x2="87.20" y2="219.00" stroke="#000" stroke-width="1.3"/>
<line x1="96.50" y1="224.50" x2="96.50" y2="221.50" stroke="#000" stroke-width="1.3"/>
<line x1="105.80" y1="224.50" x2="105.80" y2="221.50" stroke="#000" stroke-width="1.3"/>
<line x1="115.10" y1="224.50" x2="115.10" y2="221.50" stroke="#000" stroke-width="1.3"/>
<line x1="124.40" y1="224.50" x2="124.40" y2="219.00" stroke="#000" stroke-width="1.3"/>
<line x1="133.70" y1="224.50" x2="133.70" y2="221.50" stroke="#000" stroke-width="1.3"/>
<line x1="143.00" y1="224.50" x2="143.00" y2="221.50" stroke="#000" stroke-width="1.3"/>
<line x1="152.30" y1="224.50" x2="152.30" y2="221.50" stroke="#000" stroke-width="1.3"/>
<line x1="161.60" y1="224.50" x2="161.60" y2="219.00" stroke="#000" stroke-width="1.3"/>
<line x1="170.90" y1="224.50" x2="170.90" y2="221.50" stroke="#000" stroke-width="1.3"/>
<line x1="180.20" y1="224.50" x2="180.20" y2="221.50" stroke="#000" stroke-width="1.3"/>
<line x1="189.50" y1="224.50" x2="189.50" y2="221.50" stroke="#000" stroke-width="1.3"/>
<line x1="198.80" y1="224.50" x2="198.80" y2="219.00" stroke="#000" stroke-width="1.3"/>
<line x1="208.10" y1="224.50" x2="208.10" y2="221.50" stroke="#000" stroke-width="1.3"/>
<line x1="217.40" y1="224.50" x2="217.40" y2="221.50" stroke="#000" stroke-width="1.3"/>
<line x1="226.70" y1="224.50" x2="226.70" y2="221.50" stroke="#000" stroke-width="1.3"/>
<line x1="236.00" y1="224.50" x2="236.00" y2="219.00" stroke="#000" stroke-width="1.3"/>
<text x="43.50" y="229.10" font-size="13.20" text-anchor="end" fill="#000" textLength="6.00" lengthAdjust="spacingAndGlyphs">0</text>
<text x="43.50" y="206.99" font-size="13.20" text-anchor="end" fill="#000" textLength="12.00" lengthAdjust="spacingAndGlyphs">40</text>
<text x="43.50" y="184.88" font-size="13.20" text-anchor="end" fill="#000" textLength="12.00" lengthAdjust="spacingAndGlyphs">80</text>
<text x="43.50" y="162.77" font-size="13.20" text-anchor="end" fill="#000" textLength="18.00" lengthAdjust="spacingAndGlyphs">120</text>
<text x="43.50" y="140.66" font-size="13.20" text-anchor="end" fill="#000" textLength="18.00" lengthAdjust="spacingAndGlyphs">160</text>
<text x="43.50" y="118.54" font-size="13.20" text-anchor="end" fill="#000" textLength="18.00" lengthAdjust="spacingAndGlyphs">200</text>
<text x="43.50" y="96.43" font-size="13.20" text-anchor="end" fill="#000" textLength="18.00" lengthAdjust="spacingAndGlyphs">240</text>
<text x="43.50" y="74.32" font-size="13.20" text-anchor="end" fill="#000" textLength="18.00" lengthAdjust="spacingAndGlyphs">280</text>
<text x="43.50" y="52.21" font-size="13.20" text-anchor="end" fill="#000" textLength="18.00" lengthAdjust="spacingAndGlyphs">320</text>
<text x="43.50" y="30.10" font-size="13.20" text-anchor="end" fill="#000" textLength="18.00" lengthAdjust="spacingAndGlyphs">360</text>
<text x="50.00" y="241.20" font-size="13.20" text-anchor="middle" fill="#000" textLength="21.00" lengthAdjust="spacingAndGlyphs">1.60</text>
<text x="87.20" y="241.20" font-size="13.20" text-anchor="middle" fill="#000" textLength="21.00" lengthAdjust="spacingAndGlyphs">1.64</text>
<text x="124.40" y="241.20" font-size="13.20" text-anchor="middle" fill="#000" textLength="21.00" lengthAdjust="spacingAndGlyphs">1.68</text>
<text x="161.60" y="241.20" font-size="13.20" text-anchor="middle" fill="#000" textLength="21.00" lengthAdjust="spacingAndGlyphs">1.72</text>
<text x="198.80" y="241.20" font-size="13.20" text-anchor="middle" fill="#000" textLength="21.00" lengthAdjust="spacingAndGlyphs">1.76</text>
<text x="236.00" y="241.20" font-size="13.20" text-anchor="middle" fill="#000" textLength="21.00" lengthAdjust="spacingAndGlyphs">1.80</text>
<text x="142.70" y="260.20" font-size="13.70" text-anchor="middle" font-weight="normal" font-style="normal" fill="#000" >Energy (eV)</text>
<text x="0" y="0" font-size="14" text-anchor="middle" transform="translate(15.6 124.8) rotate(-90)">Detection angle (°)</text>
<text x="4.9" y="15.2" font-size="15.4" textLength="16.0" lengthAdjust="spacingAndGlyphs">(a)</text>
<text x="84.90" y="17.00" font-size="19.00" font-weight="bold">L<tspan font-size="10.07" dy="3.6" dx="-0.6">3</tspan></text>
<text x="114.00" y="17.00" font-size="19.00" font-weight="bold">L<tspan font-size="10.07" dy="3.6" dx="-0.6">2</tspan></text>
<text x="148.70" y="17.00" font-size="19.00" font-weight="bold">L<tspan font-size="10.07" dy="3.6" dx="-0.6">1</tspan></text>
<text x="215.50" y="17.00" font-size="19.00" text-anchor="middle" font-weight="bold" font-style="normal" fill="#000" >X</text>
<text x="172.6" y="210.3" font-size="12" fill="#fff" textLength="27.5" lengthAdjust="spacingAndGlyphs"><tspan font-style="italic">T</tspan>=5 K</text>
<defs><linearGradient id="cb" x1="0" y1="1" x2="0" y2="0"><stop offset="0.000" stop-color="#7c00c0"/><stop offset="0.050" stop-color="#7600f0"/><stop offset="0.100" stop-color="#4a02ff"/><stop offset="0.150" stop-color="#0020ff"/><stop offset="0.200" stop-color="#0074ff"/><stop offset="0.250" stop-color="#00c9ff"/><stop offset="0.300" stop-color="#00e5ad"/><stop offset="0.350" stop-color="#00fa51"/><stop offset="0.400" stop-color="#5cff26"/><stop offset="0.450" stop-color="#d4ff0a"/><stop offset="0.500" stop-color="#ffdc00"/><stop offset="0.550" stop-color="#ffa600"/><stop offset="0.600" stop-color="#ff6a00"/><stop offset="0.650" stop-color="#ff2900"/><stop offset="0.700" stop-color="#f60000"/><stop offset="0.750" stop-color="#dd0000"/><stop offset="0.800" stop-color="#c50000"/><stop offset="0.850" stop-color="#ad0000"/><stop offset="0.900" stop-color="#950000"/><stop offset="0.950" stop-color="#7c0000"/><stop offset="1.000" stop-color="#640000"/></linearGradient></defs>
<rect x="6" y="221.8" width="7.8" height="41.4" fill="url(#cb)" stroke="#000" stroke-width="1"/>
<line x1="13.8" y1="263.20" x2="16.3" y2="263.20" stroke="#000" stroke-width="1"/>
<text x="17.50" y="267.90" font-size="12.00" text-anchor="start" font-weight="normal" font-style="normal" fill="#000" >10</text>
<line x1="13.8" y1="249.40" x2="16.3" y2="249.40" stroke="#000" stroke-width="1"/>
<text x="17.50" y="254.10" font-size="12.00" text-anchor="start" font-weight="normal" font-style="normal" fill="#000" >70</text>
<line x1="13.8" y1="235.60" x2="16.3" y2="235.60" stroke="#000" stroke-width="1"/>
<text x="17.50" y="240.30" font-size="12.00" text-anchor="start" font-weight="normal" font-style="normal" fill="#000" >130</text>
<line x1="13.8" y1="221.80" x2="16.3" y2="221.80" stroke="#000" stroke-width="1"/>
<text x="17.50" y="226.50" font-size="12.00" text-anchor="start" font-weight="normal" font-style="normal" fill="#000" >190</text>
<rect x="287.00" y="25.50" width="259.00" height="199.00" fill="none" stroke="#000" stroke-width="1.3"/>
<line x1="287.00" y1="216.02" x2="290.00" y2="216.02" stroke="#000" stroke-width="1.3"/>
<line x1="287.00" y1="203.30" x2="292.50" y2="203.30" stroke="#000" stroke-width="1.3"/>
<line x1="287.00" y1="190.58" x2="290.00" y2="190.58" stroke="#000" stroke-width="1.3"/>
<line x1="287.00" y1="177.87" x2="292.50" y2="177.87" stroke="#000" stroke-width="1.3"/>
<line x1="287.00" y1="165.15" x2="290.00" y2="165.15" stroke="#000" stroke-width="1.3"/>
<line x1="287.00" y1="152.43" x2="292.50" y2="152.43" stroke="#000" stroke-width="1.3"/>
<line x1="287.00" y1="139.72" x2="290.00" y2="139.72" stroke="#000" stroke-width="1.3"/>
<line x1="287.00" y1="127.00" x2="292.50" y2="127.00" stroke="#000" stroke-width="1.3"/>
<line x1="287.00" y1="114.28" x2="290.00" y2="114.28" stroke="#000" stroke-width="1.3"/>
<line x1="287.00" y1="101.57" x2="292.50" y2="101.57" stroke="#000" stroke-width="1.3"/>
<line x1="287.00" y1="88.85" x2="290.00" y2="88.85" stroke="#000" stroke-width="1.3"/>
<line x1="287.00" y1="76.13" x2="292.50" y2="76.13" stroke="#000" stroke-width="1.3"/>
<line x1="287.00" y1="63.42" x2="290.00" y2="63.42" stroke="#000" stroke-width="1.3"/>
<line x1="287.00" y1="50.70" x2="292.50" y2="50.70" stroke="#000" stroke-width="1.3"/>
<line x1="287.00" y1="37.98" x2="290.00" y2="37.98" stroke="#000" stroke-width="1.3"/>
<line x1="287.00" y1="25.27" x2="292.50" y2="25.27" stroke="#000" stroke-width="1.3"/>
<text x="280.80" y="207.90" font-size="13.20" text-anchor="end" fill="#000" textLength="12.00" lengthAdjust="spacingAndGlyphs">20</text>
<text x="280.80" y="182.47" font-size="13.20" text-anchor="end" fill="#000" textLength="12.00" lengthAdjust="spacingAndGlyphs">40</text>
<text x="280.80" y="157.03" font-size="13.20" text-anchor="end" fill="#000" textLength="12.00" lengthAdjust="spacingAndGlyphs">60</text>
<text x="280.80" y="131.60" font-size="13.20" text-anchor="end" fill="#000" textLength="12.00" lengthAdjust="spacingAndGlyphs">80</text>
<text x="280.80" y="106.17" font-size="13.20" text-anchor="end" fill="#000" textLength="18.00" lengthAdjust="spacingAndGlyphs">100</text>
<text x="280.80" y="80.73" font-size="13.20" text-anchor="end" fill="#000" textLength="18.00" lengthAdjust="spacingAndGlyphs">120</text>
<text x="280.80" y="55.30" font-size="13.20" text-anchor="end" fill="#000" textLength="18.00" lengthAdjust="spacingAndGlyphs">140</text>
<text x="280.80" y="29.87" font-size="13.20" text-anchor="end" fill="#000" textLength="18.00" lengthAdjust="spacingAndGlyphs">160</text>
<line x1="287.00" y1="224.50" x2="287.00" y2="219.00" stroke="#000" stroke-width="1.3"/>
<line x1="296.25" y1="224.50" x2="296.25" y2="221.50" stroke="#000" stroke-width="1.3"/>
<line x1="305.50" y1="224.50" x2="305.50" y2="221.50" stroke="#000" stroke-width="1.3"/>
<line x1="314.75" y1="224.50" x2="314.75" y2="221.50" stroke="#000" stroke-width="1.3"/>
<line x1="324.00" y1="224.50" x2="324.00" y2="219.00" stroke="#000" stroke-width="1.3"/>
<line x1="333.25" y1="224.50" x2="333.25" y2="221.50" stroke="#000" stroke-width="1.3"/>
<line x1="342.50" y1="224.50" x2="342.50" y2="221.50" stroke="#000" stroke-width="1.3"/>
<line x1="351.75" y1="224.50" x2="351.75" y2="221.50" stroke="#000" stroke-width="1.3"/>
<line x1="361.00" y1="224.50" x2="361.00" y2="219.00" stroke="#000" stroke-width="1.3"/>
<line x1="370.25" y1="224.50" x2="370.25" y2="221.50" stroke="#000" stroke-width="1.3"/>
<line x1="379.50" y1="224.50" x2="379.50" y2="221.50" stroke="#000" stroke-width="1.3"/>
<line x1="388.75" y1="224.50" x2="388.75" y2="221.50" stroke="#000" stroke-width="1.3"/>
<line x1="398.00" y1="224.50" x2="398.00" y2="219.00" stroke="#000" stroke-width="1.3"/>
<line x1="407.25" y1="224.50" x2="407.25" y2="221.50" stroke="#000" stroke-width="1.3"/>
<line x1="416.50" y1="224.50" x2="416.50" y2="221.50" stroke="#000" stroke-width="1.3"/>
<line x1="425.75" y1="224.50" x2="425.75" y2="221.50" stroke="#000" stroke-width="1.3"/>
<line x1="435.00" y1="224.50" x2="435.00" y2="219.00" stroke="#000" stroke-width="1.3"/>
<line x1="444.25" y1="224.50" x2="444.25" y2="221.50" stroke="#000" stroke-width="1.3"/>
<line x1="453.50" y1="224.50" x2="453.50" y2="221.50" stroke="#000" stroke-width="1.3"/>
<line x1="462.75" y1="224.50" x2="462.75" y2="221.50" stroke="#000" stroke-width="1.3"/>
<line x1="472.00" y1="224.50" x2="472.00" y2="219.00" stroke="#000" stroke-width="1.3"/>
<text x="287.00" y="241.20" font-size="13.20" text-anchor="middle" fill="#000" textLength="21.00" lengthAdjust="spacingAndGlyphs">1.60</text>
<text x="324.00" y="241.20" font-size="13.20" text-anchor="middle" fill="#000" textLength="21.00" lengthAdjust="spacingAndGlyphs">1.64</text>
<text x="361.00" y="241.20" font-size="13.20" text-anchor="middle" fill="#000" textLength="21.00" lengthAdjust="spacingAndGlyphs">1.68</text>
<text x="398.00" y="241.20" font-size="13.20" text-anchor="middle" fill="#000" textLength="21.00" lengthAdjust="spacingAndGlyphs">1.72</text>
<text x="435.00" y="241.20" font-size="13.20" text-anchor="middle" fill="#000" textLength="21.00" lengthAdjust="spacingAndGlyphs">1.76</text>
<text x="472.00" y="241.20" font-size="13.20" text-anchor="middle" fill="#000" textLength="21.00" lengthAdjust="spacingAndGlyphs">1.80</text>
<text x="416.00" y="260.20" font-size="13.70" text-anchor="middle" font-weight="normal" font-style="normal" fill="#000" >Energy (eV)</text>
<text x="0" y="0" font-size="14.5" text-anchor="middle" transform="translate(253.6 115.6) rotate(-90)">PL intensity (arb. units)</text>
<text x="243.7" y="15.2" font-size="15.4" textLength="17.2" lengthAdjust="spacingAndGlyphs">(b)</text>
<path d="M287.60 97.2 L288.10 97.2 L288.60 97.1 L289.10 97.0 L289.60 97.0 L290.10 96.8 L290.60 96.9 L291.10 97.0 L291.60 96.7 L292.10 96.6 L292.60 96.7 L293.10 96.7 L293.60 96.6 L294.10 96.4 L294.60 96.4 L295.10 96.5 L295.60 96.2 L296.10 96.2 L296.60 96.0 L297.10 96.0 L297.60 95.9 L298.10 96.0 L298.60 95.9 L299.10 96.0 L299.60 95.9 L300.10 95.8 L300.60 95.5 L301.10 95.7 L301.60 95.7 L302.10 95.7 L302.60 95.4 L303.10 95.5 L303.60 95.4 L304.10 95.3 L304.60 95.5 L305.10 95.2 L305.60 95.2 L306.10 95.3 L306.60 95.0 L307.10 95.0 L307.60 95.0 L308.10 94.9 L308.60 94.7 L309.10 94.7 L309.60 94.8 L310.10 94.4 L310.60 94.6 L311.10 94.4 L311.60 94.3 L312.10 94.5 L312.60 94.3 L313.10 94.0 L313.60 94.0 L314.10 94.0 L314.60 93.8 L315.10 93.9 L315.60 93.7 L316.10 93.7 L316.60 93.7 L317.10 93.4 L317.60 93.4 L318.10 93.2 L318.60 93.2 L319.10 92.9 L319.60 92.9 L320.10 92.9 L320.60 92.9 L321.10 92.8 L321.60 92.4 L322.10 92.4 L322.60 92.5 L323.10 92.1 L323.60 92.1 L324.10 92.1 L324.60 92.1 L325.10 92.0 L325.60 91.7 L326.10 91.6 L326.60 91.5 L327.10 91.6 L327.60 91.3 L328.10 91.2 L328.60 91.2 L329.10 91.0 L329.60 90.9 L330.10 90.7 L330.60 90.7 L331.10 90.5 L331.60 90.6 L332.10 90.4 L332.60 90.2 L333.10 90.2 L333.60 89.9 L334.10 90.0 L334.60 89.7 L335.10 89.6 L335.60 89.3 L336.10 89.3 L336.60 89.0 L337.10 88.8 L337.60 88.8 L338.10 88.6 L338.60 88.6 L339.10 88.7 L339.60 88.2 L340.10 88.0 L340.60 88.0 L341.10 87.8 L341.60 87.6 L342.10 87.4 L342.60 87.3 L343.10 87.1 L343.60 86.7 L344.10 86.6 L344.60 86.4 L345.10 86.1 L345.60 86.0 L346.10 85.6 L346.60 85.6 L347.10 85.2 L347.60 84.9 L348.10 84.6 L348.60 84.4 L349.10 83.9 L349.60 83.7 L350.10 83.7 L350.60 83.1 L351.10 83.2 L351.60 82.6 L352.10 82.7 L352.60 82.2 L353.10 82.1 L353.60 81.8 L354.10 81.3 L354.60 81.4 L355.10 81.2 L355.60 80.8 L356.10 80.6 L356.60 80.5 L357.10 80.2 L357.60 80.4 L358.10 80.1 L358.60 80.0 L359.10 79.8 L359.60 79.8 L360.10 79.6 L360.60 79.8 L361.10 79.5 L361.60 79.6 L362.10 79.4 L362.60 79.2 L363.10 79.1 L363.60 78.9 L364.10 78.8 L364.60 78.6 L365.10 78.4 L365.60 78.1 L366.10 77.9 L366.60 78.0 L367.10 77.5 L367.60 77.2 L368.10 77.1 L368.60 77.0 L369.10 76.4 L369.60 76.3 L370.10 75.9 L370.60 75.5 L371.10 75.5 L371.60 75.1 L372.10 74.7 L372.60 74.3 L373.10 74.1 L373.60 73.6 L374.10 73.2 L374.60 72.7 L375.10 72.2 L375.60 72.1 L376.10 71.4 L376.60 71.0 L377.10 70.4 L377.60 69.8 L378.10 69.1 L378.60 68.5 L379.10 67.7 L379.60 66.9 L380.10 66.1 L380.60 65.4 L381.10 64.6 L381.60 63.7 L382.10 62.8 L382.60 61.9 L383.10 61.3 L383.60 60.5 L384.10 59.5 L384.60 58.7 L385.10 57.9 L385.60 57.1 L386.10 56.2 L386.60 55.1 L387.10 54.5 L387.60 53.4 L388.10 53.0 L388.60 52.4 L389.10 52.0 L389.60 51.9 L390.10 51.8 L390.60 51.6 L391.10 51.6 L391.60 52.1 L392.10 52.2 L392.60 52.6 L393.10 53.2 L393.60 53.8 L394.10 54.9 L394.60 56.5 L395.10 57.9 L395.60 59.8 L396.10 61.9 L396.60 64.0 L397.10 66.0 L397.60 68.1 L398.10 69.7 L398.60 71.3 L399.10 73.3 L399.60 75.0 L400.10 76.9 L400.60 78.9 L401.10 81.1 L401.60 83.3 L402.10 85.3 L402.60 87.3 L403.10 89.1 L403.60 90.9 L404.10 92.3 L404.60 93.7 L405.10 94.4 L405.60 95.7 L406.10 96.4 L406.60 97.1 L407.10 97.5 L407.60 98.2 L408.10 98.8 L408.60 99.1 L409.10 99.5 L409.60 99.8 L410.10 100.2 L410.60 100.2 L411.10 100.2 L411.60 100.5 L412.10 100.5 L412.60 100.5 L413.10 100.9 L413.60 101.2 L414.10 101.1 L414.60 101.0 L415.10 101.0 L415.60 101.2 L416.10 101.0 L416.60 101.0 L417.10 100.9 L417.60 100.9 L418.10 100.9 L418.60 100.8 L419.10 100.8 L419.60 100.6 L420.10 100.8 L420.60 100.6 L421.10 100.8 L421.60 100.5 L422.10 100.7 L422.60 100.7 L423.10 100.5 L423.60 100.9 L424.10 100.8 L424.60 100.6 L425.10 100.7 L425.60 100.7 L426.10 100.3 L426.60 100.7 L427.10 100.6 L427.60 100.6 L428.10 100.5 L428.60 100.6 L429.10 100.6 L429.60 100.8 L430.10 100.6 L430.60 100.6 L431.10 100.7 L431.60 100.4 L432.10 100.4 L432.60 100.2 L433.10 100.5 L433.60 100.4 L434.10 100.3 L434.60 100.2 L435.10 100.0 L435.60 99.9 L436.10 99.8 L436.60 99.7 L437.10 99.6 L437.60 99.7 L438.10 99.4 L438.60 99.2 L439.10 99.0 L439.60 98.8 L440.10 98.9 L440.60 98.6 L441.10 98.3 L441.60 98.0 L442.10 97.5 L442.60 97.2 L443.10 96.7 L443.60 96.0 L444.10 95.4 L444.60 94.7 L445.10 94.0 L445.60 93.1 L446.10 92.5 L446.60 91.7 L447.10 91.2 L447.60 90.0 L448.10 89.0 L448.60 88.0 L449.10 86.6 L449.60 85.4 L450.10 84.5 L450.60 83.6 L451.10 82.9 L451.60 82.9 L452.10 83.2 L452.60 83.5 L453.10 84.3 L453.60 85.4 L454.10 86.9 L454.60 88.1 L455.10 89.6 L455.60 91.3 L456.10 92.4 L456.60 93.8 L457.10 94.9 L457.60 95.9 L458.10 97.1 L458.60 98.4 L459.10 99.0 L459.60 99.6 L460.10 99.9 L460.60 100.2 L461.10 100.5 L461.60 100.6 L462.10 100.5 L462.60 100.6 L463.10 100.7 L463.60 100.9 L464.10 100.9 L464.60 101.0 L465.10 101.0 L465.60 101.0 L466.10 101.1 L466.60 101.2 L467.10 101.2 L467.60 101.3 L468.10 101.5 L468.60 101.4 L469.10 101.4 L469.60 101.2 L470.10 101.5 L470.60 101.2 L471.10 101.3 L471.60 101.6" fill="none" stroke="#c200ca" stroke-width="1.60" stroke-linejoin="round"/>
<path d="M287.60 117.7 L288.10 117.5 L288.60 117.1 L289.10 117.3 L289.60 117.2 L290.10 117.5 L290.60 117.8 L291.10 117.3 L291.60 117.1 L292.10 116.9 L292.60 117.1 L293.10 117.1 L293.60 116.8 L294.10 117.0 L294.60 116.7 L295.10 117.2 L295.60 117.1 L296.10 117.1 L296.60 116.7 L297.10 116.9 L297.60 116.7 L298.10 116.6 L298.60 116.6 L299.10 116.4 L299.60 116.3 L300.10 116.7 L300.60 116.5 L301.10 116.5 L301.60 116.6 L302.10 116.0 L302.60 116.2 L303.10 116.3 L303.60 116.3 L304.10 116.2 L304.60 116.4 L305.10 116.2 L305.60 115.9 L306.10 115.9 L306.60 116.2 L307.10 116.1 L307.60 115.5 L308.10 116.1 L308.60 116.0 L309.10 116.1 L309.60 115.7 L310.10 115.6 L310.60 115.4 L311.10 116.1 L311.60 115.5 L312.10 115.8 L312.60 115.3 L313.10 115.5 L313.60 115.1 L314.10 115.3 L314.60 115.5 L315.10 115.0 L315.60 115.5 L316.10 115.3 L316.60 115.0 L317.10 115.1 L317.60 115.0 L318.10 115.1 L318.60 115.0 L319.10 114.9 L319.60 115.0 L320.10 114.8 L320.60 114.8 L321.10 115.0 L321.60 115.2 L322.10 114.7 L322.60 115.0 L323.10 114.9 L323.60 114.8 L324.10 115.1 L324.60 114.9 L325.10 115.3 L325.60 114.8 L326.10 115.0 L326.60 114.9 L327.10 114.8 L327.60 115.1 L328.10 114.9 L328.60 115.1 L329.10 114.9 L329.60 114.7 L330.10 114.9 L330.60 115.0 L331.10 115.1 L331.60 114.8 L332.10 114.9 L332.60 114.6 L333.10 115.1 L333.60 114.7 L334.10 114.6 L334.60 114.9 L335.10 115.2 L335.60 114.6 L336.10 114.7 L336.60 114.8 L337.10 114.7 L337.60 115.0 L338.10 114.8 L338.60 114.8 L339.10 115.0 L339.60 114.7 L340.10 115.0 L340.60 114.7 L341.10 114.6 L341.60 114.5 L342.10 115.2 L342.60 114.7 L343.10 114.8 L343.60 114.7 L344.10 114.7 L344.60 114.6 L345.10 114.9 L345.60 114.3 L346.10 114.1 L346.60 114.2 L347.10 114.1 L347.60 114.4 L348.10 114.4 L348.60 114.0 L349.10 113.8 L349.60 114.0 L350.10 114.3 L350.60 113.4 L351.10 114.0 L351.60 113.6 L352.10 114.0 L352.60 113.5 L353.10 113.7 L353.60 113.4 L354.10 113.4 L354.60 113.9 L355.10 113.7 L355.60 113.5 L356.10 113.4 L356.60 113.1 L357.10 113.4 L357.60 113.5 L358.10 113.5 L358.60 113.5 L359.10 113.3 L359.60 113.6 L360.10 113.7 L360.60 114.0 L361.10 114.2 L361.60 113.9 L362.10 113.9 L362.60 114.1 L363.10 114.1 L363.60 114.1 L364.10 114.4 L364.60 114.3 L365.10 114.7 L365.60 114.6 L366.10 114.8 L366.60 114.7 L367.10 114.7 L367.60 114.8 L368.10 115.0 L368.60 115.0 L369.10 115.2 L369.60 115.2 L370.10 114.9 L370.60 115.2 L371.10 115.0 L371.60 115.1 L372.10 115.2 L372.60 114.9 L373.10 115.3 L373.60 115.3 L374.10 115.3 L374.60 115.2 L375.10 115.2 L375.60 115.1 L376.10 115.2 L376.60 115.1 L377.10 115.0 L377.60 114.6 L378.10 114.6 L378.60 114.4 L379.10 114.0 L379.60 113.7 L380.10 113.6 L380.60 112.9 L381.10 113.1 L381.60 112.8 L382.10 112.6 L382.60 112.3 L383.10 111.9 L383.60 111.7 L384.10 111.6 L384.60 111.3 L385.10 110.9 L385.60 110.3 L386.10 110.4 L386.60 110.3 L387.10 110.0 L387.60 109.5 L388.10 108.7 L388.60 108.8 L389.10 108.2 L389.60 107.3 L390.10 107.5 L390.60 106.8 L391.10 106.4 L391.60 106.2 L392.10 106.3 L392.60 105.8 L393.10 105.8 L393.60 106.0 L394.10 105.9 L394.60 105.6 L395.10 105.7 L395.60 105.6 L396.10 105.8 L396.60 106.2 L397.10 106.4 L397.60 106.7 L398.10 107.5 L398.60 107.8 L399.10 108.7 L399.60 109.6 L400.10 110.4 L400.60 111.2 L401.10 111.8 L401.60 112.3 L402.10 113.1 L402.60 113.5 L403.10 114.0 L403.60 115.1 L404.10 115.6 L404.60 116.3 L405.10 116.4 L405.60 117.1 L406.10 117.5 L406.60 117.9 L407.10 118.0 L407.60 118.8 L408.10 119.5 L408.60 119.7 L409.10 119.7 L409.60 120.0 L410.10 120.2 L410.60 119.4 L411.10 120.0 L411.60 120.1 L412.10 120.1 L412.60 120.3 L413.10 120.2 L413.60 120.1 L414.10 120.1 L414.60 120.2 L415.10 119.9 L415.60 120.0 L416.10 120.2 L416.60 120.4 L417.10 120.0 L417.60 120.0 L418.10 120.0 L418.60 120.3 L419.10 120.0 L419.60 120.3 L420.10 119.8 L420.60 120.0 L421.10 120.0 L421.60 120.2 L422.10 120.2 L422.60 119.7 L423.10 119.8 L423.60 120.1 L424.10 119.9 L424.60 119.7 L425.10 120.2 L425.60 120.1 L426.10 120.1 L426.60 119.9 L427.10 120.2 L427.60 120.0 L428.10 120.2 L428.60 119.8 L429.10 119.8 L429.60 120.0 L430.10 119.9 L430.60 120.1 L431.10 120.0 L431.60 119.6 L432.10 119.7 L432.60 119.5 L433.10 119.6 L433.60 119.2 L434.10 119.0 L434.60 119.2 L435.10 119.2 L435.60 119.0 L436.10 118.5 L436.60 118.4 L437.10 118.5 L437.60 118.0 L438.10 117.7 L438.60 117.8 L439.10 117.7 L439.60 117.3 L440.10 116.9 L440.60 116.7 L441.10 116.8 L441.60 116.1 L442.10 115.6 L442.60 114.9 L443.10 114.1 L443.60 113.0 L444.10 112.3 L444.60 111.2 L445.10 110.5 L445.60 109.4 L446.10 108.8 L446.60 107.6 L447.10 106.5 L447.60 105.6 L448.10 104.9 L448.60 104.4 L449.10 103.4 L449.60 103.2 L450.10 103.2 L450.60 104.1 L451.10 104.3 L451.60 104.9 L452.10 106.1 L452.60 107.3 L453.10 107.9 L453.60 108.8 L454.10 110.3 L454.60 111.5 L455.10 112.8 L455.60 113.9 L456.10 115.5 L456.60 116.3 L457.10 116.7 L457.60 117.4 L458.10 117.4 L458.60 118.5 L459.10 118.9 L459.60 119.4 L460.10 119.8 L460.60 119.8 L461.10 119.7 L461.60 120.1 L462.10 120.0 L462.60 120.1 L463.10 120.1 L463.60 120.2 L464.10 119.8 L464.60 120.6 L465.10 120.4 L465.60 120.6 L466.10 120.8 L466.60 120.5 L467.10 120.1 L467.60 120.3 L468.10 120.3 L468.60 120.4 L469.10 120.6 L469.60 120.2 L470.10 120.7 L470.60 120.3 L471.10 120.7 L471.60 120.6" fill="none" stroke="#4c3ce8" stroke-width="1.50" stroke-linejoin="round"/>
<path d="M287.60 139.4 L287.95 139.5 L288.30 139.3 L288.65 139.3 L289.00 139.0 L289.35 139.5 L289.70 140.1 L290.05 140.1 L290.40 139.9 L290.75 139.7 L291.10 139.3 L291.45 140.0 L291.80 139.5 L292.15 139.5 L292.50 139.5 L292.85 139.6 L293.20 139.4 L293.55 139.5 L293.90 139.2 L294.25 139.4 L294.60 140.2 L294.95 139.5 L295.30 139.5 L295.65 139.7 L296.00 139.8 L296.35 139.2 L296.70 139.5 L297.05 139.9 L297.40 139.7 L297.75 139.6 L298.10 140.1 L298.45 139.4 L298.80 139.6 L299.15 139.4 L299.50 140.0 L299.85 139.0 L300.20 139.4 L300.55 139.4 L300.90 139.8 L301.25 139.8 L301.60 140.0 L301.95 139.1 L302.30 139.8 L302.65 139.5 L303.00 139.4 L303.35 139.8 L303.70 139.4 L304.05 139.0 L304.40 139.5 L304.75 139.2 L305.10 139.4 L305.45 139.8 L305.80 139.7 L306.15 140.1 L306.50 139.6 L306.85 139.2 L307.20 139.4 L307.55 139.4 L307.90 139.3 L308.25 139.8 L308.60 139.5 L308.95 139.1 L309.30 139.9 L309.65 139.6 L310.00 139.8 L310.35 139.7 L310.70 139.9 L311.05 139.7 L311.40 140.0 L311.75 139.8 L312.10 139.8 L312.45 139.8 L312.80 139.2 L313.15 139.6 L313.50 139.6 L313.85 139.7 L314.20 139.3 L314.55 140.2 L314.90 139.7 L315.25 139.3 L315.60 139.2 L315.95 139.6 L316.30 139.7 L316.65 139.5 L317.00 139.7 L317.35 139.5 L317.70 139.9 L318.05 139.5 L318.40 139.7 L318.75 140.0 L319.10 140.5 L319.45 139.4 L319.80 139.6 L320.15 139.5 L320.50 139.9 L320.85 139.4 L321.20 139.6 L321.55 139.7 L321.90 139.4 L322.25 139.4 L322.60 139.6 L322.95 139.1 L323.30 139.3 L323.65 139.6 L324.00 139.8 L324.35 139.7 L324.70 139.2 L325.05 139.6 L325.40 140.0 L325.75 139.9 L326.10 139.7 L326.45 139.5 L326.80 139.9 L327.15 139.6 L327.50 139.4 L327.85 139.5 L328.20 140.2 L328.55 139.8 L328.90 140.1 L329.25 139.6 L329.60 140.0 L329.95 139.6 L330.30 139.7 L330.65 140.5 L331.00 140.0 L331.35 139.6 L331.70 139.7 L332.05 139.9 L332.40 140.1 L332.75 139.6 L333.10 139.2 L333.45 139.7 L333.80 139.8 L334.15 139.8 L334.50 140.2 L334.85 139.9 L335.20 140.0 L335.55 139.4 L335.90 140.0 L336.25 140.4 L336.60 140.0 L336.95 139.8 L337.30 139.8 L337.65 140.3 L338.00 139.5 L338.35 139.7 L338.70 139.9 L339.05 140.0 L339.40 139.6 L339.75 139.9 L340.10 139.7 L340.45 139.8 L340.80 139.7 L341.15 139.4 L341.50 139.8 L341.85 140.0 L342.20 139.5 L342.55 139.7 L342.90 140.0 L343.25 139.5 L343.60 139.8 L343.95 139.5 L344.30 140.1 L344.65 140.5 L345.00 140.4 L345.35 139.7 L345.70 140.0 L346.05 139.8 L346.40 139.8 L346.75 140.2 L347.10 139.4 L347.45 140.1 L347.80 139.8 L348.15 140.2 L348.50 139.8 L348.85 139.6 L349.20 139.9 L349.55 140.0 L349.90 139.8 L350.25 139.9 L350.60 139.6 L350.95 139.1 L351.30 140.1 L351.65 140.0 L352.00 139.8 L352.35 139.8 L352.70 140.1 L353.05 139.7 L353.40 139.6 L353.75 139.7 L354.10 140.1 L354.45 139.4 L354.80 140.1 L355.15 139.6 L355.50 139.5 L355.85 140.2 L356.20 139.8 L356.55 139.4 L356.90 139.7 L357.25 140.1 L357.60 140.2 L357.95 139.7 L358.30 139.9 L358.65 140.0 L359.00 139.6 L359.35 139.9 L359.70 139.8 L360.05 139.6 L360.40 139.6 L360.75 139.8 L361.10 139.8 L361.45 139.6 L361.80 139.7 L362.15 140.1 L362.50 139.9 L362.85 140.1 L363.20 140.2 L363.55 140.0 L363.90 140.5 L364.25 139.5 L364.60 140.0 L364.95 139.7 L365.30 140.4 L365.65 140.3 L366.00 139.2 L366.35 139.5 L366.70 140.0 L367.05 140.0 L367.40 140.0 L367.75 139.8 L368.10 139.9 L368.45 140.0 L368.80 139.8 L369.15 140.1 L369.50 139.1 L369.85 140.0 L370.20 139.5 L370.55 140.1 L370.90 139.7 L371.25 139.5 L371.60 139.9 L371.95 139.5 L372.30 139.5 L372.65 139.3 L373.00 139.8 L373.35 139.9 L373.70 140.1 L374.05 139.8 L374.40 140.1 L374.75 139.8 L375.10 139.8 L375.45 140.0 L375.80 140.1 L376.15 139.7 L376.50 139.7 L376.85 139.8 L377.20 139.8 L377.55 139.5 L377.90 140.1 L378.25 139.7 L378.60 139.9 L378.95 139.6 L379.30 139.9 L379.65 139.9 L380.00 139.7 L380.35 140.4 L380.70 139.9 L381.05 140.3 L381.40 140.1 L381.75 139.6 L382.10 139.7 L382.45 139.9 L382.80 139.8 L383.15 139.8 L383.50 139.7 L383.85 139.3 L384.20 139.7 L384.55 139.1 L384.90 139.9 L385.25 139.6 L385.60 139.6 L385.95 139.7 L386.30 139.9 L386.65 139.4 L387.00 139.3 L387.35 139.5 L387.70 139.2 L388.05 139.5 L388.40 140.3 L388.75 139.5 L389.10 140.0 L389.45 139.4 L389.80 139.9 L390.15 139.7 L390.50 139.7 L390.85 139.9 L391.20 140.3 L391.55 139.8 L391.90 139.8 L392.25 139.4 L392.60 139.9 L392.95 139.6 L393.30 140.0 L393.65 139.7 L394.00 140.2 L394.35 139.1 L394.70 139.6 L395.05 139.9 L395.40 139.6 L395.75 139.4 L396.10 139.6 L396.45 139.2 L396.80 139.7 L397.15 140.4 L397.50 140.0 L397.85 139.3 L398.20 139.3 L398.55 139.5 L398.90 139.9 L399.25 139.3 L399.60 139.4 L399.95 139.8 L400.30 139.8 L400.65 139.4 L401.00 139.2 L401.35 139.0 L401.70 139.3 L402.05 138.8 L402.40 139.7 L402.75 139.3 L403.10 139.6 L403.45 140.0 L403.80 139.8 L404.15 139.1 L404.50 139.7 L404.85 139.8 L405.20 139.2 L405.55 139.1 L405.90 139.3 L406.25 138.9 L406.60 139.8 L406.95 138.6 L407.30 139.0 L407.65 139.2 L408.00 139.2 L408.35 139.3 L408.70 139.4 L409.05 139.2 L409.40 139.6 L409.75 138.6 L410.10 139.2 L410.45 139.0 L410.80 139.2 L411.15 139.3 L411.50 138.9 L411.85 139.0 L412.20 139.4 L412.55 139.2 L412.90 138.9 L413.25 139.7 L413.60 139.8 L413.95 138.7 L414.30 139.2 L414.65 139.8 L415.00 139.3 L415.35 139.1 L415.70 139.0 L416.05 138.9 L416.40 139.0 L416.75 138.8 L417.10 139.2 L417.45 138.9 L417.80 138.8 L418.15 138.6 L418.50 138.9 L418.85 138.7 L419.20 138.9 L419.55 139.2 L419.90 139.0 L420.25 139.1 L420.60 139.0 L420.95 138.9 L421.30 138.8 L421.65 138.8 L422.00 139.1 L422.35 138.5 L422.70 139.2 L423.05 138.8 L423.40 138.6 L423.75 138.6 L424.10 138.5 L424.45 138.8 L424.80 138.5 L425.15 139.0 L425.50 138.4 L425.85 138.0 L426.20 138.4 L426.55 138.0 L426.90 138.5 L427.25 138.8 L427.60 138.7 L427.95 138.1 L428.30 138.2 L428.65 138.9 L429.00 138.4 L429.35 138.3 L429.70 138.5 L430.05 138.9 L430.40 138.5 L430.75 138.1 L431.10 138.1 L431.45 138.1 L431.80 137.7 L432.15 137.4 L432.50 137.6 L432.85 137.2 L433.20 137.3 L433.55 137.2 L433.90 137.7 L434.25 136.6 L434.60 136.7 L434.95 136.5 L435.30 136.5 L435.65 136.6 L436.00 135.9 L436.35 135.7 L436.70 135.3 L437.05 135.4 L437.40 135.7 L437.75 135.5 L438.10 135.0 L438.45 135.1 L438.80 135.2 L439.15 135.2 L439.50 134.7 L439.85 134.7 L440.20 134.1 L440.55 134.1 L440.90 134.7 L441.25 133.3 L441.60 133.4 L441.95 132.9 L442.30 131.8 L442.65 130.8 L443.00 130.1 L443.35 129.2 L443.70 128.4 L444.05 127.2 L444.40 127.0 L444.75 126.1 L445.10 125.5 L445.45 125.0 L445.80 124.5 L446.15 124.1 L446.50 123.2 L446.85 123.4 L447.20 123.4 L447.55 123.4 L447.90 123.7 L448.25 123.6 L448.60 124.1 L448.95 124.9 L449.30 124.8 L449.65 125.8 L450.00 126.1 L450.35 126.8 L450.70 127.1 L451.05 128.2 L451.40 129.3 L451.75 130.5 L452.10 131.4 L452.45 131.9 L452.80 132.7 L453.15 133.1 L453.50 134.0 L453.85 134.3 L454.20 135.1 L454.55 135.9 L454.90 135.8 L455.25 135.8 L455.60 136.3 L455.95 136.5 L456.30 136.8 L456.65 137.8 L457.00 137.6 L457.35 137.2 L457.70 138.0 L458.05 138.3 L458.40 137.9 L458.75 138.0 L459.10 138.2 L459.45 138.4 L459.80 138.6 L460.15 138.9 L460.50 139.0 L460.85 139.0 L461.20 139.1 L461.55 139.0 L461.90 138.3 L462.25 138.8 L462.60 138.9 L462.95 138.8 L463.30 139.2 L463.65 138.8 L464.00 138.7 L464.35 139.4 L464.70 139.2 L465.05 139.1 L465.40 139.4 L465.75 139.4 L466.10 139.2 L466.45 138.4 L466.80 139.0 L467.15 139.0 L467.50 138.9 L467.85 139.3 L468.20 139.6 L468.55 139.1 L468.90 138.9 L469.25 139.9 L469.60 139.1 L469.95 138.9 L470.30 139.4 L470.65 139.4 L471.00 139.1 L471.35 139.5 L471.70 139.2" fill="none" stroke="#1f78c0" stroke-width="1.30" stroke-linejoin="round"/>
<path d="M287.60 158.0 L287.85 158.6 L288.10 158.9 L288.35 158.2 L288.60 158.7 L288.85 158.5 L289.10 160.1 L289.35 158.1 L289.60 159.3 L289.85 158.5 L290.10 158.4 L290.35 158.9 L290.60 159.0 L290.85 159.2 L291.10 158.7 L291.35 158.2 L291.60 158.2 L291.85 158.8 L292.10 158.8 L292.35 159.3 L292.60 158.7 L292.85 159.1 L293.10 159.4 L293.35 158.6 L293.60 157.7 L293.85 157.9 L294.10 157.7 L294.35 159.4 L294.60 158.1 L294.85 159.2 L295.10 158.8 L295.35 159.5 L295.60 159.1 L295.85 158.5 L296.10 158.4 L296.35 158.6 L296.60 158.6 L296.85 158.2 L297.10 158.5 L297.35 159.4 L297.60 157.6 L297.85 158.7 L298.10 158.0 L298.35 158.6 L298.60 159.0 L298.85 158.5 L299.10 159.0 L299.35 157.7 L299.60 159.1 L299.85 158.2 L300.10 158.9 L300.35 158.6 L300.60 157.1 L300.85 158.1 L301.10 158.7 L301.35 159.4 L301.60 158.7 L301.85 158.7 L302.10 157.8 L302.35 159.3 L302.60 159.5 L302.85 158.6 L303.10 158.4 L303.35 157.7 L303.60 159.0 L303.85 160.0 L304.10 158.9 L304.35 159.2 L304.60 158.8 L304.85 158.0 L305.10 159.3 L305.35 157.9 L305.60 158.4 L305.85 158.7 L306.10 159.0 L306.35 158.8 L306.60 158.8 L306.85 158.1 L307.10 157.8 L307.35 158.6 L307.60 158.2 L307.85 157.8 L308.10 157.9 L308.35 158.3 L308.60 157.5 L308.85 157.8 L309.10 157.7 L309.35 158.7 L309.60 158.8 L309.85 159.7 L310.10 157.7 L310.35 158.2 L310.60 159.1 L310.85 158.4 L311.10 158.4 L311.35 159.5 L311.60 158.4 L311.85 157.9 L312.10 157.8 L312.35 158.7 L312.60 158.7 L312.85 157.8 L313.10 158.0 L313.35 158.9 L313.60 158.9 L313.85 158.2 L314.10 158.9 L314.35 158.9 L314.60 157.6 L314.85 158.4 L315.10 158.8 L315.35 158.3 L315.60 157.4 L315.85 158.4 L316.10 159.0 L316.35 159.4 L316.60 157.4 L316.85 160.0 L317.10 157.9 L317.35 159.1 L317.60 159.2 L317.85 159.1 L318.10 158.7 L318.35 157.9 L318.60 158.9 L318.85 158.2 L319.10 157.2 L319.35 160.1 L319.60 159.0 L319.85 159.6 L320.10 158.1 L320.35 159.4 L320.60 159.4 L320.85 159.4 L321.10 158.6 L321.35 157.9 L321.60 158.5 L321.85 157.4 L322.10 157.6 L322.35 158.6 L322.60 158.0 L322.85 158.5 L323.10 158.5 L323.35 159.6 L323.60 159.3 L323.85 158.6 L324.10 159.2 L324.35 158.1 L324.60 158.4 L324.85 159.1 L325.10 157.9 L325.35 158.4 L325.60 157.9 L325.85 158.6 L326.10 159.5 L326.35 158.2 L326.60 158.7 L326.85 158.1 L327.10 157.9 L327.35 157.9 L327.60 159.4 L327.85 159.9 L328.10 158.8 L328.35 158.2 L328.60 159.0 L328.85 158.4 L329.10 159.0 L329.35 158.7 L329.60 158.7 L329.85 158.9 L330.10 158.3 L330.35 158.4 L330.60 157.6 L330.85 158.3 L331.10 157.8 L331.35 158.5 L331.60 158.1 L331.85 158.6 L332.10 158.8 L332.35 157.8 L332.60 158.1 L332.85 158.1 L333.10 159.0 L333.35 159.5 L333.60 159.1 L333.85 158.4 L334.10 159.4 L334.35 157.8 L334.60 159.4 L334.85 158.2 L335.10 157.1 L335.35 160.0 L335.60 159.5 L335.85 158.0 L336.10 158.7 L336.35 158.5 L336.60 158.6 L336.85 157.8 L337.10 158.2 L337.35 158.8 L337.60 158.7 L337.85 159.3 L338.10 158.6 L338.35 159.9 L338.60 158.2 L338.85 158.7 L339.10 157.5 L339.35 157.9 L339.60 159.3 L339.85 158.1 L340.10 158.9 L340.35 158.6 L340.60 158.0 L340.85 158.4 L341.10 158.3 L341.35 158.3 L341.60 159.0 L341.85 159.0 L342.10 158.3 L342.35 158.1 L342.60 158.7 L342.85 158.5 L343.10 159.2 L343.35 160.1 L343.60 159.1 L343.85 158.6 L344.10 158.5 L344.35 158.1 L344.60 158.1 L344.85 158.0 L345.10 158.4 L345.35 158.4 L345.60 159.0 L345.85 158.4 L346.10 158.5 L346.35 157.9 L346.60 159.5 L346.85 158.9 L347.10 159.6 L347.35 159.0 L347.60 159.4 L347.85 158.5 L348.10 159.0 L348.35 160.1 L348.60 157.9 L348.85 159.2 L349.10 159.5 L349.35 158.8 L349.60 159.0 L349.85 159.3 L350.10 158.2 L350.35 158.8 L350.60 158.1 L350.85 158.2 L351.10 158.2 L351.35 158.5 L351.60 158.7 L351.85 158.9 L352.10 157.8 L352.35 159.7 L352.60 159.2 L352.85 159.0 L353.10 158.4 L353.35 158.5 L353.60 158.9 L353.85 158.8 L354.10 157.7 L354.35 159.0 L354.60 160.2 L354.85 157.6 L355.10 159.2 L355.35 158.8 L355.60 158.5 L355.85 159.4 L356.10 157.9 L356.35 158.7 L356.60 159.4 L356.85 158.5 L357.10 158.4 L357.35 158.7 L357.60 158.3 L357.85 159.5 L358.10 158.1 L358.35 159.1 L358.60 157.9 L358.85 159.0 L359.10 158.5 L359.35 157.1 L359.60 158.6 L359.85 158.0 L360.10 158.3 L360.35 159.5 L360.60 158.0 L360.85 158.0 L361.10 159.4 L361.35 158.7 L361.60 159.5 L361.85 158.8 L362.10 158.1 L362.35 158.6 L362.60 159.3 L362.85 159.1 L363.10 158.6 L363.35 158.6 L363.60 158.5 L363.85 158.3 L364.10 159.7 L364.35 158.6 L364.60 158.0 L364.85 158.3 L365.10 159.0 L365.35 159.0 L365.60 158.5 L365.85 158.2 L366.10 158.6 L366.35 157.7 L366.60 157.9 L366.85 159.1 L367.10 158.3 L367.35 158.8 L367.60 159.3 L367.85 159.0 L368.10 158.6 L368.35 159.8 L368.60 159.0 L368.85 158.4 L369.10 159.0 L369.35 158.8 L369.60 158.1 L369.85 158.6 L370.10 158.5 L370.35 157.5 L370.60 158.5 L370.85 158.4 L371.10 158.4 L371.35 157.7 L371.60 158.4 L371.85 158.6 L372.10 158.7 L372.35 158.0 L372.60 159.0 L372.85 157.9 L373.10 158.5 L373.35 159.3 L373.60 158.2 L373.85 158.3 L374.10 159.2 L374.35 158.4 L374.60 158.4 L374.85 158.7 L375.10 159.2 L375.35 157.4 L375.60 158.1 L375.85 158.0 L376.10 158.0 L376.35 158.1 L376.60 158.1 L376.85 158.8 L377.10 158.1 L377.35 158.7 L377.60 158.8 L377.85 158.2 L378.10 158.7 L378.35 159.5 L378.60 158.8 L378.85 158.2 L379.10 158.6 L379.35 158.1 L379.60 158.8 L379.85 159.1 L380.10 158.1 L380.35 158.5 L380.60 159.2 L380.85 158.3 L381.10 158.7 L381.35 158.0 L381.60 158.1 L381.85 158.3 L382.10 159.8 L382.35 158.3 L382.60 158.3 L382.85 158.2 L383.10 158.5 L383.35 158.9 L383.60 158.6 L383.85 159.7 L384.10 158.6 L384.35 159.3 L384.60 158.6 L384.85 158.8 L385.10 157.7 L385.35 158.4 L385.60 158.4 L385.85 158.3 L386.10 157.2 L386.35 158.9 L386.60 158.2 L386.85 158.1 L387.10 158.2 L387.35 158.2 L387.60 158.6 L387.85 157.6 L388.10 157.8 L388.35 158.4 L388.60 158.4 L388.85 158.0 L389.10 157.9 L389.35 157.8 L389.60 158.2 L389.85 158.8 L390.10 157.6 L390.35 159.0 L390.60 158.6 L390.85 157.9 L391.10 158.5 L391.35 157.3 L391.60 157.1 L391.85 157.3 L392.10 157.8 L392.35 157.8 L392.60 157.7 L392.85 158.0 L393.10 156.8 L393.35 158.2 L393.60 157.1 L393.85 157.5 L394.10 157.7 L394.35 157.2 L394.60 157.1 L394.85 157.3 L395.10 157.8 L395.35 158.1 L395.60 158.1 L395.85 157.2 L396.10 157.3 L396.35 157.2 L396.60 158.0 L396.85 156.6 L397.10 158.4 L397.35 157.4 L397.60 157.2 L397.85 157.8 L398.10 158.2 L398.35 157.8 L398.60 158.2 L398.85 157.6 L399.10 158.2 L399.35 158.2 L399.60 157.5 L399.85 158.3 L400.10 157.6 L400.35 157.5 L400.60 157.0 L400.85 157.3 L401.10 157.9 L401.35 156.7 L401.60 157.8 L401.85 157.6 L402.10 157.6 L402.35 156.2 L402.60 157.3 L402.85 157.7 L403.10 156.9 L403.35 157.4 L403.60 156.0 L403.85 157.7 L404.10 157.0 L404.35 157.8 L404.60 156.3 L404.85 157.7 L405.10 157.2 L405.35 157.7 L405.60 156.8 L405.85 156.9 L406.10 158.5 L406.35 156.8 L406.60 156.8 L406.85 157.1 L407.10 156.6 L407.35 157.9 L407.60 158.1 L407.85 156.8 L408.10 156.2 L408.35 157.8 L408.60 157.8 L408.85 157.6 L409.10 157.8 L409.35 156.6 L409.60 157.0 L409.85 156.3 L410.10 156.3 L410.35 157.6 L410.60 156.7 L410.85 158.3 L411.10 157.1 L411.35 156.7 L411.60 157.4 L411.85 158.0 L412.10 157.2 L412.35 156.3 L412.60 157.1 L412.85 157.7 L413.10 156.6 L413.35 156.5 L413.60 157.4 L413.85 156.9 L414.10 156.2 L414.35 156.6 L414.60 156.4 L414.85 156.9 L415.10 156.8 L415.35 157.4 L415.60 157.1 L415.85 155.8 L416.10 156.9 L416.35 157.1 L416.60 156.8 L416.85 157.1 L417.10 156.2 L417.35 155.9 L417.60 156.9 L417.85 155.8 L418.10 155.1 L418.35 156.8 L418.60 155.8 L418.85 156.0 L419.10 155.3 L419.35 155.3 L419.60 155.4 L419.85 155.8 L420.10 156.1 L420.35 154.6 L420.60 156.2 L420.85 155.1 L421.10 155.1 L421.35 156.0 L421.60 155.5 L421.85 154.7 L422.10 156.5 L422.35 155.0 L422.60 155.5 L422.85 155.4 L423.10 156.0 L423.35 155.0 L423.60 155.7 L423.85 154.7 L424.10 155.7 L424.35 154.6 L424.60 154.7 L424.85 155.9 L425.10 155.0 L425.35 154.8 L425.60 155.9 L425.85 154.8 L426.10 154.0 L426.35 154.8 L426.60 153.7 L426.85 154.8 L427.10 154.8 L427.35 153.7 L427.60 153.6 L427.85 153.9 L428.10 153.6 L428.35 152.9 L428.60 153.5 L428.85 151.8 L429.10 152.5 L429.35 152.2 L429.60 152.0 L429.85 152.0 L430.10 150.9 L430.35 151.6 L430.60 150.9 L430.85 150.3 L431.10 149.6 L431.35 149.5 L431.60 150.1 L431.85 149.1 L432.10 149.5 L432.35 149.8 L432.60 149.6 L432.85 149.7 L433.10 148.4 L433.35 147.8 L433.60 148.8 L433.85 148.2 L434.10 148.5 L434.35 147.7 L434.60 148.2 L434.85 147.8 L435.10 147.6 L435.35 147.3 L435.60 147.0 L435.85 146.8 L436.10 146.6 L436.35 146.8 L436.60 145.8 L436.85 146.9 L437.10 145.7 L437.35 146.1 L437.60 145.3 L437.85 145.0 L438.10 146.1 L438.35 144.5 L438.60 143.8 L438.85 143.8 L439.10 143.7 L439.35 144.8 L439.60 143.5 L439.85 143.6 L440.10 142.2 L440.35 142.7 L440.60 142.6 L440.85 143.0 L441.10 141.3 L441.35 141.8 L441.60 141.5 L441.85 140.6 L442.10 141.0 L442.35 140.8 L442.60 139.6 L442.85 141.1 L443.10 141.1 L443.35 140.7 L443.60 140.5 L443.85 142.3 L444.10 142.0 L444.35 142.9 L444.60 143.5 L444.85 143.0 L445.10 144.2 L445.35 144.2 L445.60 144.8 L445.85 145.3 L446.10 145.9 L446.35 147.0 L446.60 146.8 L446.85 147.1 L447.10 147.5 L447.35 148.3 L447.60 148.1 L447.85 148.8 L448.10 149.6 L448.35 149.8 L448.60 150.5 L448.85 150.7 L449.10 152.6 L449.35 152.7 L449.60 152.6 L449.85 152.7 L450.10 154.3 L450.35 153.6 L450.60 153.6 L450.85 154.0 L451.10 154.2 L451.35 155.0 L451.60 154.4 L451.85 155.7 L452.10 154.2 L452.35 155.3 L452.60 154.5 L452.85 156.2 L453.10 155.1 L453.35 155.4 L453.60 156.1 L453.85 156.4 L454.10 155.2 L454.35 155.8 L454.60 155.3 L454.85 156.3 L455.10 156.2 L455.35 156.2 L455.60 156.1 L455.85 156.3 L456.10 156.2 L456.35 157.0 L456.60 157.6 L456.85 155.8 L457.10 156.8 L457.35 156.7 L457.60 157.3 L457.85 156.5 L458.10 157.0 L458.35 156.5 L458.60 157.5 L458.85 157.2 L459.10 157.1 L459.35 157.4 L459.60 157.1 L459.85 156.4 L460.10 157.7 L460.35 157.5 L460.60 157.3 L460.85 157.9 L461.10 158.1 L461.35 156.9 L461.60 157.1 L461.85 158.4 L462.10 158.3 L462.35 157.1 L462.60 156.9 L462.85 157.3 L463.10 157.3 L463.35 156.8 L463.60 157.7 L463.85 157.0 L464.10 157.0 L464.35 158.2 L464.60 157.4 L464.85 157.7 L465.10 158.1 L465.35 158.2 L465.60 157.6 L465.85 157.8 L466.10 157.4 L466.35 158.8 L466.60 158.2 L466.85 157.3 L467.10 157.9 L467.35 158.3 L467.60 158.2 L467.85 158.9 L468.10 158.7 L468.35 157.6 L468.60 157.9 L468.85 157.3 L469.10 158.1 L469.35 158.1 L469.60 159.5 L469.85 158.0 L470.10 156.8 L470.35 157.6 L470.60 158.1 L470.85 157.3 L471.10 157.5 L471.35 157.8 L471.60 158.2" fill="none" stroke="#1a9646" stroke-width="1.30" stroke-linejoin="round"/>
<path d="M287.60 177.8 L287.85 177.3 L288.10 178.4 L288.35 177.5 L288.60 177.6 L288.85 177.0 L289.10 177.4 L289.35 178.3 L289.60 176.8 L289.85 177.9 L290.10 178.4 L290.35 177.7 L290.60 178.1 L290.85 177.2 L291.10 178.8 L291.35 178.6 L291.60 178.1 L291.85 176.8 L292.10 177.2 L292.35 178.5 L292.60 179.0 L292.85 178.1 L293.10 178.7 L293.35 177.5 L293.60 177.8 L293.85 177.9 L294.10 178.2 L294.35 176.9 L294.60 178.5 L294.85 178.8 L295.10 177.2 L295.35 177.0 L295.60 178.1 L295.85 177.5 L296.10 176.4 L296.35 178.4 L296.60 178.0 L296.85 177.6 L297.10 179.3 L297.35 178.0 L297.60 177.4 L297.85 178.0 L298.10 177.2 L298.35 177.4 L298.60 178.2 L298.85 177.5 L299.10 177.6 L299.35 179.0 L299.60 178.5 L299.85 178.4 L300.10 178.2 L300.35 178.2 L300.60 178.8 L300.85 177.9 L301.10 179.1 L301.35 177.3 L301.60 177.7 L301.85 177.0 L302.10 177.7 L302.35 178.2 L302.60 178.8 L302.85 177.5 L303.10 177.9 L303.35 177.7 L303.60 177.4 L303.85 177.1 L304.10 177.9 L304.35 176.8 L304.60 178.0 L304.85 177.9 L305.10 177.5 L305.35 177.2 L305.60 177.0 L305.85 179.1 L306.10 177.0 L306.35 178.9 L306.60 178.3 L306.85 177.7 L307.10 177.1 L307.35 178.6 L307.60 179.0 L307.85 177.3 L308.10 177.7 L308.35 178.6 L308.60 178.1 L308.85 179.2 L309.10 177.5 L309.35 178.2 L309.60 177.1 L309.85 179.3 L310.10 177.4 L310.35 176.5 L310.60 177.8 L310.85 177.8 L311.10 179.1 L311.35 177.7 L311.60 177.9 L311.85 178.3 L312.10 178.9 L312.35 177.9 L312.60 178.6 L312.85 178.2 L313.10 177.7 L313.35 177.9 L313.60 177.9 L313.85 177.3 L314.10 178.7 L314.35 177.0 L314.60 178.7 L314.85 178.5 L315.10 177.8 L315.35 177.4 L315.60 177.7 L315.85 178.2 L316.10 178.4 L316.35 178.1 L316.60 178.5 L316.85 177.5 L317.10 178.0 L317.35 176.9 L317.60 178.4 L317.85 178.0 L318.10 177.6 L318.35 178.6 L318.60 178.3 L318.85 176.1 L319.10 177.9 L319.35 176.9 L319.60 178.6 L319.85 179.5 L320.10 177.6 L320.35 177.9 L320.60 177.7 L320.85 178.1 L321.10 178.3 L321.35 178.7 L321.60 177.2 L321.85 178.9 L322.10 177.3 L322.35 178.1 L322.60 178.6 L322.85 178.4 L323.10 177.3 L323.35 177.4 L323.60 177.6 L323.85 177.9 L324.10 178.6 L324.35 177.0 L324.60 178.2 L324.85 178.3 L325.10 178.3 L325.35 178.2 L325.60 178.9 L325.85 178.2 L326.10 178.4 L326.35 178.3 L326.60 179.1 L326.85 176.7 L327.10 178.7 L327.35 177.7 L327.60 177.7 L327.85 177.3 L328.10 176.7 L328.35 177.6 L328.60 177.4 L328.85 178.2 L329.10 176.9 L329.35 178.8 L329.60 178.1 L329.85 177.7 L330.10 177.4 L330.35 177.4 L330.60 177.2 L330.85 177.5 L331.10 177.9 L331.35 177.8 L331.60 177.0 L331.85 177.7 L332.10 177.3 L332.35 178.0 L332.60 179.1 L332.85 178.3 L333.10 177.7 L333.35 176.8 L333.60 177.0 L333.85 176.8 L334.10 178.4 L334.35 177.4 L334.60 177.9 L334.85 177.5 L335.10 177.9 L335.35 178.8 L335.60 177.4 L335.85 177.7 L336.10 177.4 L336.35 178.4 L336.60 177.2 L336.85 177.1 L337.10 177.0 L337.35 177.0 L337.60 178.2 L337.85 179.5 L338.10 177.2 L338.35 178.5 L338.60 178.0 L338.85 177.2 L339.10 177.7 L339.35 177.7 L339.60 177.4 L339.85 179.1 L340.10 176.6 L340.35 178.1 L340.60 178.1 L340.85 177.5 L341.10 178.0 L341.35 178.4 L341.60 178.0 L341.85 178.1 L342.10 178.3 L342.35 176.6 L342.60 178.8 L342.85 179.4 L343.10 178.5 L343.35 178.5 L343.60 177.0 L343.85 177.8 L344.10 177.3 L344.35 177.5 L344.60 178.5 L344.85 177.3 L345.10 177.8 L345.35 176.6 L345.60 177.8 L345.85 177.9 L346.10 177.4 L346.35 177.4 L346.60 179.1 L346.85 177.1 L347.10 177.2 L347.35 177.3 L347.60 178.6 L347.85 179.2 L348.10 178.1 L348.35 177.4 L348.60 177.6 L348.85 178.6 L349.10 177.3 L349.35 178.8 L349.60 178.8 L349.85 177.9 L350.10 178.3 L350.35 178.3 L350.60 178.9 L350.85 177.2 L351.10 178.6 L351.35 177.6 L351.60 177.4 L351.85 177.9 L352.10 177.7 L352.35 177.2 L352.60 176.8 L352.85 177.2 L353.10 178.8 L353.35 179.1 L353.60 178.3 L353.85 178.6 L354.10 177.5 L354.35 177.8 L354.60 178.0 L354.85 177.2 L355.10 177.2 L355.35 177.9 L355.60 177.6 L355.85 177.2 L356.10 178.1 L356.35 177.7 L356.60 178.5 L356.85 177.8 L357.10 177.7 L357.35 177.9 L357.60 177.7 L357.85 177.4 L358.10 177.6 L358.35 178.3 L358.60 178.3 L358.85 178.7 L359.10 176.7 L359.35 177.6 L359.60 177.6 L359.85 178.0 L360.10 177.6 L360.35 177.5 L360.60 178.4 L360.85 178.0 L361.10 177.1 L361.35 178.7 L361.60 178.5 L361.85 177.5 L362.10 178.4 L362.35 177.4 L362.60 178.6 L362.85 177.7 L363.10 177.3 L363.35 177.6 L363.60 177.3 L363.85 178.0 L364.10 178.0 L364.35 177.9 L364.60 177.5 L364.85 175.5 L365.10 177.9 L365.35 176.6 L365.60 178.0 L365.85 178.6 L366.10 178.0 L366.35 177.6 L366.60 177.7 L366.85 177.7 L367.10 177.5 L367.35 177.5 L367.60 177.2 L367.85 178.6 L368.10 177.8 L368.35 178.5 L368.60 177.7 L368.85 177.9 L369.10 177.7 L369.35 178.1 L369.60 178.4 L369.85 178.0 L370.10 177.4 L370.35 177.3 L370.60 178.9 L370.85 177.6 L371.10 177.6 L371.35 178.8 L371.60 178.5 L371.85 178.2 L372.10 177.6 L372.35 179.3 L372.60 178.1 L372.85 178.2 L373.10 177.7 L373.35 176.9 L373.60 176.9 L373.85 178.1 L374.10 178.1 L374.35 177.7 L374.60 177.1 L374.85 176.9 L375.10 177.6 L375.35 176.9 L375.60 178.4 L375.85 178.6 L376.10 179.6 L376.35 178.4 L376.60 177.4 L376.85 177.2 L377.10 175.6 L377.35 177.4 L377.60 177.7 L377.85 178.4 L378.10 178.2 L378.35 178.2 L378.60 177.9 L378.85 178.2 L379.10 178.7 L379.35 177.1 L379.60 177.5 L379.85 176.9 L380.10 178.9 L380.35 178.6 L380.60 178.3 L380.85 177.0 L381.10 177.9 L381.35 177.6 L381.60 177.8 L381.85 177.7 L382.10 178.1 L382.35 177.5 L382.60 178.3 L382.85 177.9 L383.10 177.6 L383.35 177.7 L383.60 177.4 L383.85 178.2 L384.10 177.5 L384.35 177.9 L384.60 177.4 L384.85 176.7 L385.10 178.3 L385.35 177.0 L385.60 178.1 L385.85 177.9 L386.10 176.5 L386.35 177.0 L386.60 177.3 L386.85 177.1 L387.10 176.8 L387.35 178.0 L387.60 177.4 L387.85 177.8 L388.10 177.2 L388.35 177.7 L388.60 177.0 L388.85 177.5 L389.10 177.8 L389.35 177.5 L389.60 177.1 L389.85 176.7 L390.10 177.5 L390.35 177.6 L390.60 177.2 L390.85 176.9 L391.10 177.7 L391.35 178.9 L391.60 177.1 L391.85 177.5 L392.10 177.5 L392.35 175.6 L392.60 177.3 L392.85 176.8 L393.10 178.1 L393.35 177.1 L393.60 176.7 L393.85 177.1 L394.10 177.3 L394.35 176.8 L394.60 177.1 L394.85 176.3 L395.10 177.0 L395.35 177.6 L395.60 178.4 L395.85 177.5 L396.10 177.2 L396.35 177.8 L396.60 177.7 L396.85 178.1 L397.10 177.7 L397.35 176.9 L397.60 177.1 L397.85 177.0 L398.10 177.1 L398.35 177.0 L398.60 176.3 L398.85 175.5 L399.10 176.4 L399.35 175.5 L399.60 176.8 L399.85 176.7 L400.10 175.6 L400.35 177.1 L400.60 177.2 L400.85 176.6 L401.10 177.6 L401.35 177.7 L401.60 175.7 L401.85 177.1 L402.10 176.7 L402.35 176.6 L402.60 176.9 L402.85 175.7 L403.10 175.8 L403.35 175.6 L403.60 175.6 L403.85 175.9 L404.10 175.0 L404.35 175.2 L404.60 176.2 L404.85 175.7 L405.10 175.9 L405.35 174.3 L405.60 175.0 L405.85 175.1 L406.10 175.4 L406.35 174.9 L406.60 175.8 L406.85 175.1 L407.10 175.0 L407.35 175.0 L407.60 175.3 L407.85 174.5 L408.10 175.4 L408.35 174.9 L408.60 174.6 L408.85 174.5 L409.10 174.7 L409.35 174.9 L409.60 174.8 L409.85 174.3 L410.10 174.5 L410.35 173.9 L410.60 174.5 L410.85 173.6 L411.10 172.1 L411.35 174.2 L411.60 173.3 L411.85 172.3 L412.10 172.8 L412.35 172.2 L412.60 174.0 L412.85 172.8 L413.10 171.3 L413.35 172.5 L413.60 171.8 L413.85 173.1 L414.10 171.0 L414.35 170.1 L414.60 171.4 L414.85 171.0 L415.10 170.8 L415.35 169.5 L415.60 171.0 L415.85 171.7 L416.10 169.2 L416.35 171.0 L416.60 169.7 L416.85 171.5 L417.10 170.1 L417.35 169.5 L417.60 170.2 L417.85 169.7 L418.10 168.8 L418.35 169.5 L418.60 168.5 L418.85 167.6 L419.10 169.9 L419.35 168.2 L419.60 167.9 L419.85 168.4 L420.10 167.0 L420.35 167.0 L420.60 167.4 L420.85 167.3 L421.10 167.5 L421.35 168.1 L421.60 166.9 L421.85 167.4 L422.10 167.3 L422.35 166.1 L422.60 166.8 L422.85 165.9 L423.10 167.1 L423.35 166.5 L423.60 166.1 L423.85 165.1 L424.10 165.9 L424.35 165.2 L424.60 166.0 L424.85 165.3 L425.10 164.7 L425.35 165.7 L425.60 165.4 L425.85 164.4 L426.10 165.3 L426.35 164.2 L426.60 164.1 L426.85 164.2 L427.10 163.5 L427.35 163.5 L427.60 163.5 L427.85 164.4 L428.10 164.2 L428.35 162.8 L428.60 163.8 L428.85 162.5 L429.10 162.5 L429.35 162.6 L429.60 161.9 L429.85 163.0 L430.10 161.3 L430.35 160.1 L430.60 161.4 L430.85 160.1 L431.10 159.8 L431.35 157.8 L431.60 160.2 L431.85 159.8 L432.10 159.6 L432.35 159.5 L432.60 159.7 L432.85 158.4 L433.10 158.9 L433.35 157.6 L433.60 157.8 L433.85 158.6 L434.10 158.1 L434.35 156.9 L434.60 158.0 L434.85 157.8 L435.10 157.5 L435.35 158.5 L435.60 158.2 L435.85 157.8 L436.10 158.5 L436.35 160.7 L436.60 159.0 L436.85 160.6 L437.10 161.4 L437.35 161.9 L437.60 161.2 L437.85 162.3 L438.10 163.1 L438.35 164.0 L438.60 163.5 L438.85 163.6 L439.10 165.5 L439.35 165.9 L439.60 165.8 L439.85 165.5 L440.10 166.5 L440.35 166.7 L440.60 167.6 L440.85 166.6 L441.10 167.9 L441.35 168.1 L441.60 167.8 L441.85 169.0 L442.10 169.2 L442.35 169.3 L442.60 170.1 L442.85 169.2 L443.10 170.4 L443.35 171.0 L443.60 171.1 L443.85 171.8 L444.10 170.5 L444.35 170.5 L444.60 171.9 L444.85 172.2 L445.10 173.5 L445.35 172.7 L445.60 171.9 L445.85 173.2 L446.10 172.3 L446.35 172.1 L446.60 174.9 L446.85 173.6 L447.10 174.0 L447.35 174.0 L447.60 175.0 L447.85 174.1 L448.10 174.9 L448.35 173.6 L448.60 173.4 L448.85 175.4 L449.10 175.6 L449.35 175.0 L449.60 175.0 L449.85 175.0 L450.10 174.6 L450.35 176.1 L450.60 175.6 L450.85 175.6 L451.10 175.6 L451.35 176.1 L451.60 175.8 L451.85 176.1 L452.10 174.9 L452.35 176.1 L452.60 177.2 L452.85 175.5 L453.10 175.8 L453.35 176.6 L453.60 176.7 L453.85 176.5 L454.10 175.1 L454.35 176.6 L454.60 175.5 L454.85 175.8 L455.10 176.8 L455.35 176.3 L455.60 177.0 L455.85 178.6 L456.10 177.1 L456.35 177.1 L456.60 176.1 L456.85 176.3 L457.10 176.1 L457.35 176.5 L457.60 176.1 L457.85 176.5 L458.10 176.8 L458.35 176.3 L458.60 176.1 L458.85 176.2 L459.10 177.4 L459.35 177.2 L459.60 177.8 L459.85 177.9 L460.10 177.0 L460.35 177.7 L460.60 176.3 L460.85 178.8 L461.10 178.1 L461.35 177.2 L461.60 176.6 L461.85 177.7 L462.10 176.2 L462.35 177.0 L462.60 178.0 L462.85 177.6 L463.10 177.3 L463.35 178.2 L463.60 177.0 L463.85 177.8 L464.10 177.4 L464.35 177.2 L464.60 178.0 L464.85 177.1 L465.10 179.0 L465.35 177.4 L465.60 179.1 L465.85 177.2 L466.10 178.3 L466.35 177.1 L466.60 177.1 L466.85 178.1 L467.10 178.4 L467.35 177.2 L467.60 178.8 L467.85 177.5 L468.10 178.1 L468.35 178.3 L468.60 178.5 L468.85 176.9 L469.10 179.2 L469.35 178.5 L469.60 177.9 L469.85 177.5 L470.10 177.1 L470.35 177.3 L470.60 178.5 L470.85 178.0 L471.10 177.5 L471.35 177.9 L471.60 179.2" fill="none" stroke="#2e9e2e" stroke-width="1.30" stroke-linejoin="round"/>
<path d="M287.60 196.1 L287.80 195.6 L288.00 199.4 L288.20 197.6 L288.40 197.5 L288.60 195.7 L288.80 194.1 L289.00 195.3 L289.20 196.0 L289.40 195.7 L289.60 197.8 L289.80 197.9 L290.00 196.5 L290.20 197.7 L290.40 196.3 L290.60 194.1 L290.80 196.4 L291.00 195.3 L291.20 196.3 L291.40 196.5 L291.60 195.1 L291.80 194.9 L292.00 197.5 L292.20 196.0 L292.40 195.6 L292.60 196.4 L292.80 196.1 L293.00 195.0 L293.20 199.3 L293.40 200.7 L293.60 196.3 L293.80 199.0 L294.00 197.3 L294.20 198.9 L294.40 196.3 L294.60 198.7 L294.80 196.6 L295.00 196.6 L295.20 197.1 L295.40 197.2 L295.60 196.7 L295.80 197.0 L296.00 198.2 L296.20 195.2 L296.40 195.6 L296.60 198.5 L296.80 197.3 L297.00 199.0 L297.20 196.1 L297.40 198.2 L297.60 196.9 L297.80 198.9 L298.00 194.7 L298.20 197.3 L298.40 195.7 L298.60 195.0 L298.80 195.9 L299.00 198.2 L299.20 196.7 L299.40 195.0 L299.60 198.6 L299.80 198.1 L300.00 198.5 L300.20 194.5 L300.40 195.1 L300.60 198.0 L300.80 196.7 L301.00 196.0 L301.20 196.8 L301.40 199.1 L301.60 195.6 L301.80 194.1 L302.00 195.1 L302.20 196.3 L302.40 196.7 L302.60 198.3 L302.80 196.2 L303.00 196.1 L303.20 198.2 L303.40 195.8 L303.60 196.0 L303.80 197.3 L304.00 199.5 L304.20 198.4 L304.40 195.2 L304.60 194.2 L304.80 195.5 L305.00 194.3 L305.20 196.3 L305.40 195.6 L305.60 199.0 L305.80 195.2 L306.00 196.7 L306.20 194.8 L306.40 195.2 L306.60 196.7 L306.80 196.5 L307.00 198.4 L307.20 195.9 L307.40 198.0 L307.60 195.4 L307.80 196.1 L308.00 194.7 L308.20 194.9 L308.40 197.6 L308.60 198.9 L308.80 197.1 L309.00 198.1 L309.20 198.2 L309.40 196.8 L309.60 195.3 L309.80 198.7 L310.00 196.7 L310.20 196.5 L310.40 196.0 L310.60 196.9 L310.80 196.8 L311.00 195.5 L311.20 198.9 L311.40 196.5 L311.60 196.9 L311.80 198.5 L312.00 198.3 L312.20 196.6 L312.40 197.2 L312.60 195.3 L312.80 195.9 L313.00 193.3 L313.20 198.5 L313.40 195.8 L313.60 197.8 L313.80 196.2 L314.00 195.7 L314.20 196.3 L314.40 197.4 L314.60 196.8 L314.80 199.7 L315.00 197.3 L315.20 197.6 L315.40 195.0 L315.60 196.7 L315.80 197.9 L316.00 196.9 L316.20 196.5 L316.40 196.7 L316.60 197.2 L316.80 196.0 L317.00 195.7 L317.20 196.2 L317.40 197.4 L317.60 194.0 L317.80 195.9 L318.00 198.2 L318.20 193.5 L318.40 195.9 L318.60 197.1 L318.80 195.1 L319.00 200.8 L319.20 192.7 L319.40 198.4 L319.60 200.8 L319.80 197.6 L320.00 196.6 L320.20 197.7 L320.40 194.8 L320.60 197.5 L320.80 193.3 L321.00 196.2 L321.20 198.3 L321.40 194.8 L321.60 196.0 L321.80 196.3 L322.00 195.7 L322.20 198.1 L322.40 196.6 L322.60 195.2 L322.80 198.3 L323.00 195.2 L323.20 196.7 L323.40 195.9 L323.60 195.8 L323.80 198.2 L324.00 195.8 L324.20 198.1 L324.40 194.0 L324.60 197.2 L324.80 195.6 L325.00 195.5 L325.20 193.5 L325.40 196.8 L325.60 197.3 L325.80 197.5 L326.00 198.2 L326.20 196.9 L326.40 196.7 L326.60 195.5 L326.80 195.0 L327.00 198.1 L327.20 196.7 L327.40 195.0 L327.60 196.3 L327.80 198.7 L328.00 196.0 L328.20 195.6 L328.40 198.4 L328.60 195.5 L328.80 195.2 L329.00 195.3 L329.20 192.7 L329.40 196.6 L329.60 194.7 L329.80 194.1 L330.00 195.1 L330.20 197.1 L330.40 196.1 L330.60 196.0 L330.80 194.0 L331.00 195.0 L331.20 194.5 L331.40 196.6 L331.60 196.7 L331.80 195.9 L332.00 198.4 L332.20 196.3 L332.40 197.1 L332.60 194.7 L332.80 195.6 L333.00 197.1 L333.20 196.0 L333.40 193.5 L333.60 196.9 L333.80 196.3 L334.00 197.2 L334.20 196.4 L334.40 193.5 L334.60 193.8 L334.80 197.6 L335.00 195.0 L335.20 193.7 L335.40 196.3 L335.60 195.0 L335.80 193.0 L336.00 192.7 L336.20 192.8 L336.40 196.6 L336.60 195.3 L336.80 194.9 L337.00 196.0 L337.20 195.3 L337.40 193.0 L337.60 195.6 L337.80 194.7 L338.00 194.2 L338.20 195.2 L338.40 195.1 L338.60 195.7 L338.80 193.8 L339.00 195.3 L339.20 199.1 L339.40 195.7 L339.60 195.0 L339.80 196.0 L340.00 197.4 L340.20 197.0 L340.40 196.0 L340.60 197.1 L340.80 195.6 L341.00 194.1 L341.20 195.1 L341.40 196.5 L341.60 196.4 L341.80 196.7 L342.00 195.3 L342.20 196.5 L342.40 196.2 L342.60 197.2 L342.80 193.4 L343.00 193.3 L343.20 197.2 L343.40 194.2 L343.60 196.4 L343.80 195.5 L344.00 195.0 L344.20 194.5 L344.40 199.1 L344.60 192.4 L344.80 197.9 L345.00 199.3 L345.20 197.1 L345.40 195.4 L345.60 196.9 L345.80 199.1 L346.00 194.5 L346.20 194.5 L346.40 196.2 L346.60 195.8 L346.80 197.0 L347.00 198.3 L347.20 193.4 L347.40 196.4 L347.60 195.3 L347.80 195.2 L348.00 196.4 L348.20 197.3 L348.40 193.6 L348.60 198.4 L348.80 197.6 L349.00 194.8 L349.20 198.2 L349.40 195.4 L349.60 195.9 L349.80 196.2 L350.00 195.1 L350.20 196.2 L350.40 196.2 L350.60 195.7 L350.80 199.2 L351.00 193.4 L351.20 196.3 L351.40 197.2 L351.60 197.0 L351.80 195.6 L352.00 199.8 L352.20 196.5 L352.40 199.0 L352.60 196.8 L352.80 196.5 L353.00 195.7 L353.20 197.8 L353.40 198.7 L353.60 196.8 L353.80 196.4 L354.00 196.6 L354.20 198.1 L354.40 197.5 L354.60 193.9 L354.80 195.2 L355.00 196.4 L355.20 195.0 L355.40 196.0 L355.60 195.5 L355.80 196.5 L356.00 196.8 L356.20 196.7 L356.40 197.3 L356.60 199.0 L356.80 196.2 L357.00 201.1 L357.20 196.7 L357.40 196.1 L357.60 195.9 L357.80 192.3 L358.00 195.4 L358.20 197.1 L358.40 198.7 L358.60 193.8 L358.80 199.2 L359.00 195.3 L359.20 196.7 L359.40 192.5 L359.60 195.7 L359.80 195.7 L360.00 197.3 L360.20 196.2 L360.40 193.8 L360.60 197.0 L360.80 197.2 L361.00 197.9 L361.20 197.6 L361.40 197.2 L361.60 196.3 L361.80 193.9 L362.00 194.2 L362.20 198.1 L362.40 198.0 L362.60 196.6 L362.80 196.3 L363.00 196.7 L363.20 195.3 L363.40 195.2 L363.60 196.5 L363.80 199.6 L364.00 196.8 L364.20 195.0 L364.40 194.7 L364.60 194.0 L364.80 197.5 L365.00 198.3 L365.20 195.8 L365.40 194.6 L365.60 195.8 L365.80 194.8 L366.00 197.9 L366.20 197.1 L366.40 199.3 L366.60 195.2 L366.80 196.3 L367.00 198.2 L367.20 196.0 L367.40 194.8 L367.60 195.2 L367.80 195.8 L368.00 196.6 L368.20 196.1 L368.40 198.0 L368.60 197.5 L368.80 196.6 L369.00 196.9 L369.20 195.9 L369.40 198.6 L369.60 198.0 L369.80 196.3 L370.00 197.3 L370.20 196.2 L370.40 193.9 L370.60 195.1 L370.80 197.2 L371.00 196.6 L371.20 198.6 L371.40 196.8 L371.60 197.8 L371.80 198.2 L372.00 197.4 L372.20 195.1 L372.40 196.0 L372.60 196.5 L372.80 195.6 L373.00 195.4 L373.20 197.5 L373.40 195.2 L373.60 198.5 L373.80 196.5 L374.00 195.1 L374.20 196.8 L374.40 194.7 L374.60 196.8 L374.80 195.4 L375.00 198.4 L375.20 197.6 L375.40 197.3 L375.60 196.4 L375.80 194.7 L376.00 196.0 L376.20 195.2 L376.40 197.2 L376.60 195.9 L376.80 198.8 L377.00 197.8 L377.20 197.6 L377.40 196.3 L377.60 196.7 L377.80 197.1 L378.00 196.9 L378.20 195.2 L378.40 197.2 L378.60 199.7 L378.80 195.8 L379.00 195.8 L379.20 195.4 L379.40 194.0 L379.60 198.5 L379.80 196.5 L380.00 196.9 L380.20 198.9 L380.40 199.8 L380.60 194.7 L380.80 198.1 L381.00 196.9 L381.20 196.6 L381.40 197.1 L381.60 195.4 L381.80 198.3 L382.00 197.5 L382.20 196.3 L382.40 197.1 L382.60 198.2 L382.80 196.7 L383.00 196.3 L383.20 198.1 L383.40 197.2 L383.60 196.0 L383.80 195.0 L384.00 195.5 L384.20 194.6 L384.40 195.4 L384.60 195.6 L384.80 193.4 L385.00 195.9 L385.20 195.9 L385.40 194.2 L385.60 194.8 L385.80 197.0 L386.00 195.2 L386.20 194.7 L386.40 192.9 L386.60 194.5 L386.80 197.2 L387.00 196.9 L387.20 195.9 L387.40 193.7 L387.60 194.2 L387.80 193.7 L388.00 194.6 L388.20 192.1 L388.40 195.8 L388.60 196.3 L388.80 195.6 L389.00 195.2 L389.20 193.9 L389.40 193.6 L389.60 193.9 L389.80 196.1 L390.00 195.3 L390.20 194.4 L390.40 196.8 L390.60 194.3 L390.80 197.5 L391.00 195.0 L391.20 194.3 L391.40 196.1 L391.60 193.7 L391.80 194.0 L392.00 193.2 L392.20 194.8 L392.40 194.5 L392.60 193.1 L392.80 194.1 L393.00 198.0 L393.20 193.8 L393.40 193.6 L393.60 198.0 L393.80 195.7 L394.00 194.8 L394.20 191.7 L394.40 193.4 L394.60 195.0 L394.80 195.7 L395.00 196.9 L395.20 192.6 L395.40 195.5 L395.60 193.5 L395.80 196.0 L396.00 194.4 L396.20 196.2 L396.40 193.3 L396.60 191.8 L396.80 193.2 L397.00 194.3 L397.20 194.2 L397.40 195.7 L397.60 196.0 L397.80 195.5 L398.00 192.3 L398.20 193.8 L398.40 192.8 L398.60 195.5 L398.80 192.7 L399.00 193.8 L399.20 193.8 L399.40 191.0 L399.60 193.1 L399.80 192.4 L400.00 194.4 L400.20 193.4 L400.40 192.5 L400.60 194.0 L400.80 195.2 L401.00 192.7 L401.20 191.7 L401.40 194.9 L401.60 192.4 L401.80 193.0 L402.00 193.4 L402.20 196.1 L402.40 191.0 L402.60 192.6 L402.80 192.5 L403.00 194.1 L403.20 192.5 L403.40 192.5 L403.60 193.7 L403.80 192.2 L404.00 193.3 L404.20 192.7 L404.40 192.2 L404.60 193.1 L404.80 193.9 L405.00 192.6 L405.20 192.7 L405.40 193.0 L405.60 191.9 L405.80 189.5 L406.00 191.4 L406.20 193.7 L406.40 191.1 L406.60 190.8 L406.80 191.2 L407.00 192.8 L407.20 190.3 L407.40 193.7 L407.60 192.5 L407.80 191.8 L408.00 193.0 L408.20 192.6 L408.40 190.5 L408.60 194.5 L408.80 190.3 L409.00 192.1 L409.20 193.1 L409.40 188.1 L409.60 190.0 L409.80 191.8 L410.00 194.2 L410.20 189.8 L410.40 192.2 L410.60 191.8 L410.80 192.4 L411.00 189.1 L411.20 190.9 L411.40 189.8 L411.60 190.6 L411.80 191.1 L412.00 192.1 L412.20 189.7 L412.40 190.2 L412.60 188.3 L412.80 189.7 L413.00 188.4 L413.20 189.5 L413.40 188.7 L413.60 187.3 L413.80 191.2 L414.00 191.0 L414.20 187.7 L414.40 188.8 L414.60 188.1 L414.80 190.4 L415.00 188.2 L415.20 187.5 L415.40 189.0 L415.60 187.7 L415.80 186.7 L416.00 188.3 L416.20 185.5 L416.40 188.2 L416.60 186.7 L416.80 188.0 L417.00 186.4 L417.20 187.8 L417.40 184.9 L417.60 187.2 L417.80 185.5 L418.00 185.2 L418.20 186.1 L418.40 186.9 L418.60 183.1 L418.80 185.9 L419.00 183.0 L419.20 186.2 L419.40 182.2 L419.60 183.4 L419.80 182.1 L420.00 186.4 L420.20 181.8 L420.40 183.9 L420.60 182.7 L420.80 180.5 L421.00 183.6 L421.20 183.7 L421.40 183.1 L421.60 184.5 L421.80 182.4 L422.00 182.8 L422.20 181.2 L422.40 182.4 L422.60 183.7 L422.80 181.7 L423.00 181.1 L423.20 180.7 L423.40 180.3 L423.60 183.5 L423.80 179.7 L424.00 179.4 L424.20 179.9 L424.40 179.9 L424.60 183.2 L424.80 177.6 L425.00 180.9 L425.20 181.0 L425.40 178.8 L425.60 178.9 L425.80 180.7 L426.00 182.4 L426.20 179.2 L426.40 177.5 L426.60 181.4 L426.80 182.1 L427.00 179.2 L427.20 176.8 L427.40 181.4 L427.60 179.4 L427.80 181.6 L428.00 179.1 L428.20 179.3 L428.40 179.5 L428.60 182.5 L428.80 181.7 L429.00 176.5 L429.20 178.3 L429.40 181.7 L429.60 178.1 L429.80 178.4 L430.00 179.7 L430.20 179.3 L430.40 180.0 L430.60 178.6 L430.80 180.4 L431.00 178.8 L431.20 179.9 L431.40 177.8 L431.60 179.8 L431.80 179.0 L432.00 180.3 L432.20 179.9 L432.40 179.8 L432.60 180.0 L432.80 178.9 L433.00 180.5 L433.20 179.7 L433.40 180.9 L433.60 180.9 L433.80 179.8 L434.00 179.8 L434.20 180.9 L434.40 180.6 L434.60 180.1 L434.80 179.2 L435.00 177.0 L435.20 182.4 L435.40 182.5 L435.60 182.2 L435.80 180.5 L436.00 182.6 L436.20 181.9 L436.40 182.8 L436.60 182.4 L436.80 181.5 L437.00 182.9 L437.20 180.0 L437.40 182.3 L437.60 181.6 L437.80 184.7 L438.00 184.8 L438.20 185.1 L438.40 185.7 L438.60 184.7 L438.80 185.8 L439.00 185.4 L439.20 186.8 L439.40 186.7 L439.60 185.4 L439.80 187.5 L440.00 187.0 L440.20 186.9 L440.40 186.6 L440.60 190.3 L440.80 188.5 L441.00 188.5 L441.20 186.8 L441.40 189.0 L441.60 188.9 L441.80 187.1 L442.00 190.5 L442.20 190.5 L442.40 189.5 L442.60 191.1 L442.80 189.9 L443.00 191.7 L443.20 188.9 L443.40 191.1 L443.60 194.7 L443.80 193.3 L444.00 192.7 L444.20 192.5 L444.40 190.8 L444.60 192.9 L444.80 192.8 L445.00 190.8 L445.20 194.0 L445.40 194.6 L445.60 194.2 L445.80 191.4 L446.00 191.8 L446.20 191.8 L446.40 195.5 L446.60 194.8 L446.80 194.4 L447.00 192.3 L447.20 192.4 L447.40 194.2 L447.60 194.2 L447.80 193.0 L448.00 194.0 L448.20 194.7 L448.40 194.3 L448.60 194.0 L448.80 191.5 L449.00 195.1 L449.20 194.6 L449.40 194.0 L449.60 192.6 L449.80 194.7 L450.00 196.3 L450.20 195.0 L450.40 196.3 L450.60 194.3 L450.80 194.8 L451.00 196.2 L451.20 194.0 L451.40 193.0 L451.60 195.2 L451.80 197.3 L452.00 195.9 L452.20 198.1 L452.40 195.3 L452.60 195.2 L452.80 193.7 L453.00 195.1 L453.20 197.6 L453.40 196.3 L453.60 196.4 L453.80 197.2 L454.00 195.9 L454.20 196.1 L454.40 196.4 L454.60 197.4 L454.80 196.5 L455.00 197.2 L455.20 196.7 L455.40 195.5 L455.60 195.7 L455.80 195.6 L456.00 197.3 L456.20 194.2 L456.40 196.6 L456.60 199.6 L456.80 195.5 L457.00 195.5 L457.20 196.5 L457.40 198.4 L457.60 196.3 L457.80 198.0 L458.00 196.5 L458.20 196.6 L458.40 200.9 L458.60 195.6 L458.80 194.5 L459.00 195.6 L459.20 197.8 L459.40 197.5 L459.60 197.6 L459.80 199.0 L460.00 195.5 L460.20 198.1 L460.40 197.0 L460.60 196.8 L460.80 194.7 L461.00 196.7 L461.20 196.3 L461.40 197.4 L461.60 195.9 L461.80 197.1 L462.00 197.3 L462.20 195.8 L462.40 197.1 L462.60 195.8 L462.80 198.3 L463.00 193.7 L463.20 197.0 L463.40 194.3 L463.60 196.5 L463.80 199.6 L464.00 196.4 L464.20 197.5 L464.40 195.7 L464.60 199.5 L464.80 198.6 L465.00 198.1 L465.20 195.4 L465.40 195.6 L465.60 199.6 L465.80 197.3 L466.00 197.5 L466.20 197.1 L466.40 195.4 L466.60 197.0 L466.80 196.5 L467.00 197.5 L467.20 194.1 L467.40 197.9 L467.60 196.0 L467.80 197.9 L468.00 198.3 L468.20 196.8 L468.40 197.2 L468.60 196.7 L468.80 192.1 L469.00 196.0 L469.20 195.8 L469.40 195.0 L469.60 196.2 L469.80 194.0 L470.00 194.5 L470.20 195.6 L470.40 197.4 L470.60 194.1 L470.80 193.4 L471.00 198.0 L471.20 193.7 L471.40 197.5 L471.60 194.8" fill="none" stroke="#a47a14" stroke-width="1.30" stroke-linejoin="round"/>
<path d="M287.60 219.0 L287.80 218.1 L288.00 215.7 L288.20 214.4 L288.40 211.9 L288.60 217.0 L288.80 214.1 L289.00 216.6 L289.20 214.8 L289.40 213.6 L289.60 211.3 L289.80 217.0 L290.00 218.0 L290.20 214.6 L290.40 216.6 L290.60 218.5 L290.80 213.3 L291.00 212.7 L291.20 211.3 L291.40 218.7 L291.60 215.4 L291.80 214.6 L292.00 211.3 L292.20 214.6 L292.40 216.5 L292.60 213.7 L292.80 214.7 L293.00 217.7 L293.20 212.3 L293.40 214.5 L293.60 216.2 L293.80 213.9 L294.00 213.1 L294.20 218.7 L294.40 214.2 L294.60 215.8 L294.80 215.1 L295.00 214.7 L295.20 211.9 L295.40 214.1 L295.60 216.2 L295.80 217.5 L296.00 218.1 L296.20 212.3 L296.40 217.8 L296.60 216.0 L296.80 213.1 L297.00 216.1 L297.20 217.5 L297.40 219.5 L297.60 213.3 L297.80 215.2 L298.00 214.3 L298.20 213.8 L298.40 216.9 L298.60 216.9 L298.80 213.5 L299.00 214.4 L299.20 213.2 L299.40 212.4 L299.60 217.7 L299.80 215.0 L300.00 215.1 L300.20 215.9 L300.40 218.7 L300.60 215.5 L300.80 214.2 L301.00 218.3 L301.20 213.3 L301.40 212.2 L301.60 212.5 L301.80 217.7 L302.00 215.4 L302.20 215.0 L302.40 215.0 L302.60 214.1 L302.80 212.5 L303.00 211.8 L303.20 215.7 L303.40 215.6 L303.60 218.4 L303.80 214.3 L304.00 213.9 L304.20 207.4 L304.40 219.2 L304.60 211.9 L304.80 217.9 L305.00 218.5 L305.20 213.8 L305.40 213.8 L305.60 212.3 L305.80 214.1 L306.00 210.7 L306.20 214.5 L306.40 213.8 L306.60 213.1 L306.80 216.4 L307.00 215.8 L307.20 214.3 L307.40 214.8 L307.60 211.1 L307.80 215.4 L308.00 220.8 L308.20 213.2 L308.40 215.0 L308.60 212.7 L308.80 217.0 L309.00 215.5 L309.20 213.9 L309.40 210.5 L309.60 214.1 L309.80 217.5 L310.00 214.7 L310.20 215.1 L310.40 213.0 L310.60 212.9 L310.80 217.4 L311.00 216.7 L311.20 212.1 L311.40 214.1 L311.60 215.9 L311.80 211.9 L312.00 215.8 L312.20 213.8 L312.40 208.0 L312.60 213.8 L312.80 215.6 L313.00 215.1 L313.20 214.7 L313.40 213.1 L313.60 214.1 L313.80 216.9 L314.00 216.0 L314.20 211.6 L314.40 213.3 L314.60 216.6 L314.80 213.6 L315.00 212.3 L315.20 213.7 L315.40 216.7 L315.60 215.8 L315.80 216.8 L316.00 213.1 L316.20 214.0 L316.40 215.2 L316.60 215.3 L316.80 210.4 L317.00 213.9 L317.20 212.2 L317.40 215.3 L317.60 219.0 L317.80 220.6 L318.00 216.7 L318.20 213.8 L318.40 217.3 L318.60 216.8 L318.80 218.0 L319.00 212.8 L319.20 213.7 L319.40 215.7 L319.60 218.2 L319.80 216.6 L320.00 221.3 L320.20 222.4 L320.40 207.5 L320.60 215.5 L320.80 213.1 L321.00 213.8 L321.20 214.3 L321.40 218.2 L321.60 217.9 L321.80 217.8 L322.00 212.4 L322.20 214.7 L322.40 216.2 L322.60 214.0 L322.80 217.4 L323.00 213.6 L323.20 215.3 L323.40 211.5 L323.60 218.9 L323.80 220.0 L324.00 216.0 L324.20 212.7 L324.40 217.9 L324.60 214.8 L324.80 207.1 L325.00 214.2 L325.20 217.9 L325.40 215.3 L325.60 218.3 L325.80 217.3 L326.00 216.0 L326.20 210.8 L326.40 212.8 L326.60 216.2 L326.80 216.8 L327.00 214.4 L327.20 213.5 L327.40 215.1 L327.60 209.8 L327.80 211.5 L328.00 214.4 L328.20 216.5 L328.40 215.0 L328.60 209.4 L328.80 215.4 L329.00 212.3 L329.20 216.7 L329.40 213.1 L329.60 217.4 L329.80 216.0 L330.00 212.7 L330.20 219.4 L330.40 216.5 L330.60 223.4 L330.80 219.4 L331.00 213.3 L331.20 218.9 L331.40 216.6 L331.60 211.7 L331.80 213.2 L332.00 213.1 L332.20 214.3 L332.40 217.2 L332.60 216.2 L332.80 216.3 L333.00 215.7 L333.20 212.8 L333.40 214.8 L333.60 216.0 L333.80 216.0 L334.00 216.5 L334.20 212.8 L334.40 212.3 L334.60 213.9 L334.80 211.2 L335.00 211.2 L335.20 217.7 L335.40 211.9 L335.60 219.5 L335.80 212.3 L336.00 216.7 L336.20 212.0 L336.40 216.5 L336.60 214.1 L336.80 215.9 L337.00 214.7 L337.20 216.0 L337.40 217.8 L337.60 217.9 L337.80 214.0 L338.00 216.8 L338.20 215.8 L338.40 213.9 L338.60 220.5 L338.80 209.1 L339.00 212.9 L339.20 210.2 L339.40 216.1 L339.60 217.5 L339.80 224.4 L340.00 216.0 L340.20 219.5 L340.40 216.5 L340.60 213.6 L340.80 216.7 L341.00 219.0 L341.20 214.8 L341.40 216.3 L341.60 216.4 L341.80 212.9 L342.00 212.9 L342.20 215.6 L342.40 216.4 L342.60 213.2 L342.80 213.5 L343.00 215.3 L343.20 214.5 L343.40 216.3 L343.60 216.2 L343.80 214.4 L344.00 209.2 L344.20 212.3 L344.40 215.6 L344.60 211.3 L344.80 215.7 L345.00 215.9 L345.20 213.8 L345.40 215.9 L345.60 214.3 L345.80 212.9 L346.00 211.4 L346.20 215.5 L346.40 222.3 L346.60 209.8 L346.80 214.8 L347.00 213.5 L347.20 216.3 L347.40 214.3 L347.60 208.0 L347.80 219.9 L348.00 211.3 L348.20 212.5 L348.40 211.3 L348.60 212.3 L348.80 211.7 L349.00 217.2 L349.20 215.7 L349.40 210.5 L349.60 217.2 L349.80 212.5 L350.00 215.2 L350.20 213.8 L350.40 216.1 L350.60 211.9 L350.80 216.0 L351.00 215.2 L351.20 215.4 L351.40 213.3 L351.60 219.4 L351.80 211.8 L352.00 216.4 L352.20 215.5 L352.40 218.2 L352.60 208.3 L352.80 220.8 L353.00 214.6 L353.20 211.8 L353.40 215.3 L353.60 219.3 L353.80 215.4 L354.00 212.4 L354.20 214.0 L354.40 220.4 L354.60 213.6 L354.80 213.7 L355.00 213.3 L355.20 219.5 L355.40 215.4 L355.60 217.6 L355.80 213.0 L356.00 210.6 L356.20 218.4 L356.40 216.1 L356.60 211.6 L356.80 214.1 L357.00 215.1 L357.20 212.5 L357.40 214.8 L357.60 214.7 L357.80 211.4 L358.00 210.1 L358.20 213.1 L358.40 214.4 L358.60 210.4 L358.80 214.5 L359.00 209.6 L359.20 215.3 L359.40 214.8 L359.60 210.8 L359.80 217.0 L360.00 221.2 L360.20 217.2 L360.40 211.8 L360.60 215.8 L360.80 214.4 L361.00 213.9 L361.20 214.7 L361.40 215.4 L361.60 218.2 L361.80 215.8 L362.00 213.9 L362.20 212.5 L362.40 213.7 L362.60 216.2 L362.80 218.8 L363.00 211.9 L363.20 207.1 L363.40 215.5 L363.60 212.4 L363.80 215.3 L364.00 216.2 L364.20 211.7 L364.40 212.4 L364.60 217.0 L364.80 217.6 L365.00 216.1 L365.20 212.8 L365.40 208.9 L365.60 215.9 L365.80 211.9 L366.00 211.8 L366.20 214.4 L366.40 215.9 L366.60 211.1 L366.80 214.9 L367.00 214.6 L367.20 211.7 L367.40 214.1 L367.60 214.7 L367.80 217.3 L368.00 217.6 L368.20 211.8 L368.40 213.5 L368.60 224.6 L368.80 212.4 L369.00 215.2 L369.20 215.1 L369.40 217.3 L369.60 212.4 L369.80 218.3 L370.00 213.1 L370.20 216.4 L370.40 217.6 L370.60 210.1 L370.80 215.4 L371.00 212.4 L371.20 212.0 L371.40 216.3 L371.60 212.2 L371.80 211.5 L372.00 219.7 L372.20 217.4 L372.40 214.3 L372.60 208.9 L372.80 220.8 L373.00 219.5 L373.20 215.0 L373.40 211.6 L373.60 213.3 L373.80 216.0 L374.00 213.3 L374.20 218.3 L374.40 215.1 L374.60 214.3 L374.80 211.2 L375.00 212.4 L375.20 212.2 L375.40 214.5 L375.60 215.3 L375.80 214.4 L376.00 215.9 L376.20 214.9 L376.40 217.9 L376.60 212.2 L376.80 213.6 L377.00 212.8 L377.20 217.8 L377.40 214.4 L377.60 214.7 L377.80 214.5 L378.00 215.8 L378.20 214.1 L378.40 212.3 L378.60 217.3 L378.80 217.3 L379.00 218.4 L379.20 217.4 L379.40 215.5 L379.60 216.6 L379.80 213.4 L380.00 218.1 L380.20 211.4 L380.40 214.7 L380.60 207.6 L380.80 213.6 L381.00 213.0 L381.20 210.3 L381.40 216.3 L381.60 214.0 L381.80 213.3 L382.00 212.2 L382.20 212.8 L382.40 215.6 L382.60 213.6 L382.80 214.0 L383.00 209.5 L383.20 215.1 L383.40 213.4 L383.60 213.1 L383.80 213.5 L384.00 214.9 L384.20 217.3 L384.40 215.3 L384.60 214.3 L384.80 213.4 L385.00 220.3 L385.20 217.0 L385.40 215.4 L385.60 217.2 L385.80 211.5 L386.00 213.9 L386.20 215.8 L386.40 214.7 L386.60 211.2 L386.80 212.0 L387.00 216.2 L387.20 209.0 L387.40 208.5 L387.60 215.8 L387.80 217.2 L388.00 213.0 L388.20 215.6 L388.40 210.9 L388.60 215.7 L388.80 211.7 L389.00 211.5 L389.20 213.1 L389.40 219.3 L389.60 210.0 L389.80 208.3 L390.00 215.7 L390.20 214.2 L390.40 217.8 L390.60 209.0 L390.80 210.0 L391.00 212.4 L391.20 213.2 L391.40 214.3 L391.60 213.1 L391.80 208.4 L392.00 203.7 L392.20 213.1 L392.40 215.7 L392.60 214.3 L392.80 211.7 L393.00 212.3 L393.20 215.0 L393.40 216.0 L393.60 221.2 L393.80 213.9 L394.00 215.4 L394.20 211.3 L394.40 213.3 L394.60 211.1 L394.80 211.7 L395.00 210.0 L395.20 211.1 L395.40 212.0 L395.60 210.4 L395.80 213.5 L396.00 212.0 L396.20 208.9 L396.40 216.0 L396.60 212.7 L396.80 211.8 L397.00 211.2 L397.20 211.3 L397.40 210.4 L397.60 207.8 L397.80 214.0 L398.00 214.5 L398.20 214.1 L398.40 208.7 L398.60 207.7 L398.80 209.9 L399.00 210.4 L399.20 213.0 L399.40 210.0 L399.60 211.4 L399.80 212.8 L400.00 213.9 L400.20 213.5 L400.40 212.5 L400.60 207.6 L400.80 210.1 L401.00 211.2 L401.20 208.2 L401.40 204.8 L401.60 205.8 L401.80 212.7 L402.00 207.9 L402.20 211.7 L402.40 206.1 L402.60 206.2 L402.80 206.5 L403.00 204.4 L403.20 202.9 L403.40 210.2 L403.60 209.5 L403.80 206.4 L404.00 212.0 L404.20 207.8 L404.40 209.6 L404.60 205.2 L404.80 210.2 L405.00 211.4 L405.20 208.9 L405.40 212.9 L405.60 199.7 L405.80 210.4 L406.00 206.9 L406.20 200.5 L406.40 206.0 L406.60 210.2 L406.80 209.5 L407.00 209.5 L407.20 204.6 L407.40 204.0 L407.60 204.2 L407.80 204.5 L408.00 206.1 L408.20 204.0 L408.40 205.4 L408.60 207.4 L408.80 207.4 L409.00 209.7 L409.20 211.0 L409.40 203.8 L409.60 204.6 L409.80 201.5 L410.00 202.3 L410.20 206.7 L410.40 200.8 L410.60 200.3 L410.80 202.5 L411.00 204.9 L411.20 202.7 L411.40 201.9 L411.60 205.2 L411.80 204.7 L412.00 203.8 L412.20 206.2 L412.40 201.1 L412.60 201.4 L412.80 200.7 L413.00 205.5 L413.20 206.1 L413.40 200.8 L413.60 206.0 L413.80 198.4 L414.00 204.2 L414.20 202.2 L414.40 199.9 L414.60 200.2 L414.80 200.6 L415.00 201.3 L415.20 201.3 L415.40 202.1 L415.60 201.9 L415.80 201.2 L416.00 197.5 L416.20 196.1 L416.40 201.1 L416.60 199.4 L416.80 193.2 L417.00 198.0 L417.20 198.8 L417.40 200.7 L417.60 197.7 L417.80 201.8 L418.00 202.0 L418.20 200.4 L418.40 201.4 L418.60 198.7 L418.80 194.5 L419.00 200.4 L419.20 202.3 L419.40 197.9 L419.60 197.5 L419.80 194.4 L420.00 196.4 L420.20 198.9 L420.40 193.3 L420.60 197.3 L420.80 198.3 L421.00 200.5 L421.20 198.6 L421.40 199.5 L421.60 194.0 L421.80 196.9 L422.00 201.1 L422.20 201.9 L422.40 205.3 L422.60 197.2 L422.80 199.0 L423.00 201.5 L423.20 203.2 L423.40 204.4 L423.60 199.1 L423.80 199.6 L424.00 197.7 L424.20 201.7 L424.40 197.7 L424.60 202.8 L424.80 199.7 L425.00 203.1 L425.20 195.7 L425.40 199.5 L425.60 204.7 L425.80 197.3 L426.00 200.2 L426.20 206.2 L426.40 201.7 L426.60 200.1 L426.80 202.4 L427.00 201.2 L427.20 202.2 L427.40 202.4 L427.60 203.1 L427.80 202.0 L428.00 203.7 L428.20 199.0 L428.40 206.3 L428.60 202.3 L428.80 207.1 L429.00 202.8 L429.20 204.6 L429.40 207.1 L429.60 201.1 L429.80 203.8 L430.00 203.6 L430.20 202.5 L430.40 199.4 L430.60 203.3 L430.80 205.7 L431.00 202.7 L431.20 203.8 L431.40 200.2 L431.60 207.8 L431.80 202.4 L432.00 209.7 L432.20 202.1 L432.40 204.6 L432.60 205.5 L432.80 202.1 L433.00 207.2 L433.20 203.6 L433.40 206.9 L433.60 206.1 L433.80 206.2 L434.00 210.5 L434.20 208.6 L434.40 204.4 L434.60 209.2 L434.80 203.6 L435.00 206.2 L435.20 204.9 L435.40 204.2 L435.60 210.4 L435.80 203.6 L436.00 207.2 L436.20 205.5 L436.40 208.7 L436.60 212.8 L436.80 206.1 L437.00 204.6 L437.20 209.9 L437.40 206.3 L437.60 208.2 L437.80 212.4 L438.00 209.5 L438.20 210.3 L438.40 208.6 L438.60 207.4 L438.80 210.6 L439.00 211.9 L439.20 213.8 L439.40 213.4 L439.60 211.0 L439.80 210.8 L440.00 215.0 L440.20 208.7 L440.40 212.6 L440.60 211.8 L440.80 211.6 L441.00 208.9 L441.20 214.8 L441.40 208.6 L441.60 212.0 L441.80 212.8 L442.00 213.0 L442.20 210.1 L442.40 216.6 L442.60 212.3 L442.80 215.8 L443.00 216.4 L443.20 211.5 L443.40 217.1 L443.60 218.6 L443.80 215.4 L444.00 215.8 L444.20 218.8 L444.40 212.3 L444.60 216.5 L444.80 215.6 L445.00 213.5 L445.20 217.6 L445.40 212.3 L445.60 216.0 L445.80 213.9 L446.00 216.5 L446.20 219.4 L446.40 218.5 L446.60 214.4 L446.80 219.0 L447.00 215.9 L447.20 212.5 L447.40 214.3 L447.60 217.7 L447.80 216.6 L448.00 212.1 L448.20 216.7 L448.40 221.4 L448.60 217.1 L448.80 214.9 L449.00 217.4 L449.20 214.5 L449.40 218.9 L449.60 221.1 L449.80 210.7 L450.00 217.2 L450.20 218.2 L450.40 217.2 L450.60 211.2 L450.80 217.9 L451.00 213.2 L451.20 217.9 L451.40 218.2 L451.60 217.0 L451.80 216.6 L452.00 216.1 L452.20 216.5 L452.40 218.4 L452.60 217.7 L452.80 218.1 L453.00 215.2 L453.20 210.2 L453.40 215.9 L453.60 222.5 L453.80 214.2 L454.00 215.7 L454.20 218.8 L454.40 224.3 L454.60 218.1 L454.80 220.1 L455.00 215.5 L455.20 219.1 L455.40 218.5 L455.60 216.7 L455.80 219.8 L456.00 220.4 L456.20 220.1 L456.40 217.1 L456.60 224.0 L456.80 214.6 L457.00 218.3 L457.20 210.9 L457.40 215.6 L457.60 217.8 L457.80 217.3 L458.00 220.3 L458.20 213.7 L458.40 219.5 L458.60 218.3 L458.80 216.8 L459.00 218.3 L459.20 217.3 L459.40 225.0 L459.60 217.3 L459.80 213.9 L460.00 216.4 L460.20 217.9 L460.40 218.4 L460.60 213.5 L460.80 219.4 L461.00 217.1 L461.20 217.9 L461.40 210.4 L461.60 214.4 L461.80 218.9 L462.00 217.1 L462.20 216.1 L462.40 222.3 L462.60 215.2 L462.80 218.0 L463.00 215.8 L463.20 214.6 L463.40 216.5 L463.60 211.7 L463.80 212.2 L464.00 222.3 L464.20 216.5 L464.40 218.5 L464.60 214.0 L464.80 218.1 L465.00 219.3 L465.20 218.1 L465.40 212.2 L465.60 218.6 L465.80 212.0 L466.00 213.1 L466.20 222.6 L466.40 215.9 L466.60 219.0 L466.80 215.1 L467.00 219.8 L467.20 214.8 L467.40 215.0 L467.60 213.3 L467.80 214.1 L468.00 215.4 L468.20 209.8 L468.40 210.6 L468.60 216.5 L468.80 212.3 L469.00 210.5 L469.20 210.3 L469.40 214.5 L469.60 211.8 L469.80 212.9 L470.00 214.5 L470.20 217.3 L470.40 211.9 L470.60 206.2 L470.80 211.4 L471.00 209.7 L471.20 207.9 L471.40 207.1 L471.60 213.7" fill="none" stroke="#e01818" stroke-width="1.20" stroke-linejoin="round"/>
<text x="476.70" y="102.50" font-size="13.20" text-anchor="start" fill="#c000c0" textLength="27.00" lengthAdjust="spacingAndGlyphs">x0.14</text>
<text x="476.70" y="121.90" font-size="13.20" text-anchor="start" fill="#4c3ce8" textLength="21.00" lengthAdjust="spacingAndGlyphs">x0.2</text>
<text x="476.70" y="140.20" font-size="13.20" text-anchor="start" fill="#1f78c0" textLength="21.00" lengthAdjust="spacingAndGlyphs">x0.4</text>
<text x="476.70" y="179.20" font-size="13.20" text-anchor="start" fill="#2e9e2e" textLength="12.00" lengthAdjust="spacingAndGlyphs">x2</text>
<text x="476.70" y="198.00" font-size="13.20" text-anchor="start" fill="#a47a14" textLength="12.00" lengthAdjust="spacingAndGlyphs">x4</text>
<text x="476.70" y="217.60" font-size="13.20" text-anchor="start" fill="#e01818" textLength="12.00" lengthAdjust="spacingAndGlyphs">x9</text>
<text x="539.80" y="102.50" font-size="13.20" text-anchor="end" fill="#c000c0" textLength="17.67" lengthAdjust="spacingAndGlyphs">5 K</text>
<text x="539.80" y="121.90" font-size="13.20" text-anchor="end" fill="#4c3ce8" textLength="23.67" lengthAdjust="spacingAndGlyphs">20 K</text>
<text x="508.0" y="217.8" font-size="14" fill="#e01818" textLength="32.6" lengthAdjust="spacingAndGlyphs">120 K</text>
<line x1="524.8" y1="125.8" x2="524.8" y2="198" stroke="#000" stroke-width="1.3"/>
<path d="M520.6 193.5 L524.8 205.2 L529 193.5 L524.8 196 Z" fill="#000"/>
<text x="384.00" y="45.20" font-size="19.00" font-weight="bold">L<tspan font-size="10.07" dy="3.6" dx="-0.6">1</tspan></text>
<text x="349.40" y="66.90" font-size="19.00" font-weight="bold">L<tspan font-size="10.07" dy="3.6" dx="-0.6">2</tspan></text>
<text x="317.60" y="80.90" font-size="19.00" font-weight="bold">L<tspan font-size="10.07" dy="3.6" dx="-0.6">3</tspan></text>
<text x="452.20" y="75.00" font-size="19.00" text-anchor="middle" font-weight="bold" font-style="normal" fill="#000" >X</text>
<text x="476.3" y="39.4" font-size="12" font-style="italic">E</text>
<text x="483.4" y="43.9" font-size="10.5" font-style="italic" textLength="15.8" lengthAdjust="spacingAndGlyphs">exc.</text>
<text x="501.2" y="39.4" font-size="12" textLength="39.6" lengthAdjust="spacingAndGlyphs">=1.88 eV</text></svg>
</div></body></html>
